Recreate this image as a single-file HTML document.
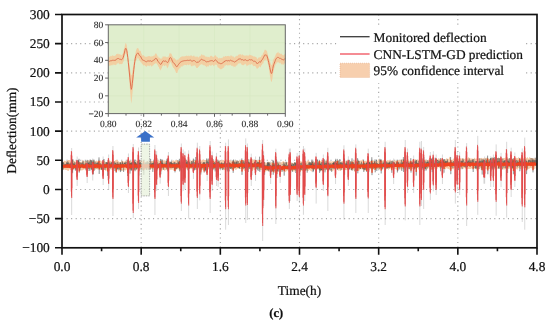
<!DOCTYPE html><html><head><meta charset="utf-8"><style>html,body{margin:0;padding:0;background:#fff;}svg{display:block}</style></head><body>
<svg width="550" height="322" viewBox="0 0 550 322" text-rendering="geometricPrecision">
<rect width="550" height="322" fill="#fff"/>
<path d="M62.0,43.66 H537.0 M62.0,72.83 H537.0 M62.0,101.99 H537.0 M62.0,131.15 H537.0 M62.0,160.31 H537.0 M62.0,189.47 H537.0 M62.0,218.64 H537.0 M141.17,14.5 V247.8 M220.33,14.5 V247.8 M299.50,14.5 V247.8 M378.67,14.5 V247.8 M457.83,14.5 V247.8" stroke="#a4a4a4" stroke-width="1.1" stroke-dasharray="1.1 3.45" fill="none"/>
<path d="M62.6,161.4 L63.6,161.8 L64.6,160.6 L65.6,161.1 L66.6,161.4 L67.6,160.0 L68.6,160.1 L69.6,159.9 L70.6,162.1 L71.6,160.8 L72.6,160.1 L73.6,160.4 L74.6,160.9 L75.6,161.7 L76.6,160.7 L77.6,160.7 L78.6,160.9 L79.6,162.3 L80.6,161.5 L81.6,162.5 L82.6,159.6 L83.6,161.7 L84.6,161.0 L85.6,161.0 L86.6,160.7 L87.6,160.5 L88.6,160.4 L89.6,160.6 L90.6,160.5 L91.6,160.7 L92.6,160.8 L93.6,159.8 L94.6,161.5 L95.6,161.6 L96.6,160.4 L97.6,160.9 L98.6,161.3 L99.6,160.8 L100.6,160.4 L101.6,161.4 L102.6,161.2 L103.6,161.5 L104.6,160.9 L105.6,161.9 L106.6,162.1 L107.6,161.3 L108.6,161.3 L109.6,160.4 L110.6,161.1 L111.6,161.5 L112.6,161.3 L113.6,161.1 L114.6,161.2 L115.6,159.9 L116.6,159.8 L117.6,160.3 L118.6,161.5 L119.6,162.0 L120.6,162.0 L121.6,160.8 L122.6,160.8 L123.6,161.8 L124.6,161.6 L125.6,161.1 L126.6,160.4 L127.6,161.6 L128.6,159.7 L129.6,160.8 L130.6,160.9 L131.6,161.2 L132.6,161.7 L133.6,160.7 L134.6,161.8 L135.6,161.8 L136.6,160.0 L137.6,161.1 L138.6,160.3 L139.6,161.8 L140.6,161.0 L141.6,160.2 L142.6,160.6 L143.6,159.8 L144.6,160.9 L145.6,161.9 L146.6,160.9 L147.6,161.1 L148.6,161.6 L149.6,161.6 L150.6,161.2 L151.6,161.0 L152.6,161.0 L153.6,161.0 L154.6,161.7 L155.6,162.1 L156.6,161.1 L157.6,159.9 L158.6,160.5 L159.6,160.9 L160.6,162.0 L161.6,160.7 L162.6,160.1 L163.6,160.8 L164.6,160.2 L165.6,160.7 L166.6,160.9 L167.6,159.8 L168.6,160.8 L169.6,161.1 L170.6,162.1 L171.6,161.8 L172.6,160.7 L173.6,160.2 L174.6,161.1 L175.6,160.2 L176.6,159.9 L177.6,160.3 L178.6,161.2 L179.6,160.4 L180.6,161.4 L181.6,161.2 L182.6,159.5 L183.6,160.6 L184.6,159.6 L185.6,161.1 L186.6,160.0 L187.6,160.7 L188.6,161.2 L189.6,160.0 L190.6,161.2 L191.6,160.6 L192.6,160.1 L193.6,160.4 L194.6,160.7 L195.6,160.2 L196.6,160.1 L197.6,161.6 L198.6,160.6 L199.6,159.6 L200.6,159.5 L201.6,160.7 L202.6,159.6 L203.6,159.8 L204.6,160.0 L205.6,160.0 L206.6,160.2 L207.6,159.7 L208.6,159.8 L209.6,160.6 L210.6,161.1 L211.6,161.1 L212.6,159.9 L213.6,160.6 L214.6,160.6 L215.6,161.6 L216.6,160.1 L217.6,160.7 L218.6,161.0 L219.6,160.2 L220.6,160.6 L221.6,160.8 L222.6,160.0 L223.6,159.9 L224.6,160.6 L225.6,160.7 L226.6,160.0 L227.6,160.0 L228.6,161.8 L229.6,159.8 L230.6,160.7 L231.6,161.2 L232.6,160.6 L233.6,160.8 L234.6,160.7 L235.6,160.3 L236.6,161.1 L237.6,160.7 L238.6,160.8 L239.6,160.5 L240.6,160.1 L241.6,160.4 L242.6,160.1 L243.6,160.0 L244.6,160.1 L245.6,160.2 L246.6,160.3 L247.6,159.0 L248.6,161.1 L249.6,159.3 L250.6,160.4 L251.6,160.5 L252.6,158.9 L253.6,160.4 L254.6,159.1 L255.6,160.1 L256.6,159.7 L257.6,160.5 L258.6,160.1 L259.6,160.2 L260.6,160.3 L261.6,158.8 L262.6,161.4 L263.6,162.7 L264.6,162.1 L265.6,162.5 L266.6,163.1 L267.6,162.8 L268.6,161.5 L269.6,161.9 L270.6,162.9 L271.6,162.3 L272.6,161.2 L273.6,163.2 L274.6,162.5 L275.6,162.0 L276.6,162.4 L277.6,162.4 L278.6,162.5 L279.6,161.5 L280.6,162.6 L281.6,162.2 L282.6,161.5 L283.6,161.1 L284.6,162.2 L285.6,162.6 L286.6,162.6 L287.6,161.9 L288.6,162.4 L289.6,162.0 L290.6,162.3 L291.6,162.5 L292.6,163.0 L293.6,163.1 L294.6,161.9 L295.6,162.8 L296.6,162.2 L297.6,162.0 L298.6,161.1 L299.6,162.4 L300.6,160.9 L301.6,161.5 L302.6,162.0 L303.6,162.3 L304.6,162.4 L305.6,161.0 L306.6,161.7 L307.6,160.7 L308.6,160.5 L309.6,161.5 L310.6,162.5 L311.6,161.0 L312.6,161.7 L313.6,161.1 L314.6,162.0 L315.6,161.0 L316.6,162.5 L317.6,161.0 L318.6,160.9 L319.6,161.6 L320.6,161.1 L321.6,160.6 L322.6,162.2 L323.6,162.7 L324.6,161.5 L325.6,160.2 L326.6,160.4 L327.6,161.4 L328.6,162.1 L329.6,161.3 L330.6,161.2 L331.6,161.5 L332.6,161.2 L333.6,161.3 L334.6,161.0 L335.6,161.4 L336.6,160.9 L337.6,160.7 L338.6,160.3 L339.6,161.8 L340.6,161.8 L341.6,161.2 L342.6,161.1 L343.6,160.9 L344.6,161.7 L345.6,161.2 L346.6,160.1 L347.6,161.8 L348.6,161.6 L349.6,160.4 L350.6,161.8 L351.6,160.6 L352.6,160.9 L353.6,160.5 L354.6,160.2 L355.6,162.0 L356.6,161.6 L357.6,159.5 L358.6,161.1 L359.6,160.7 L360.6,160.4 L361.6,160.6 L362.6,159.3 L363.6,161.9 L364.6,161.1 L365.6,160.7 L366.6,160.9 L367.6,160.4 L368.6,159.3 L369.6,160.8 L370.6,160.9 L371.6,160.9 L372.6,160.1 L373.6,160.5 L374.6,161.2 L375.6,161.1 L376.6,161.5 L377.6,160.8 L378.6,158.8 L379.6,160.7 L380.6,159.8 L381.6,161.4 L382.6,160.3 L383.6,159.9 L384.6,160.1 L385.6,161.0 L386.6,161.1 L387.6,160.1 L388.6,160.5 L389.6,159.9 L390.6,160.7 L391.6,160.5 L392.6,160.7 L393.6,160.8 L394.6,160.3 L395.6,161.0 L396.6,160.8 L397.6,159.9 L398.6,160.3 L399.6,160.3 L400.6,159.4 L401.6,160.1 L402.6,159.0 L403.6,160.6 L404.6,161.1 L405.6,159.9 L406.6,160.0 L407.6,160.1 L408.6,159.7 L409.6,160.9 L410.6,160.6 L411.6,161.0 L412.6,159.8 L413.6,160.8 L414.6,159.3 L415.6,159.1 L416.6,160.6 L417.6,159.8 L418.6,159.7 L419.6,159.7 L420.6,160.6 L421.6,159.2 L422.6,160.2 L423.6,160.5 L424.6,160.2 L425.6,159.2 L426.6,160.7 L427.6,160.0 L428.6,159.6 L429.6,159.9 L430.6,160.4 L431.6,159.7 L432.6,160.6 L433.6,158.9 L434.6,160.2 L435.6,159.4 L436.6,158.4 L437.6,159.7 L438.6,157.9 L439.6,159.3 L440.6,160.3 L441.6,158.5 L442.6,159.3 L443.6,159.4 L444.6,159.6 L445.6,159.9 L446.6,157.9 L447.6,158.8 L448.6,159.3 L449.6,156.4 L450.6,158.7 L451.6,160.1 L452.6,159.8 L453.6,158.5 L454.6,156.9 L455.6,158.9 L456.6,159.0 L457.6,158.9 L458.6,158.9 L459.6,160.2 L460.6,158.6 L461.6,158.4 L462.6,158.3 L463.6,158.5 L464.6,158.9 L465.6,158.3 L466.6,158.5 L467.6,158.4 L468.6,157.1 L469.6,158.2 L470.6,158.6 L471.6,158.6 L472.6,158.6 L473.6,159.2 L474.6,157.6 L475.6,158.9 L476.6,158.4 L477.6,158.6 L478.6,158.3 L479.6,159.2 L480.6,158.4 L481.6,157.8 L482.6,158.8 L483.6,158.1 L484.6,158.5 L485.6,158.1 L486.6,157.8 L487.6,157.6 L488.6,158.4 L489.6,159.0 L490.6,157.8 L491.6,158.8 L492.6,157.0 L493.6,158.3 L494.6,158.7 L495.6,159.3 L496.6,157.3 L497.6,158.2 L498.6,157.2 L499.6,158.5 L500.6,158.9 L501.6,157.6 L502.6,158.6 L503.6,157.9 L504.6,158.0 L505.6,157.5 L506.6,157.9 L507.6,156.8 L508.6,159.2 L509.6,158.5 L510.6,157.9 L511.6,158.9 L512.6,159.0 L513.6,158.1 L514.6,159.7 L515.6,157.3 L516.6,157.9 L517.6,158.2 L518.6,157.1 L519.6,159.0 L520.6,157.4 L521.6,158.1 L522.6,157.4 L523.6,158.5 L524.6,157.4 L525.6,157.1 L526.6,158.2 L527.6,157.1 L528.6,159.1 L529.6,156.7 L530.6,157.9 L531.6,158.1 L532.6,158.1 L533.6,158.4 L534.6,158.7 L535.6,157.7 L535.6,168.6 L534.6,168.8 L533.6,169.1 L532.6,168.5 L531.6,168.2 L530.6,168.0 L529.6,168.6 L528.6,169.2 L527.6,168.3 L526.6,168.0 L525.6,168.6 L524.6,168.2 L523.6,168.6 L522.6,168.3 L521.6,168.7 L520.6,169.3 L519.6,168.8 L518.6,167.4 L517.6,169.7 L516.6,169.2 L515.6,168.5 L514.6,169.3 L513.6,168.1 L512.6,168.9 L511.6,169.2 L510.6,167.7 L509.6,168.5 L508.6,169.1 L507.6,168.5 L506.6,169.5 L505.6,168.2 L504.6,169.4 L503.6,169.5 L502.6,168.9 L501.6,167.9 L500.6,168.8 L499.6,168.8 L498.6,168.5 L497.6,168.7 L496.6,170.0 L495.6,169.5 L494.6,169.7 L493.6,167.9 L492.6,168.2 L491.6,169.0 L490.6,169.2 L489.6,168.9 L488.6,169.1 L487.6,168.9 L486.6,169.6 L485.6,169.0 L484.6,169.1 L483.6,169.2 L482.6,168.8 L481.6,167.9 L480.6,168.1 L479.6,168.9 L478.6,168.8 L477.6,170.1 L476.6,170.8 L475.6,168.6 L474.6,168.6 L473.6,168.8 L472.6,169.7 L471.6,168.2 L470.6,169.1 L469.6,168.9 L468.6,168.9 L467.6,169.1 L466.6,169.5 L465.6,168.9 L464.6,168.1 L463.6,168.4 L462.6,169.2 L461.6,168.0 L460.6,168.4 L459.6,170.2 L458.6,168.3 L457.6,168.1 L456.6,168.7 L455.6,168.3 L454.6,167.8 L453.6,169.4 L452.6,168.9 L451.6,169.2 L450.6,168.7 L449.6,169.7 L448.6,169.0 L447.6,168.8 L446.6,167.9 L445.6,169.4 L444.6,168.7 L443.6,168.6 L442.6,168.0 L441.6,167.5 L440.6,169.4 L439.6,168.0 L438.6,167.1 L437.6,168.6 L436.6,169.7 L435.6,169.9 L434.6,169.1 L433.6,168.5 L432.6,169.6 L431.6,169.9 L430.6,168.9 L429.6,169.5 L428.6,168.0 L427.6,168.7 L426.6,170.1 L425.6,169.2 L424.6,168.4 L423.6,168.5 L422.6,168.2 L421.6,168.8 L420.6,168.5 L419.6,168.1 L418.6,170.1 L417.6,167.8 L416.6,168.9 L415.6,169.0 L414.6,167.5 L413.6,169.8 L412.6,169.0 L411.6,169.0 L410.6,168.6 L409.6,169.0 L408.6,169.1 L407.6,169.2 L406.6,168.0 L405.6,169.3 L404.6,169.0 L403.6,169.6 L402.6,168.5 L401.6,169.7 L400.6,169.6 L399.6,168.9 L398.6,168.1 L397.6,168.0 L396.6,169.6 L395.6,169.2 L394.6,168.8 L393.6,169.7 L392.6,168.7 L391.6,168.6 L390.6,168.7 L389.6,168.5 L388.6,170.3 L387.6,168.6 L386.6,169.0 L385.6,169.4 L384.6,170.2 L383.6,168.2 L382.6,168.2 L381.6,169.7 L380.6,168.9 L379.6,170.0 L378.6,169.1 L377.6,168.9 L376.6,169.3 L375.6,169.0 L374.6,170.3 L373.6,169.0 L372.6,169.8 L371.6,170.7 L370.6,168.8 L369.6,170.2 L368.6,170.7 L367.6,169.6 L366.6,169.8 L365.6,170.2 L364.6,170.5 L363.6,170.5 L362.6,169.5 L361.6,169.2 L360.6,169.0 L359.6,170.8 L358.6,168.9 L357.6,170.1 L356.6,170.9 L355.6,170.3 L354.6,172.3 L353.6,169.9 L352.6,169.5 L351.6,170.4 L350.6,169.8 L349.6,168.6 L348.6,169.8 L347.6,169.8 L346.6,170.2 L345.6,170.1 L344.6,170.3 L343.6,168.9 L342.6,169.7 L341.6,169.8 L340.6,171.2 L339.6,170.2 L338.6,171.1 L337.6,168.7 L336.6,168.8 L335.6,169.2 L334.6,169.2 L333.6,170.3 L332.6,171.6 L331.6,169.9 L330.6,171.3 L329.6,169.8 L328.6,170.2 L327.6,170.3 L326.6,169.3 L325.6,170.7 L324.6,169.7 L323.6,171.0 L322.6,170.2 L321.6,171.2 L320.6,170.6 L319.6,169.9 L318.6,169.0 L317.6,169.3 L316.6,171.0 L315.6,170.5 L314.6,169.9 L313.6,169.7 L312.6,169.6 L311.6,171.8 L310.6,170.7 L309.6,169.7 L308.6,170.8 L307.6,170.9 L306.6,171.0 L305.6,169.6 L304.6,170.8 L303.6,170.5 L302.6,171.2 L301.6,170.6 L300.6,171.1 L299.6,170.3 L298.6,170.6 L297.6,170.4 L296.6,170.6 L295.6,170.8 L294.6,171.4 L293.6,171.4 L292.6,170.9 L291.6,170.8 L290.6,171.1 L289.6,172.6 L288.6,171.9 L287.6,170.2 L286.6,171.1 L285.6,172.3 L284.6,170.5 L283.6,170.6 L282.6,169.8 L281.6,172.3 L280.6,170.8 L279.6,172.2 L278.6,170.3 L277.6,172.0 L276.6,170.3 L275.6,170.4 L274.6,172.9 L273.6,172.5 L272.6,171.9 L271.6,170.6 L270.6,171.7 L269.6,171.7 L268.6,171.0 L267.6,171.1 L266.6,171.2 L265.6,170.5 L264.6,170.9 L263.6,170.5 L262.6,169.9 L261.6,169.9 L260.6,169.9 L259.6,169.8 L258.6,168.5 L257.6,169.0 L256.6,168.5 L255.6,168.8 L254.6,170.3 L253.6,169.6 L252.6,169.2 L251.6,170.6 L250.6,168.8 L249.6,169.2 L248.6,169.6 L247.6,169.3 L246.6,170.3 L245.6,170.8 L244.6,171.0 L243.6,170.1 L242.6,168.1 L241.6,169.0 L240.6,168.9 L239.6,168.8 L238.6,168.8 L237.6,168.5 L236.6,169.6 L235.6,169.9 L234.6,168.9 L233.6,169.3 L232.6,169.0 L231.6,169.2 L230.6,169.0 L229.6,168.6 L228.6,170.1 L227.6,169.7 L226.6,169.4 L225.6,170.0 L224.6,170.1 L223.6,170.3 L222.6,169.2 L221.6,169.0 L220.6,169.2 L219.6,168.5 L218.6,169.4 L217.6,169.5 L216.6,169.0 L215.6,170.1 L214.6,169.4 L213.6,169.2 L212.6,169.6 L211.6,169.1 L210.6,169.5 L209.6,168.8 L208.6,169.2 L207.6,168.8 L206.6,169.2 L205.6,170.4 L204.6,168.9 L203.6,170.0 L202.6,169.9 L201.6,168.9 L200.6,169.5 L199.6,168.5 L198.6,168.9 L197.6,171.6 L196.6,169.1 L195.6,169.3 L194.6,169.4 L193.6,170.3 L192.6,168.1 L191.6,169.3 L190.6,169.1 L189.6,168.3 L188.6,170.3 L187.6,169.5 L186.6,169.2 L185.6,169.2 L184.6,168.7 L183.6,169.9 L182.6,167.6 L181.6,169.9 L180.6,169.4 L179.6,169.8 L178.6,169.5 L177.6,169.0 L176.6,170.1 L175.6,169.2 L174.6,169.1 L173.6,171.0 L172.6,169.6 L171.6,169.8 L170.6,170.0 L169.6,169.1 L168.6,171.2 L167.6,170.7 L166.6,169.4 L165.6,170.0 L164.6,171.1 L163.6,168.8 L162.6,170.3 L161.6,170.1 L160.6,169.8 L159.6,169.4 L158.6,169.2 L157.6,169.8 L156.6,169.8 L155.6,170.0 L154.6,170.1 L153.6,169.5 L152.6,169.3 L151.6,168.8 L150.6,169.6 L149.6,169.7 L148.6,169.5 L147.6,170.3 L146.6,170.0 L145.6,169.9 L144.6,169.8 L143.6,168.7 L142.6,170.4 L141.6,169.4 L140.6,169.3 L139.6,169.8 L138.6,170.3 L137.6,169.1 L136.6,170.3 L135.6,170.3 L134.6,170.6 L133.6,168.6 L132.6,170.0 L131.6,169.9 L130.6,168.7 L129.6,168.7 L128.6,170.4 L127.6,169.5 L126.6,169.4 L125.6,170.5 L124.6,170.2 L123.6,170.2 L122.6,170.9 L121.6,170.2 L120.6,170.0 L119.6,170.2 L118.6,171.5 L117.6,168.5 L116.6,170.4 L115.6,169.3 L114.6,169.3 L113.6,169.0 L112.6,169.6 L111.6,169.7 L110.6,168.9 L109.6,171.6 L108.6,169.3 L107.6,169.1 L106.6,170.5 L105.6,170.9 L104.6,169.7 L103.6,170.0 L102.6,170.5 L101.6,170.3 L100.6,169.8 L99.6,169.8 L98.6,169.6 L97.6,169.4 L96.6,169.1 L95.6,169.8 L94.6,169.4 L93.6,169.7 L92.6,169.1 L91.6,169.4 L90.6,168.9 L89.6,169.1 L88.6,169.3 L87.6,168.8 L86.6,170.9 L85.6,170.5 L84.6,169.0 L83.6,169.8 L82.6,170.3 L81.6,170.4 L80.6,170.0 L79.6,170.9 L78.6,169.1 L77.6,170.5 L76.6,169.4 L75.6,169.8 L74.6,169.2 L73.6,169.6 L72.6,168.7 L71.6,169.1 L70.6,170.3 L69.6,169.0 L68.6,170.9 L67.6,170.7 L66.6,169.9 L65.6,169.9 L64.6,169.5 L63.6,169.6 L62.6,169.7Z" fill="#f7c9a6"/>
<path d="M71.65,148.00 V215.00 M77.15,156.50 V186.00 M87.15,159.50 V183.00 M92.75,158.50 V180.50 M103.15,156.50 V185.00 M108.65,154.50 V190.00 M112.95,146.00 V216.00 M128.45,153.50 V193.00 M133.25,144.00 V218.00 M138.55,147.50 V209.00 M154.95,145.00 V215.00 M156.65,151.20 V191.00 M160.15,159.50 V183.70 M168.45,152.00 V196.00 M181.35,143.50 V211.00 M183.15,149.50 V191.00 M184.95,151.50 V189.00 M188.65,150.30 V218.50 M193.45,159.50 V179.00 M197.35,142.70 V209.00 M199.75,146.00 V200.30 M207.15,159.50 V181.00 M210.15,141.00 V213.00 M212.15,151.50 V191.00 M216.55,152.90 V186.00 M218.15,159.50 V187.00 M225.65,142.70 V229.70 M228.45,139.30 V225.00 M245.75,138.40 V223.00 M247.45,143.50 V220.00 M251.25,153.70 V186.00 M255.55,156.50 V181.00 M262.65,140.00 V241.00 M263.65,151.50 V206.00 M270.65,161.50 V184.00 M275.85,148.70 V224.00 M280.15,161.50 V183.00 M289.35,148.70 V209.00 M290.35,148.50 V201.00 M297.15,152.90 V201.00 M299.35,152.00 V203.00 M303.45,146.00 V214.80 M304.75,148.50 V201.00 M316.15,152.90 V203.60 M323.35,154.50 V191.00 M327.85,147.80 V211.00 M335.55,158.50 V184.00 M343.95,145.30 V219.50 M348.35,156.30 V186.00 M355.85,144.40 V213.00 M368.25,148.70 V213.00 M385.15,141.80 V225.00 M393.65,158.50 V184.00 M405.25,140.00 V220.40 M407.55,148.50 V193.00 M413.65,155.50 V193.00 M419.85,141.80 V225.00 M421.45,141.00 V206.00 M423.65,146.90 V209.00 M430.35,152.00 V200.00 M433.35,151.20 V191.40 M436.15,154.50 V195.00 M442.45,154.50 V184.00 M455.35,140.00 V203.60 M457.25,151.50 V191.00 M459.65,152.00 V195.00 M466.65,143.10 V226.00 M477.75,135.90 V214.80 M484.65,156.50 V183.70 M483.95,159.50 V183.70 M490.75,156.30 V187.00 M493.45,154.50 V187.00 M496.15,144.40 V215.70 M501.05,152.90 V187.00 M506.65,141.80 V217.60 M511.15,147.70 V197.00 M514.85,152.50 V187.00 M522.25,148.50 V222.00 M524.75,137.60 V229.70" stroke="#aaa" stroke-width="0.45" fill="none"/>
<path d="M62.60,164.41 L62.80,161.99 L63.00,169.81 L63.20,168.97 L63.40,167.55 L63.60,162.48 L63.80,166.05 L64.00,164.99 L64.20,165.81 L64.40,165.11 L64.60,166.95 L64.80,164.57 L65.00,167.82 L65.20,166.22 L65.40,164.83 L65.60,165.30 L65.80,164.45 L66.00,167.71 L66.20,164.88 L66.40,166.36 L66.60,164.57 L66.80,161.73 L67.00,167.94 L67.20,162.84 L67.40,167.35 L67.60,166.68 L67.80,161.28 L68.00,163.13 L68.20,164.25 L68.40,163.45 L68.60,162.51 L68.80,167.51 L69.00,164.96 L69.20,166.59 L69.40,164.46 L69.60,166.38 L69.80,163.63 L70.00,165.51 L70.20,167.09 L70.40,165.70 L70.60,164.39 L70.80,162.75 L71.00,166.02 L71.20,166.48 L71.40,164.91 L71.60,163.58 L71.80,166.99 L72.00,172.03 L72.20,164.79 L72.40,159.74 L72.60,173.20 L72.80,159.08 L73.00,165.90 L73.20,163.74 L73.40,169.17 L73.60,164.91 L73.80,163.55 L74.00,165.00 L74.20,166.01 L74.40,164.12 L74.60,165.43 L74.80,162.05 L75.00,164.98 L75.20,167.59 L75.40,170.69 L75.60,167.41 L75.80,166.28 L76.00,168.65 L76.20,168.22 L76.40,169.89 L76.60,168.38 L76.80,165.26 L77.00,166.24 L77.20,166.03 L77.40,166.35 L77.60,166.09 L77.80,163.53 L78.00,160.09 L78.20,163.82 L78.40,160.30 L78.60,165.74 L78.80,165.57 L79.00,158.85 L79.20,172.65 L79.40,167.81 L79.60,165.81 L79.80,169.90 L80.00,170.43 L80.20,162.42 L80.40,168.25 L80.60,166.70 L80.80,166.64 L81.00,167.99 L81.20,163.69 L81.40,164.02 L81.60,163.41 L81.80,163.59 L82.00,165.30 L82.20,161.78 L82.40,162.83 L82.60,167.05 L82.80,165.37 L83.00,166.55 L83.20,160.64 L83.40,163.51 L83.60,164.11 L83.80,165.64 L84.00,164.03 L84.20,167.98 L84.40,165.40 L84.60,165.59 L84.80,165.58 L85.00,167.39 L85.20,164.32 L85.40,168.47 L85.60,166.74 L85.80,165.95 L86.00,160.54 L86.20,170.20 L86.40,168.18 L86.60,168.00 L86.80,166.52 L87.00,167.82 L87.20,165.85 L87.40,168.80 L87.60,165.47 L87.80,160.15 L88.00,169.02 L88.20,165.82 L88.40,162.50 L88.60,165.02 L88.80,163.24 L89.00,171.00 L89.20,166.83 L89.40,161.46 L89.60,166.96 L89.80,164.50 L90.00,170.52 L90.20,162.80 L90.40,159.69 L90.60,165.71 L90.80,164.63 L91.00,164.45 L91.20,159.97 L91.40,166.64 L91.60,169.88 L91.80,160.57 L92.00,168.58 L92.20,164.05 L92.40,171.64 L92.60,166.66 L92.80,165.04 L93.00,168.40 L93.20,159.62 L93.40,174.22 L93.60,167.37 L93.80,164.20 L94.00,160.88 L94.20,170.81 L94.40,164.62 L94.60,163.94 L94.80,166.41 L95.00,161.47 L95.20,162.01 L95.40,164.23 L95.60,164.17 L95.80,165.71 L96.00,168.44 L96.20,164.29 L96.40,166.80 L96.60,167.09 L96.80,162.70 L97.00,166.11 L97.20,163.07 L97.40,168.29 L97.60,166.70 L97.80,165.56 L98.00,162.03 L98.20,165.82 L98.40,163.52 L98.60,167.35 L98.80,165.21 L99.00,157.42 L99.20,173.94 L99.40,167.39 L99.60,163.97 L99.80,168.54 L100.00,164.74 L100.20,164.71 L100.40,165.83 L100.60,163.56 L100.80,164.36 L101.00,165.09 L101.20,169.49 L101.40,169.41 L101.60,164.84 L101.80,169.70 L102.00,165.40 L102.20,166.50 L102.40,167.81 L102.60,166.27 L102.80,171.79 L103.00,166.14 L103.20,162.39 L103.40,168.90 L103.60,164.43 L103.80,164.71 L104.00,159.00 L104.20,168.11 L104.40,167.63 L104.60,167.58 L104.80,168.05 L105.00,169.90 L105.20,165.38 L105.40,167.94 L105.60,163.57 L105.80,164.58 L106.00,168.25 L106.20,166.52 L106.40,162.03 L106.60,166.44 L106.80,165.02 L107.00,163.37 L107.20,166.63 L107.40,162.42 L107.60,175.85 L107.80,162.61 L108.00,170.10 L108.20,161.56 L108.40,166.07 L108.60,167.08 L108.80,167.16 L109.00,162.31 L109.20,164.66 L109.40,165.86 L109.60,167.57 L109.80,163.81 L110.00,162.47 L110.20,168.10 L110.40,168.36 L110.60,166.45 L110.80,163.91 L111.00,166.55 L111.20,165.77 L111.40,167.67 L111.60,162.24 L111.80,165.79 L112.00,165.07 L112.20,162.60 L112.40,166.05 L112.60,165.58 L112.80,164.42 L113.00,166.51 L113.20,161.79 L113.40,165.34 L113.60,166.60 L113.80,166.22 L114.00,168.28 L114.20,162.36 L114.40,161.56 L114.60,166.10 L114.80,166.66 L115.00,170.99 L115.20,167.08 L115.40,163.21 L115.60,167.57 L115.80,163.28 L116.00,162.61 L116.20,172.86 L116.40,166.32 L116.60,167.33 L116.80,166.94 L117.00,170.19 L117.20,166.21 L117.40,168.64 L117.60,162.80 L117.80,161.85 L118.00,169.18 L118.20,169.31 L118.40,166.80 L118.60,166.06 L118.80,165.90 L119.00,163.68 L119.20,169.47 L119.40,167.18 L119.60,166.78 L119.80,166.45 L120.00,168.19 L120.20,162.43 L120.40,172.08 L120.60,162.43 L120.80,166.79 L121.00,171.15 L121.20,164.12 L121.40,165.13 L121.60,167.78 L121.80,167.95 L122.00,167.09 L122.20,161.26 L122.40,166.77 L122.60,162.38 L122.80,163.32 L123.00,166.89 L123.20,164.69 L123.40,167.57 L123.60,171.96 L123.80,167.48 L124.00,167.34 L124.20,163.13 L124.40,163.79 L124.60,162.69 L124.80,164.07 L125.00,162.62 L125.20,163.74 L125.40,164.91 L125.60,162.85 L125.80,161.77 L126.00,161.91 L126.20,166.63 L126.40,165.61 L126.60,168.12 L126.80,168.17 L127.00,164.57 L127.20,167.19 L127.40,160.10 L127.60,176.02 L127.80,168.56 L128.00,164.89 L128.20,162.43 L128.40,166.44 L128.60,160.59 L128.80,163.42 L129.00,167.39 L129.20,165.64 L129.40,164.17 L129.60,167.92 L129.80,161.31 L130.00,173.59 L130.20,164.15 L130.40,163.24 L130.60,166.65 L130.80,162.86 L131.00,170.39 L131.20,163.92 L131.40,170.62 L131.60,162.60 L131.80,167.02 L132.00,162.32 L132.20,161.95 L132.40,165.86 L132.60,167.20 L132.80,162.13 L133.00,168.52 L133.20,163.36 L133.40,165.78 L133.60,166.42 L133.80,166.98 L134.00,160.76 L134.20,169.64 L134.40,166.90 L134.60,164.33 L134.80,159.53 L135.00,171.22 L135.20,161.89 L135.40,166.85 L135.60,164.55 L135.80,162.49 L136.00,164.06 L136.20,169.50 L136.40,164.57 L136.60,163.91 L136.80,168.94 L137.00,166.63 L137.20,165.54 L137.40,163.85 L137.60,161.39 L137.80,162.38 L138.00,164.18 L138.20,164.86 L138.40,166.35 L138.60,160.52 L138.80,175.67 L139.00,166.00 L139.20,162.80 L139.40,159.82 L139.60,164.07 L139.80,162.94 L140.00,163.73 L140.20,164.71 L140.40,162.19 L140.60,162.53 L140.80,165.16 L141.00,165.72 L141.20,163.71 L141.40,166.72 L141.60,164.85 L141.80,162.77 L142.00,165.52 L142.20,170.31 L142.40,163.66 L142.60,168.45 L142.80,169.00 L143.00,169.31 L143.20,163.28 L143.40,170.65 L143.60,159.75 L143.80,174.93 L144.00,164.81 L144.20,166.98 L144.40,165.55 L144.60,164.95 L144.80,168.75 L145.00,163.53 L145.20,162.70 L145.40,167.47 L145.60,167.24 L145.80,168.25 L146.00,162.62 L146.20,168.22 L146.40,166.66 L146.60,169.99 L146.80,162.16 L147.00,165.97 L147.20,164.68 L147.40,161.27 L147.60,163.55 L147.80,168.34 L148.00,164.19 L148.20,162.34 L148.40,169.94 L148.60,167.97 L148.80,167.97 L149.00,163.35 L149.20,165.25 L149.40,168.08 L149.60,163.70 L149.80,163.45 L150.00,167.55 L150.20,169.46 L150.40,162.40 L150.60,158.90 L150.80,161.62 L151.00,162.76 L151.20,165.03 L151.40,166.99 L151.60,165.01 L151.80,163.57 L152.00,165.79 L152.20,162.88 L152.40,165.26 L152.60,163.71 L152.80,171.88 L153.00,167.50 L153.20,163.21 L153.40,162.79 L153.60,164.24 L153.80,161.10 L154.00,163.47 L154.20,163.45 L154.40,167.67 L154.60,164.26 L154.80,163.31 L155.00,161.88 L155.20,162.31 L155.40,165.19 L155.60,164.80 L155.80,168.31 L156.00,163.72 L156.20,168.11 L156.40,166.03 L156.60,159.17 L156.80,170.88 L157.00,162.00 L157.20,167.28 L157.40,168.98 L157.60,165.89 L157.80,167.33 L158.00,164.29 L158.20,164.38 L158.40,163.62 L158.60,167.88 L158.80,166.23 L159.00,164.73 L159.20,164.48 L159.40,166.78 L159.60,166.18 L159.80,163.17 L160.00,169.79 L160.20,166.00 L160.40,165.36 L160.60,158.92 L160.80,174.35 L161.00,165.10 L161.20,166.72 L161.40,162.54 L161.60,163.66 L161.80,159.44 L162.00,168.49 L162.20,160.38 L162.40,167.09 L162.60,163.16 L162.80,162.77 L163.00,164.81 L163.20,166.00 L163.40,166.90 L163.60,169.92 L163.80,166.24 L164.00,167.60 L164.20,163.75 L164.40,167.16 L164.60,165.70 L164.80,164.10 L165.00,165.05 L165.20,165.14 L165.40,165.79 L165.60,166.34 L165.80,163.97 L166.00,163.37 L166.20,167.24 L166.40,160.88 L166.60,163.68 L166.80,169.32 L167.00,158.79 L167.20,163.48 L167.40,167.07 L167.60,159.83 L167.80,171.40 L168.00,158.78 L168.20,169.01 L168.40,169.33 L168.60,167.66 L168.80,164.70 L169.00,166.20 L169.20,162.94 L169.40,167.37 L169.60,162.36 L169.80,164.56 L170.00,167.86 L170.20,162.37 L170.40,164.32 L170.60,165.69 L170.80,161.77 L171.00,168.29 L171.20,166.14 L171.40,161.32 L171.60,165.13 L171.80,163.24 L172.00,163.54 L172.20,165.45 L172.40,163.41 L172.60,167.76 L172.80,163.42 L173.00,167.80 L173.20,165.13 L173.40,167.47 L173.60,163.84 L173.80,163.93 L174.00,162.24 L174.20,166.74 L174.40,167.68 L174.60,170.75 L174.80,161.99 L175.00,172.33 L175.20,164.68 L175.40,166.24 L175.60,165.16 L175.80,169.03 L176.00,167.68 L176.20,163.05 L176.40,163.44 L176.60,168.78 L176.80,166.02 L177.00,164.62 L177.20,168.30 L177.40,164.21 L177.60,164.49 L177.80,164.02 L178.00,160.11 L178.20,167.46 L178.40,162.07 L178.60,163.73 L178.80,163.27 L179.00,167.10 L179.20,165.03 L179.40,158.85 L179.60,171.35 L179.80,164.97 L180.00,161.36 L180.20,166.00 L180.40,166.15 L180.60,165.15 L180.80,170.51 L181.00,166.57 L181.20,166.74 L181.40,165.56 L181.60,164.69 L181.80,167.70 L182.00,168.05 L182.20,161.80 L182.40,167.93 L182.60,166.52 L182.80,167.68 L183.00,166.39 L183.20,161.94 L183.40,162.13 L183.60,169.92 L183.80,165.83 L184.00,161.49 L184.20,160.11 L184.40,176.59 L184.60,160.38 L184.80,159.21 L185.00,161.00 L185.20,165.87 L185.40,165.04 L185.60,164.51 L185.80,165.90 L186.00,166.72 L186.20,159.69 L186.40,164.37 L186.60,163.00 L186.80,161.95 L187.00,163.73 L187.20,164.83 L187.40,164.46 L187.60,161.37 L187.80,163.89 L188.00,170.39 L188.20,162.40 L188.40,160.76 L188.60,165.86 L188.80,166.69 L189.00,161.33 L189.20,169.03 L189.40,167.73 L189.60,163.09 L189.80,162.18 L190.00,163.55 L190.20,164.85 L190.40,166.99 L190.60,166.75 L190.80,165.07 L191.00,167.55 L191.20,165.34 L191.40,167.45 L191.60,161.47 L191.80,161.03 L192.00,167.14 L192.20,161.50 L192.40,164.33 L192.60,164.86 L192.80,163.85 L193.00,163.93 L193.20,168.73 L193.40,158.61 L193.60,167.41 L193.80,171.08 L194.00,165.17 L194.20,165.06 L194.40,166.99 L194.60,169.86 L194.80,162.01 L195.00,165.33 L195.20,164.61 L195.40,166.55 L195.60,165.51 L195.80,156.98 L196.00,169.92 L196.20,165.22 L196.40,163.35 L196.60,163.36 L196.80,164.72 L197.00,164.72 L197.20,162.04 L197.40,169.17 L197.60,164.73 L197.80,161.48 L198.00,167.94 L198.20,163.13 L198.40,166.40 L198.60,165.03 L198.80,165.73 L199.00,165.52 L199.20,163.58 L199.40,165.18 L199.60,170.36 L199.80,159.25 L200.00,165.24 L200.20,166.20 L200.40,162.33 L200.60,162.21 L200.80,174.57 L201.00,164.09 L201.20,170.46 L201.40,166.45 L201.60,165.25 L201.80,166.29 L202.00,166.70 L202.20,168.12 L202.40,166.18 L202.60,165.43 L202.80,165.51 L203.00,168.56 L203.20,167.17 L203.40,162.44 L203.60,163.39 L203.80,165.90 L204.00,162.10 L204.20,172.54 L204.40,162.55 L204.60,164.36 L204.80,166.14 L205.00,167.62 L205.20,165.06 L205.40,170.43 L205.60,164.83 L205.80,171.53 L206.00,167.63 L206.20,166.32 L206.40,163.73 L206.60,158.52 L206.80,164.62 L207.00,165.48 L207.20,170.02 L207.40,161.43 L207.60,169.97 L207.80,164.36 L208.00,166.90 L208.20,158.51 L208.40,165.37 L208.60,164.12 L208.80,166.78 L209.00,165.24 L209.20,162.04 L209.40,167.47 L209.60,166.81 L209.80,166.55 L210.00,167.62 L210.20,167.86 L210.40,164.94 L210.60,161.47 L210.80,161.39 L211.00,168.50 L211.20,166.84 L211.40,165.26 L211.60,163.86 L211.80,165.07 L212.00,165.05 L212.20,164.11 L212.40,163.17 L212.60,170.61 L212.80,165.58 L213.00,158.99 L213.20,169.39 L213.40,163.09 L213.60,166.85 L213.80,166.95 L214.00,164.41 L214.20,165.11 L214.40,164.18 L214.60,162.09 L214.80,168.35 L215.00,165.94 L215.20,171.40 L215.40,163.00 L215.60,164.61 L215.80,167.26 L216.00,164.32 L216.20,161.35 L216.40,162.49 L216.60,165.22 L216.80,165.85 L217.00,164.71 L217.20,167.56 L217.40,167.53 L217.60,165.79 L217.80,165.02 L218.00,160.33 L218.20,175.69 L218.40,167.34 L218.60,165.10 L218.80,166.11 L219.00,164.10 L219.20,161.27 L219.40,162.33 L219.60,166.93 L219.80,166.10 L220.00,169.07 L220.20,165.08 L220.40,167.18 L220.60,168.37 L220.80,167.51 L221.00,163.34 L221.20,164.45 L221.40,165.26 L221.60,162.36 L221.80,166.15 L222.00,167.58 L222.20,163.67 L222.40,170.05 L222.60,164.16 L222.80,164.39 L223.00,164.29 L223.20,163.07 L223.40,166.00 L223.60,164.96 L223.80,169.23 L224.00,166.49 L224.20,166.30 L224.40,164.33 L224.60,161.23 L224.80,164.67 L225.00,162.69 L225.20,167.37 L225.40,162.28 L225.60,170.57 L225.80,166.81 L226.00,167.07 L226.20,165.49 L226.40,165.43 L226.60,166.59 L226.80,167.29 L227.00,163.04 L227.20,166.17 L227.40,171.38 L227.60,164.65 L227.80,164.22 L228.00,163.08 L228.20,161.11 L228.40,167.97 L228.60,165.03 L228.80,165.65 L229.00,169.67 L229.20,171.37 L229.40,162.56 L229.60,167.61 L229.80,166.49 L230.00,165.91 L230.20,166.11 L230.40,164.81 L230.60,169.00 L230.80,166.46 L231.00,165.76 L231.20,168.11 L231.40,167.19 L231.60,166.06 L231.80,165.71 L232.00,169.43 L232.20,166.18 L232.40,164.62 L232.60,162.63 L232.80,163.96 L233.00,160.24 L233.20,172.80 L233.40,165.52 L233.60,159.52 L233.80,164.90 L234.00,166.53 L234.20,165.28 L234.40,162.36 L234.60,168.14 L234.80,163.03 L235.00,161.65 L235.20,162.03 L235.40,164.80 L235.60,167.39 L235.80,167.86 L236.00,165.38 L236.20,161.73 L236.40,163.12 L236.60,162.49 L236.80,164.36 L237.00,160.21 L237.20,165.11 L237.40,166.50 L237.60,164.43 L237.80,166.01 L238.00,162.38 L238.20,161.03 L238.40,163.16 L238.60,167.82 L238.80,167.49 L239.00,163.62 L239.20,167.94 L239.40,163.96 L239.60,168.74 L239.80,166.06 L240.00,163.63 L240.20,166.87 L240.40,162.78 L240.60,162.36 L240.80,161.02 L241.00,165.46 L241.20,164.65 L241.40,164.59 L241.60,163.72 L241.80,158.47 L242.00,174.87 L242.20,162.90 L242.40,168.02 L242.60,168.47 L242.80,165.65 L243.00,160.25 L243.20,163.21 L243.40,166.36 L243.60,164.81 L243.80,168.80 L244.00,161.21 L244.20,166.52 L244.40,163.13 L244.60,168.20 L244.80,164.56 L245.00,167.43 L245.20,163.07 L245.40,161.08 L245.60,161.86 L245.80,163.17 L246.00,162.08 L246.20,167.86 L246.40,168.22 L246.60,165.45 L246.80,162.05 L247.00,164.43 L247.20,162.95 L247.40,168.51 L247.60,165.55 L247.80,166.00 L248.00,158.95 L248.20,172.02 L248.40,162.72 L248.60,161.81 L248.80,165.68 L249.00,164.97 L249.20,162.63 L249.40,163.70 L249.60,168.78 L249.80,162.21 L250.00,162.32 L250.20,164.11 L250.40,162.88 L250.60,163.58 L250.80,166.08 L251.00,169.20 L251.20,160.07 L251.40,164.64 L251.60,158.82 L251.80,175.18 L252.00,164.20 L252.20,163.80 L252.40,167.29 L252.60,163.47 L252.80,164.35 L253.00,164.68 L253.20,164.95 L253.40,164.23 L253.60,167.27 L253.80,164.65 L254.00,165.12 L254.20,164.53 L254.40,162.05 L254.60,162.50 L254.80,161.93 L255.00,165.16 L255.20,162.80 L255.40,161.89 L255.60,165.27 L255.80,166.01 L256.00,160.07 L256.20,169.04 L256.40,164.73 L256.60,164.37 L256.80,167.41 L257.00,164.82 L257.20,163.07 L257.40,170.34 L257.60,161.84 L257.80,164.38 L258.00,166.83 L258.20,161.85 L258.40,164.36 L258.60,165.63 L258.80,170.87 L259.00,162.30 L259.20,164.49 L259.40,166.33 L259.60,156.69 L259.80,171.84 L260.00,165.67 L260.20,164.89 L260.40,165.76 L260.60,167.55 L260.80,167.24 L261.00,165.66 L261.20,165.58 L261.40,162.09 L261.60,164.77 L261.80,165.87 L262.00,164.42 L262.20,165.89 L262.40,163.67 L262.60,169.98 L262.80,171.76 L263.00,165.32 L263.20,167.55 L263.40,166.07 L263.60,170.14 L263.80,168.16 L264.00,167.40 L264.20,166.62 L264.40,162.10 L264.60,174.80 L264.80,168.95 L265.00,165.34 L265.20,168.58 L265.40,167.53 L265.60,170.03 L265.80,167.14 L266.00,169.84 L266.20,164.78 L266.40,168.77 L266.60,166.60 L266.80,167.68 L267.00,167.36 L267.20,169.61 L267.40,161.92 L267.60,168.01 L267.80,163.29 L268.00,170.31 L268.20,162.04 L268.40,164.56 L268.60,162.81 L268.80,171.43 L269.00,163.81 L269.20,167.46 L269.40,165.77 L269.60,162.48 L269.80,166.28 L270.00,168.88 L270.20,166.67 L270.40,169.60 L270.60,166.21 L270.80,167.17 L271.00,166.15 L271.20,168.04 L271.40,172.08 L271.60,168.08 L271.80,167.65 L272.00,165.53 L272.20,165.17 L272.40,170.94 L272.60,164.24 L272.80,164.76 L273.00,159.96 L273.20,174.72 L273.40,172.21 L273.60,160.97 L273.80,168.06 L274.00,168.98 L274.20,164.21 L274.40,165.44 L274.60,168.24 L274.80,171.35 L275.00,164.72 L275.20,163.01 L275.40,169.64 L275.60,171.07 L275.80,166.24 L276.00,161.35 L276.20,170.88 L276.40,166.59 L276.60,159.62 L276.80,178.09 L277.00,166.12 L277.20,165.92 L277.40,170.93 L277.60,170.82 L277.80,161.54 L278.00,164.66 L278.20,171.71 L278.40,166.13 L278.60,163.55 L278.80,167.10 L279.00,166.80 L279.20,166.83 L279.40,165.83 L279.60,166.27 L279.80,165.89 L280.00,167.95 L280.20,164.96 L280.40,166.32 L280.60,166.70 L280.80,170.47 L281.00,168.04 L281.20,166.78 L281.40,168.46 L281.60,168.12 L281.80,169.89 L282.00,168.38 L282.20,171.72 L282.40,170.55 L282.60,166.95 L282.80,165.98 L283.00,169.35 L283.20,168.40 L283.40,166.80 L283.60,163.21 L283.80,162.28 L284.00,163.78 L284.20,175.63 L284.40,169.13 L284.60,163.69 L284.80,169.74 L285.00,165.65 L285.20,168.05 L285.40,168.12 L285.60,164.95 L285.80,165.49 L286.00,161.64 L286.20,164.65 L286.40,162.34 L286.60,168.16 L286.80,167.18 L287.00,169.40 L287.20,167.95 L287.40,165.37 L287.60,167.92 L287.80,166.00 L288.00,168.60 L288.20,167.83 L288.40,164.44 L288.60,167.02 L288.80,167.15 L289.00,166.21 L289.20,169.33 L289.40,171.46 L289.60,166.05 L289.80,166.09 L290.00,161.16 L290.20,166.65 L290.40,161.29 L290.60,173.12 L290.80,167.69 L291.00,168.47 L291.20,165.01 L291.40,165.93 L291.60,164.38 L291.80,168.86 L292.00,162.91 L292.20,166.03 L292.40,171.90 L292.60,166.95 L292.80,168.02 L293.00,166.41 L293.20,163.72 L293.40,166.68 L293.60,167.80 L293.80,164.08 L294.00,167.61 L294.20,169.94 L294.40,169.47 L294.60,162.56 L294.80,164.13 L295.00,162.45 L295.20,169.42 L295.40,168.21 L295.60,162.69 L295.80,173.02 L296.00,163.55 L296.20,166.77 L296.40,166.81 L296.60,164.32 L296.80,166.89 L297.00,168.19 L297.20,167.09 L297.40,163.78 L297.60,160.98 L297.80,165.78 L298.00,166.87 L298.20,165.75 L298.40,165.30 L298.60,164.60 L298.80,168.24 L299.00,166.23 L299.20,166.68 L299.40,163.82 L299.60,161.02 L299.80,175.83 L300.00,163.69 L300.20,163.02 L300.40,165.44 L300.60,169.41 L300.80,166.78 L301.00,170.08 L301.20,165.94 L301.40,165.47 L301.60,162.65 L301.80,164.77 L302.00,170.00 L302.20,167.11 L302.40,168.16 L302.60,168.09 L302.80,166.23 L303.00,165.72 L303.20,166.56 L303.40,167.99 L303.60,167.43 L303.80,167.51 L304.00,166.63 L304.20,164.23 L304.40,165.54 L304.60,163.77 L304.80,168.83 L305.00,160.75 L305.20,161.64 L305.40,170.93 L305.60,165.32 L305.80,163.25 L306.00,166.15 L306.20,169.55 L306.40,165.77 L306.60,167.78 L306.80,166.44 L307.00,165.21 L307.20,172.68 L307.40,166.36 L307.60,164.77 L307.80,164.89 L308.00,167.15 L308.20,167.22 L308.40,168.16 L308.60,166.52 L308.80,162.43 L309.00,167.53 L309.20,165.34 L309.40,165.39 L309.60,162.28 L309.80,164.64 L310.00,164.24 L310.20,166.03 L310.40,162.34 L310.60,166.25 L310.80,166.44 L311.00,163.20 L311.20,164.48 L311.40,163.87 L311.60,168.46 L311.80,159.60 L312.00,165.20 L312.20,161.77 L312.40,164.97 L312.60,168.29 L312.80,161.23 L313.00,172.13 L313.20,163.88 L313.40,171.11 L313.60,168.44 L313.80,168.99 L314.00,162.61 L314.20,163.19 L314.40,168.86 L314.60,165.54 L314.80,165.38 L315.00,166.91 L315.20,162.78 L315.40,168.05 L315.60,166.08 L315.80,167.28 L316.00,164.28 L316.20,167.36 L316.40,164.19 L316.60,168.50 L316.80,168.95 L317.00,168.38 L317.20,167.35 L317.40,167.65 L317.60,159.50 L317.80,168.17 L318.00,165.28 L318.20,166.23 L318.40,165.25 L318.60,162.36 L318.80,164.58 L319.00,167.69 L319.20,169.66 L319.40,159.85 L319.60,172.86 L319.80,169.74 L320.00,163.66 L320.20,171.35 L320.40,166.08 L320.60,163.65 L320.80,168.50 L321.00,170.34 L321.20,162.21 L321.40,169.99 L321.60,165.20 L321.80,169.79 L322.00,164.93 L322.20,161.82 L322.40,167.22 L322.60,168.32 L322.80,171.36 L323.00,170.39 L323.20,167.71 L323.40,165.28 L323.60,164.54 L323.80,165.13 L324.00,163.73 L324.20,165.17 L324.40,159.38 L324.60,166.34 L324.80,165.80 L325.00,172.37 L325.20,167.84 L325.40,164.62 L325.60,167.33 L325.80,162.67 L326.00,164.29 L326.20,161.00 L326.40,169.58 L326.60,167.39 L326.80,162.78 L327.00,165.68 L327.20,168.30 L327.40,167.12 L327.60,166.82 L327.80,163.59 L328.00,164.16 L328.20,163.39 L328.40,171.57 L328.60,163.65 L328.80,162.89 L329.00,168.78 L329.20,163.38 L329.40,168.60 L329.60,166.42 L329.80,168.08 L330.00,170.32 L330.20,167.57 L330.40,167.80 L330.60,163.39 L330.80,163.96 L331.00,167.44 L331.20,169.75 L331.40,169.38 L331.60,171.78 L331.80,166.56 L332.00,166.28 L332.20,168.36 L332.40,165.79 L332.60,165.58 L332.80,163.01 L333.00,168.31 L333.20,162.94 L333.40,167.06 L333.60,162.03 L333.80,168.57 L334.00,163.04 L334.20,167.91 L334.40,161.58 L334.60,164.56 L334.80,168.77 L335.00,163.61 L335.20,165.87 L335.40,164.45 L335.60,159.69 L335.80,166.49 L336.00,166.81 L336.20,162.81 L336.40,167.18 L336.60,163.61 L336.80,163.07 L337.00,165.69 L337.20,158.90 L337.40,170.05 L337.60,161.63 L337.80,167.59 L338.00,168.24 L338.20,160.52 L338.40,161.16 L338.60,167.12 L338.80,164.40 L339.00,166.65 L339.20,168.61 L339.40,164.68 L339.60,162.88 L339.80,159.15 L340.00,166.17 L340.20,163.23 L340.40,166.45 L340.60,166.24 L340.80,162.03 L341.00,170.11 L341.20,168.45 L341.40,167.83 L341.60,162.54 L341.80,164.56 L342.00,164.20 L342.20,164.54 L342.40,162.69 L342.60,166.74 L342.80,166.21 L343.00,166.56 L343.20,164.29 L343.40,168.96 L343.60,166.09 L343.80,159.10 L344.00,163.93 L344.20,165.45 L344.40,158.47 L344.60,174.75 L344.80,164.94 L345.00,163.86 L345.20,167.31 L345.40,164.42 L345.60,164.01 L345.80,163.65 L346.00,167.02 L346.20,164.19 L346.40,161.21 L346.60,167.19 L346.80,163.74 L347.00,166.49 L347.20,166.53 L347.40,168.69 L347.60,168.27 L347.80,164.06 L348.00,165.12 L348.20,162.19 L348.40,169.91 L348.60,166.69 L348.80,169.17 L349.00,164.71 L349.20,160.21 L349.40,169.52 L349.60,165.78 L349.80,165.88 L350.00,165.67 L350.20,167.20 L350.40,166.91 L350.60,161.39 L350.80,168.35 L351.00,164.14 L351.20,164.30 L351.40,170.00 L351.60,167.90 L351.80,164.63 L352.00,158.35 L352.20,170.64 L352.40,166.90 L352.60,165.29 L352.80,162.26 L353.00,163.44 L353.20,162.23 L353.40,166.05 L353.60,167.62 L353.80,168.15 L354.00,163.58 L354.20,166.09 L354.40,166.92 L354.60,164.15 L354.80,165.09 L355.00,170.99 L355.20,166.00 L355.40,167.76 L355.60,164.33 L355.80,165.57 L356.00,161.00 L356.20,165.39 L356.40,168.56 L356.60,170.91 L356.80,168.56 L357.00,167.23 L357.20,165.58 L357.40,163.88 L357.60,158.20 L357.80,173.31 L358.00,163.40 L358.20,167.86 L358.40,162.87 L358.60,160.80 L358.80,162.80 L359.00,161.10 L359.20,161.86 L359.40,168.36 L359.60,164.90 L359.80,165.98 L360.00,168.43 L360.20,168.69 L360.40,164.10 L360.60,168.86 L360.80,166.41 L361.00,165.41 L361.20,166.55 L361.40,161.69 L361.60,163.35 L361.80,165.11 L362.00,166.98 L362.20,164.42 L362.40,165.06 L362.60,167.91 L362.80,169.05 L363.00,167.37 L363.20,168.68 L363.40,164.32 L363.60,159.66 L363.80,171.97 L364.00,164.59 L364.20,164.05 L364.40,169.66 L364.60,164.84 L364.80,162.85 L365.00,166.62 L365.20,170.13 L365.40,165.56 L365.60,168.55 L365.80,164.21 L366.00,164.07 L366.20,163.55 L366.40,163.05 L366.60,171.88 L366.80,162.33 L367.00,169.59 L367.20,162.71 L367.40,164.72 L367.60,167.50 L367.80,166.96 L368.00,166.06 L368.20,161.03 L368.40,166.26 L368.60,162.66 L368.80,171.81 L369.00,164.76 L369.20,165.80 L369.40,162.33 L369.60,164.06 L369.80,161.95 L370.00,167.85 L370.20,164.62 L370.40,166.76 L370.60,163.51 L370.80,163.99 L371.00,168.64 L371.20,162.76 L371.40,160.60 L371.60,166.33 L371.80,157.24 L372.00,175.13 L372.20,167.64 L372.40,163.14 L372.60,167.55 L372.80,163.49 L373.00,169.13 L373.20,168.70 L373.40,164.03 L373.60,164.70 L373.80,163.08 L374.00,165.76 L374.20,168.23 L374.40,161.48 L374.60,167.62 L374.80,161.79 L375.00,159.43 L375.20,172.34 L375.40,170.70 L375.60,165.37 L375.80,165.86 L376.00,163.46 L376.20,167.99 L376.40,159.74 L376.60,165.28 L376.80,170.94 L377.00,164.21 L377.20,165.24 L377.40,166.94 L377.60,163.08 L377.80,165.25 L378.00,167.69 L378.20,165.69 L378.40,166.15 L378.60,164.27 L378.80,166.00 L379.00,165.32 L379.20,168.95 L379.40,167.05 L379.60,164.53 L379.80,158.80 L380.00,167.02 L380.20,167.12 L380.40,162.77 L380.60,159.96 L380.80,162.18 L381.00,159.33 L381.20,173.44 L381.40,163.95 L381.60,165.71 L381.80,168.32 L382.00,165.08 L382.20,164.87 L382.40,163.70 L382.60,169.36 L382.80,167.89 L383.00,164.87 L383.20,161.48 L383.40,163.06 L383.60,166.62 L383.80,163.23 L384.00,167.42 L384.20,166.04 L384.40,165.86 L384.60,166.79 L384.80,166.39 L385.00,162.87 L385.20,164.24 L385.40,160.02 L385.60,170.32 L385.80,163.84 L386.00,167.85 L386.20,164.66 L386.40,162.96 L386.60,161.63 L386.80,166.46 L387.00,167.71 L387.20,168.70 L387.40,165.20 L387.60,167.77 L387.80,162.37 L388.00,165.48 L388.20,163.28 L388.40,165.49 L388.60,166.99 L388.80,167.82 L389.00,162.46 L389.20,168.33 L389.40,163.79 L389.60,162.36 L389.80,164.58 L390.00,161.22 L390.20,165.03 L390.40,165.77 L390.60,164.49 L390.80,166.40 L391.00,164.19 L391.20,165.01 L391.40,161.25 L391.60,162.65 L391.80,172.80 L392.00,163.82 L392.20,164.75 L392.40,165.48 L392.60,160.70 L392.80,160.92 L393.00,164.19 L393.20,166.21 L393.40,165.91 L393.60,167.29 L393.80,168.35 L394.00,166.25 L394.20,164.91 L394.40,162.28 L394.60,162.50 L394.80,163.74 L395.00,165.65 L395.20,165.52 L395.40,164.96 L395.60,164.54 L395.80,166.58 L396.00,165.48 L396.20,165.71 L396.40,165.73 L396.60,163.51 L396.80,162.24 L397.00,166.20 L397.20,159.66 L397.40,172.48 L397.60,163.83 L397.80,170.83 L398.00,162.93 L398.20,164.34 L398.40,165.59 L398.60,161.90 L398.80,165.20 L399.00,169.57 L399.20,167.32 L399.40,166.53 L399.60,166.43 L399.80,165.17 L400.00,167.37 L400.20,164.47 L400.40,163.78 L400.60,165.14 L400.80,167.22 L401.00,165.73 L401.20,166.62 L401.40,159.60 L401.60,167.96 L401.80,170.94 L402.00,168.32 L402.20,164.02 L402.40,162.64 L402.60,165.57 L402.80,162.27 L403.00,166.72 L403.20,163.47 L403.40,157.10 L403.60,171.98 L403.80,159.54 L404.00,165.59 L404.20,163.01 L404.40,161.15 L404.60,163.21 L404.80,164.24 L405.00,167.50 L405.20,160.85 L405.40,167.54 L405.60,170.05 L405.80,166.35 L406.00,166.22 L406.20,164.76 L406.40,161.74 L406.60,166.18 L406.80,165.78 L407.00,166.68 L407.20,171.28 L407.40,166.67 L407.60,165.88 L407.80,168.83 L408.00,161.27 L408.20,161.79 L408.40,163.79 L408.60,163.06 L408.80,166.56 L409.00,163.93 L409.20,169.28 L409.40,168.70 L409.60,166.75 L409.80,163.74 L410.00,166.34 L410.20,166.85 L410.40,161.96 L410.60,165.64 L410.80,158.22 L411.00,172.59 L411.20,168.81 L411.40,167.88 L411.60,162.57 L411.80,165.04 L412.00,162.54 L412.20,166.22 L412.40,162.45 L412.60,167.10 L412.80,165.71 L413.00,167.22 L413.20,164.32 L413.40,160.91 L413.60,169.28 L413.80,164.24 L414.00,168.26 L414.20,165.80 L414.40,166.43 L414.60,169.43 L414.80,165.56 L415.00,168.31 L415.20,160.81 L415.40,166.93 L415.60,164.03 L415.80,164.31 L416.00,160.17 L416.20,175.62 L416.40,168.96 L416.60,159.83 L416.80,164.76 L417.00,162.78 L417.20,167.67 L417.40,163.54 L417.60,165.82 L417.80,163.60 L418.00,166.36 L418.20,167.26 L418.40,163.59 L418.60,164.75 L418.80,160.92 L419.00,165.41 L419.20,166.84 L419.40,163.16 L419.60,167.52 L419.80,159.21 L420.00,159.79 L420.20,160.99 L420.40,163.33 L420.60,164.63 L420.80,164.37 L421.00,164.40 L421.20,166.45 L421.40,163.34 L421.60,161.27 L421.80,161.32 L422.00,170.04 L422.20,158.43 L422.40,164.08 L422.60,168.32 L422.80,165.78 L423.00,162.36 L423.20,164.52 L423.40,166.76 L423.60,167.65 L423.80,157.11 L424.00,171.09 L424.20,165.14 L424.40,167.35 L424.60,168.09 L424.80,163.58 L425.00,160.70 L425.20,165.49 L425.40,169.08 L425.60,166.23 L425.80,165.04 L426.00,170.68 L426.20,161.73 L426.40,166.78 L426.60,162.94 L426.80,164.55 L427.00,164.65 L427.20,168.35 L427.40,161.97 L427.60,163.01 L427.80,160.25 L428.00,165.65 L428.20,163.19 L428.40,165.47 L428.60,161.58 L428.80,163.43 L429.00,167.06 L429.20,163.90 L429.40,165.98 L429.60,165.72 L429.80,163.42 L430.00,160.28 L430.20,166.89 L430.40,164.77 L430.60,166.87 L430.80,159.08 L431.00,160.00 L431.20,158.73 L431.40,162.02 L431.60,167.00 L431.80,165.76 L432.00,158.27 L432.20,172.08 L432.40,166.25 L432.60,163.48 L432.80,165.29 L433.00,164.62 L433.20,158.56 L433.40,163.24 L433.60,167.77 L433.80,163.20 L434.00,163.85 L434.20,162.64 L434.40,162.96 L434.60,167.13 L434.80,163.51 L435.00,161.54 L435.20,157.69 L435.40,162.70 L435.60,159.07 L435.80,159.44 L436.00,166.24 L436.20,166.01 L436.40,159.18 L436.60,166.37 L436.80,165.35 L437.00,162.11 L437.20,166.05 L437.40,159.91 L437.60,161.00 L437.80,160.38 L438.00,161.23 L438.20,166.40 L438.40,160.64 L438.60,161.11 L438.80,161.62 L439.00,164.60 L439.20,163.20 L439.40,166.32 L439.60,162.23 L439.80,160.72 L440.00,162.76 L440.20,164.15 L440.40,158.07 L440.60,171.26 L440.80,168.75 L441.00,162.51 L441.20,164.13 L441.40,167.52 L441.60,162.31 L441.80,161.79 L442.00,161.14 L442.20,165.01 L442.40,165.30 L442.60,163.57 L442.80,164.06 L443.00,167.26 L443.20,166.19 L443.40,160.28 L443.60,163.89 L443.80,159.04 L444.00,172.71 L444.20,163.31 L444.40,162.21 L444.60,162.69 L444.80,159.25 L445.00,163.80 L445.20,162.31 L445.40,165.06 L445.60,161.17 L445.80,162.70 L446.00,161.28 L446.20,161.05 L446.40,165.63 L446.60,162.60 L446.80,164.95 L447.00,160.88 L447.20,164.03 L447.40,159.38 L447.60,162.52 L447.80,162.45 L448.00,165.27 L448.20,164.21 L448.40,163.28 L448.60,165.91 L448.80,164.22 L449.00,165.12 L449.20,165.70 L449.40,163.53 L449.60,162.94 L449.80,164.54 L450.00,162.60 L450.20,164.69 L450.40,166.56 L450.60,156.95 L450.80,174.20 L451.00,160.34 L451.20,163.53 L451.40,163.35 L451.60,166.55 L451.80,162.68 L452.00,163.13 L452.20,165.58 L452.40,162.43 L452.60,163.25 L452.80,168.11 L453.00,167.53 L453.20,165.30 L453.40,164.36 L453.60,161.15 L453.80,165.11 L454.00,163.81 L454.20,164.23 L454.40,162.31 L454.60,163.62 L454.80,163.18 L455.00,164.47 L455.20,167.36 L455.40,164.59 L455.60,159.35 L455.80,161.13 L456.00,159.54 L456.20,161.59 L456.40,165.10 L456.60,164.69 L456.80,162.09 L457.00,164.34 L457.20,161.68 L457.40,159.96 L457.60,159.99 L457.80,161.41 L458.00,167.32 L458.20,160.97 L458.40,170.01 L458.60,167.08 L458.80,163.16 L459.00,163.50 L459.20,162.04 L459.40,163.56 L459.60,165.33 L459.80,163.65 L460.00,166.21 L460.20,166.70 L460.40,164.51 L460.60,164.47 L460.80,163.46 L461.00,164.52 L461.20,160.72 L461.40,164.67 L461.60,164.15 L461.80,161.37 L462.00,169.19 L462.20,161.09 L462.40,161.35 L462.60,164.33 L462.80,158.58 L463.00,161.55 L463.20,159.65 L463.40,161.09 L463.60,163.26 L463.80,164.43 L464.00,166.46 L464.20,165.69 L464.40,166.67 L464.60,165.12 L464.80,162.38 L465.00,166.49 L465.20,162.32 L465.40,162.00 L465.60,167.56 L465.80,165.63 L466.00,164.15 L466.20,165.54 L466.40,156.04 L466.60,167.10 L466.80,163.34 L467.00,160.52 L467.20,163.90 L467.40,161.83 L467.60,167.10 L467.80,164.92 L468.00,161.47 L468.20,163.52 L468.40,160.43 L468.60,163.68 L468.80,164.99 L469.00,164.25 L469.20,158.55 L469.40,162.69 L469.60,164.89 L469.80,164.36 L470.00,166.57 L470.20,160.22 L470.40,164.92 L470.60,161.87 L470.80,164.06 L471.00,164.61 L471.20,165.34 L471.40,162.05 L471.60,164.03 L471.80,160.52 L472.00,159.88 L472.20,164.99 L472.40,163.41 L472.60,159.34 L472.80,161.34 L473.00,160.62 L473.20,172.03 L473.40,166.26 L473.60,165.62 L473.80,158.90 L474.00,163.29 L474.20,164.78 L474.40,164.56 L474.60,164.62 L474.80,162.93 L475.00,168.10 L475.20,167.37 L475.40,163.29 L475.60,160.98 L475.80,168.87 L476.00,162.09 L476.20,166.64 L476.40,168.49 L476.60,161.07 L476.80,164.28 L477.00,162.62 L477.20,164.86 L477.40,164.35 L477.60,168.58 L477.80,165.05 L478.00,163.50 L478.20,166.44 L478.40,162.81 L478.60,162.57 L478.80,169.33 L479.00,161.38 L479.20,162.24 L479.40,163.63 L479.60,160.76 L479.80,158.03 L480.00,166.25 L480.20,161.47 L480.40,162.10 L480.60,162.54 L480.80,160.95 L481.00,160.71 L481.20,163.92 L481.40,169.74 L481.60,165.42 L481.80,165.44 L482.00,158.89 L482.20,174.56 L482.40,160.42 L482.60,165.50 L482.80,162.90 L483.00,163.59 L483.20,163.26 L483.40,161.98 L483.60,159.54 L483.80,165.00 L484.00,159.89 L484.20,160.42 L484.40,162.71 L484.60,161.65 L484.80,164.17 L485.00,166.11 L485.20,164.13 L485.40,164.00 L485.60,163.54 L485.80,165.71 L486.00,158.68 L486.20,164.43 L486.40,161.05 L486.60,160.27 L486.80,163.49 L487.00,162.47 L487.20,164.99 L487.40,166.34 L487.60,155.62 L487.80,174.26 L488.00,168.56 L488.20,165.73 L488.40,167.23 L488.60,163.73 L488.80,159.74 L489.00,160.54 L489.20,165.32 L489.40,165.96 L489.60,161.56 L489.80,162.77 L490.00,164.14 L490.20,158.91 L490.40,162.55 L490.60,158.02 L490.80,171.69 L491.00,163.18 L491.20,168.22 L491.40,162.09 L491.60,161.35 L491.80,157.64 L492.00,165.94 L492.20,162.48 L492.40,169.54 L492.60,164.31 L492.80,163.94 L493.00,158.75 L493.20,167.35 L493.40,162.51 L493.60,163.03 L493.80,157.71 L494.00,165.86 L494.20,166.02 L494.40,161.87 L494.60,163.69 L494.80,156.97 L495.00,168.38 L495.20,163.72 L495.40,167.92 L495.60,162.81 L495.80,161.87 L496.00,162.23 L496.20,157.09 L496.40,161.34 L496.60,166.06 L496.80,164.13 L497.00,161.31 L497.20,164.35 L497.40,158.19 L497.60,162.70 L497.80,164.80 L498.00,165.25 L498.20,161.42 L498.40,165.81 L498.60,168.30 L498.80,157.95 L499.00,168.81 L499.20,159.38 L499.40,158.33 L499.60,165.02 L499.80,163.54 L500.00,163.95 L500.20,161.91 L500.40,162.67 L500.60,165.54 L500.80,167.90 L501.00,162.87 L501.20,159.14 L501.40,166.74 L501.60,164.99 L501.80,165.20 L502.00,163.90 L502.20,169.47 L502.40,163.62 L502.60,164.76 L502.80,158.60 L503.00,161.92 L503.20,161.64 L503.40,163.34 L503.60,164.33 L503.80,161.47 L504.00,167.92 L504.20,160.65 L504.40,162.24 L504.60,164.04 L504.80,160.16 L505.00,164.90 L505.20,165.06 L505.40,162.65 L505.60,168.38 L505.80,163.62 L506.00,164.14 L506.20,160.91 L506.40,159.05 L506.60,161.76 L506.80,162.57 L507.00,162.22 L507.20,165.40 L507.40,160.62 L507.60,172.97 L507.80,158.65 L508.00,166.89 L508.20,161.93 L508.40,162.06 L508.60,160.53 L508.80,165.74 L509.00,162.32 L509.20,163.97 L509.40,158.10 L509.60,166.44 L509.80,164.42 L510.00,164.83 L510.20,166.61 L510.40,162.89 L510.60,162.96 L510.80,165.26 L511.00,164.50 L511.20,162.75 L511.40,163.50 L511.60,162.08 L511.80,165.25 L512.00,165.82 L512.20,163.40 L512.40,168.28 L512.60,159.38 L512.80,162.78 L513.00,167.84 L513.20,158.34 L513.40,174.27 L513.60,167.02 L513.80,164.80 L514.00,160.27 L514.20,165.40 L514.40,160.71 L514.60,159.89 L514.80,162.98 L515.00,162.12 L515.20,160.52 L515.40,162.42 L515.60,160.76 L515.80,163.53 L516.00,163.31 L516.20,165.31 L516.40,162.19 L516.60,159.90 L516.80,159.93 L517.00,162.73 L517.20,167.37 L517.40,165.58 L517.60,161.69 L517.80,165.82 L518.00,160.34 L518.20,166.00 L518.40,162.36 L518.60,165.37 L518.80,164.98 L519.00,162.64 L519.20,164.21 L519.40,160.58 L519.60,157.95 L519.80,171.23 L520.00,169.98 L520.20,165.19 L520.40,163.58 L520.60,160.71 L520.80,166.11 L521.00,159.03 L521.20,161.26 L521.40,164.28 L521.60,160.21 L521.80,167.37 L522.00,166.20 L522.20,161.87 L522.40,161.90 L522.60,159.91 L522.80,159.69 L523.00,164.50 L523.20,164.97 L523.40,164.26 L523.60,164.03 L523.80,161.88 L524.00,164.28 L524.20,159.50 L524.40,163.36 L524.60,167.18 L524.80,166.79 L525.00,162.13 L525.20,162.46 L525.40,166.93 L525.60,168.00 L525.80,159.43 L526.00,162.22 L526.20,163.94 L526.40,160.81 L526.60,174.09 L526.80,165.00 L527.00,162.54 L527.20,169.53 L527.40,164.45 L527.60,162.97 L527.80,162.45 L528.00,166.08 L528.20,165.10 L528.40,160.50 L528.60,163.89 L528.80,159.83 L529.00,161.35 L529.20,159.94 L529.40,159.86 L529.60,161.52 L529.80,160.76 L530.00,164.69 L530.20,165.39 L530.40,162.69 L530.60,160.39 L530.80,165.41 L531.00,158.03 L531.20,158.27 L531.40,165.21 L531.60,165.02 L531.80,165.85 L532.00,162.74 L532.20,160.01 L532.40,161.97 L532.60,164.78 L532.80,158.44 L533.00,172.38 L533.20,159.66 L533.40,160.26 L533.60,165.50 L533.80,164.48 L534.00,160.26 L534.20,160.48 L534.40,161.83 L534.60,164.73 L534.80,160.24 L535.00,162.85 L535.20,157.69 L535.40,160.01 L535.60,164.39 L535.80,165.63 L536.00,160.27 L536.20,161.27 L536.40,165.37" stroke="#3c3c3c" stroke-width="0.4" fill="none" opacity="0.8"/>
<path d="M62.60,166.50 L63.40,166.28 L64.20,166.28 L65.00,166.03 L65.80,166.18 L66.60,166.13 L67.40,166.43 L68.20,166.11 L69.00,166.53 L69.80,165.58 L70.60,166.58 L71.40,166.11 L72.20,166.56 L73.00,166.19 L73.80,166.46 L74.60,166.68 L75.40,165.97 L76.20,166.18 L77.00,166.10 L77.80,166.23 L78.60,165.59 L79.40,166.09 L80.20,166.06 L81.00,165.87 L81.80,166.08 L82.60,165.61 L83.40,166.62 L84.20,166.29 L85.00,166.79 L85.80,165.83 L86.60,165.73 L87.40,166.23 L88.20,165.55 L89.00,166.21 L89.80,165.88 L90.60,166.01 L91.40,166.21 L92.20,166.14 L93.00,166.76 L93.80,166.33 L94.60,165.67 L95.40,166.45 L96.20,165.65 L97.00,166.14 L97.80,165.68 L98.60,165.82 L99.40,166.56 L100.20,165.91 L101.00,165.88 L101.80,165.90 L102.60,165.99 L103.40,166.59 L104.20,165.68 L105.00,165.66 L105.80,166.29 L106.60,165.53 L107.40,165.96 L108.20,166.47 L109.00,166.08 L109.80,165.91 L110.60,165.83 L111.40,165.76 L112.20,165.87 L113.00,166.12 L113.80,166.50 L114.60,166.40 L115.40,165.87 L116.20,165.81 L117.00,166.30 L117.80,165.43 L118.60,165.90 L119.40,165.94 L120.20,165.67 L121.00,165.71 L121.80,166.17 L122.60,165.47 L123.40,165.73 L124.20,165.82 L125.00,166.07 L125.80,165.56 L126.60,166.41 L127.40,165.93 L128.20,165.94 L129.00,165.90 L129.80,165.79 L130.60,165.69 L131.40,166.42 L132.20,166.09 L133.00,165.98 L133.80,166.36 L134.60,165.77 L135.40,166.23 L136.20,166.02 L137.00,165.70 L137.80,166.27 L138.60,165.49 L139.40,166.23 L140.20,165.69 L141.00,166.14 L141.80,166.47 L142.60,166.19 L143.40,165.78 L144.20,165.98 L145.00,165.86 L145.80,165.58 L146.60,165.60 L147.40,166.00 L148.20,166.16 L149.00,165.37 L149.80,165.95 L150.60,166.14 L151.40,166.00 L152.20,165.61 L153.00,166.31 L153.80,165.53 L154.60,166.16 L155.40,166.49 L156.20,165.23 L157.00,166.01 L157.80,166.03 L158.60,165.99 L159.40,165.64 L160.20,165.79 L161.00,165.42 L161.80,165.94 L162.60,166.07 L163.40,165.65 L164.20,165.56 L165.00,165.71 L165.80,165.86 L166.60,165.88 L167.40,165.82 L168.20,165.87 L169.00,165.39 L169.80,164.90 L170.60,166.04 L171.40,166.31 L172.20,165.33 L173.00,165.59 L173.80,165.91 L174.60,166.13 L175.40,166.02 L176.20,166.23 L177.00,165.77 L177.80,165.92 L178.60,165.92 L179.40,165.62 L180.20,166.18 L181.00,165.97 L181.80,166.09 L182.60,165.61 L183.40,166.10 L184.20,165.38 L185.00,165.87 L185.80,164.83 L186.60,165.38 L187.40,165.97 L188.20,165.56 L189.00,165.77 L189.80,165.14 L190.60,166.23 L191.40,165.89 L192.20,165.68 L193.00,165.82 L193.80,165.79 L194.60,166.15 L195.40,165.74 L196.20,165.15 L197.00,165.56 L197.80,166.09 L198.60,165.84 L199.40,165.49 L200.20,165.84 L201.00,165.67 L201.80,165.83 L202.60,165.07 L203.40,165.30 L204.20,165.83 L205.00,165.52 L205.80,165.71 L206.60,166.26 L207.40,165.48 L208.20,165.66 L209.00,165.38 L209.80,165.35 L210.60,165.54 L211.40,165.06 L212.20,164.83 L213.00,166.01 L213.80,165.50 L214.60,165.92 L215.40,165.57 L216.20,165.57 L217.00,165.75 L217.80,165.76 L218.60,165.10 L219.40,165.92 L220.20,165.17 L221.00,165.56 L221.80,166.36 L222.60,165.51 L223.40,166.05 L224.20,165.35 L225.00,165.68 L225.80,165.48 L226.60,165.60 L227.40,165.16 L228.20,165.13 L229.00,165.55 L229.80,164.90 L230.60,165.14 L231.40,165.64 L232.20,165.21 L233.00,165.11 L233.80,165.03 L234.60,165.45 L235.40,165.27 L236.20,165.44 L237.00,165.32 L237.80,166.01 L238.60,165.23 L239.40,164.70 L240.20,165.40 L241.00,165.36 L241.80,165.40 L242.60,164.79 L243.40,165.72 L244.20,165.31 L245.00,165.30 L245.80,164.77 L246.60,165.46 L247.40,165.27 L248.20,165.75 L249.00,165.14 L249.80,164.85 L250.60,165.31 L251.40,164.95 L252.20,165.39 L253.00,164.87 L253.80,165.19 L254.60,165.15 L255.40,165.21 L256.20,165.04 L257.00,164.93 L257.80,165.18 L258.60,164.99 L259.40,165.23 L260.20,165.08 L261.00,164.40 L261.80,165.84 L262.60,167.02 L263.40,167.35 L264.20,167.97 L265.00,167.91 L265.80,167.59 L266.60,167.29 L267.40,168.01 L268.20,168.09 L269.00,167.92 L269.80,167.87 L270.60,167.85 L271.40,167.70 L272.20,167.80 L273.00,167.70 L273.80,167.80 L274.60,167.36 L275.40,167.46 L276.20,167.86 L277.00,167.55 L277.80,166.84 L278.60,167.70 L279.40,166.87 L280.20,168.29 L281.00,167.88 L281.80,167.86 L282.60,167.40 L283.40,167.24 L284.20,167.54 L285.00,167.61 L285.80,167.34 L286.60,167.65 L287.40,167.82 L288.20,167.78 L289.00,167.22 L289.80,166.84 L290.60,167.53 L291.40,167.25 L292.20,167.56 L293.00,167.91 L293.80,167.85 L294.60,167.34 L295.40,167.56 L296.20,167.69 L297.00,167.09 L297.80,167.11 L298.60,167.25 L299.40,166.90 L300.20,166.70 L301.00,166.60 L301.80,166.84 L302.60,166.62 L303.40,167.08 L304.20,166.69 L305.00,167.28 L305.80,167.18 L306.60,166.34 L307.40,167.11 L308.20,166.60 L309.00,167.18 L309.80,166.88 L310.60,166.67 L311.40,166.90 L312.20,166.48 L313.00,166.76 L313.80,166.76 L314.60,166.57 L315.40,166.74 L316.20,166.26 L317.00,166.77 L317.80,166.16 L318.60,166.76 L319.40,166.70 L320.20,166.76 L321.00,166.33 L321.80,167.51 L322.60,166.41 L323.40,166.53 L324.20,166.21 L325.00,166.92 L325.80,166.28 L326.60,166.75 L327.40,166.09 L328.20,166.50 L329.00,166.26 L329.80,166.68 L330.60,166.26 L331.40,166.05 L332.20,166.48 L333.00,165.92 L333.80,165.98 L334.60,166.54 L335.40,165.65 L336.20,166.52 L337.00,166.13 L337.80,165.95 L338.60,166.32 L339.40,166.44 L340.20,166.03 L341.00,166.16 L341.80,166.47 L342.60,166.45 L343.40,166.17 L344.20,165.92 L345.00,165.86 L345.80,165.96 L346.60,166.38 L347.40,166.33 L348.20,166.23 L349.00,166.59 L349.80,166.02 L350.60,165.98 L351.40,165.97 L352.20,166.72 L353.00,165.40 L353.80,166.17 L354.60,166.21 L355.40,166.08 L356.20,166.82 L357.00,166.42 L357.80,166.28 L358.60,165.72 L359.40,166.17 L360.20,165.88 L361.00,166.01 L361.80,166.05 L362.60,165.82 L363.40,166.17 L364.20,166.50 L365.00,166.29 L365.80,166.01 L366.60,165.29 L367.40,166.28 L368.20,166.27 L369.00,165.84 L369.80,165.74 L370.60,166.10 L371.40,165.61 L372.20,166.13 L373.00,165.50 L373.80,165.54 L374.60,165.84 L375.40,165.34 L376.20,165.81 L377.00,165.97 L377.80,165.35 L378.60,166.08 L379.40,165.58 L380.20,165.93 L381.00,165.81 L381.80,165.58 L382.60,165.55 L383.40,165.15 L384.20,165.47 L385.00,165.43 L385.80,166.22 L386.60,166.00 L387.40,165.20 L388.20,165.91 L389.00,165.70 L389.80,165.50 L390.60,165.76 L391.40,165.86 L392.20,165.40 L393.00,165.49 L393.80,165.62 L394.60,165.23 L395.40,165.60 L396.20,165.50 L397.00,165.30 L397.80,165.23 L398.60,165.60 L399.40,165.77 L400.20,165.58 L401.00,165.18 L401.80,165.70 L402.60,165.50 L403.40,165.63 L404.20,165.80 L405.00,165.11 L405.80,165.35 L406.60,165.19 L407.40,165.09 L408.20,166.02 L409.00,165.66 L409.80,164.76 L410.60,165.47 L411.40,165.14 L412.20,165.68 L413.00,165.32 L413.80,165.23 L414.60,165.32 L415.40,165.39 L416.20,165.26 L417.00,165.17 L417.80,165.19 L418.60,165.39 L419.40,164.84 L420.20,165.19 L421.00,165.13 L421.80,164.99 L422.60,165.37 L423.40,164.69 L424.20,164.97 L425.00,164.79 L425.80,165.22 L426.60,164.87 L427.40,165.02 L428.20,165.11 L429.00,164.44 L429.80,165.09 L430.60,164.67 L431.40,164.81 L432.20,164.84 L433.00,165.12 L433.80,165.07 L434.60,165.39 L435.40,164.85 L436.20,164.61 L437.00,164.58 L437.80,164.94 L438.60,165.23 L439.40,164.79 L440.20,164.47 L441.00,164.73 L441.80,164.70 L442.60,164.61 L443.40,164.33 L444.20,163.72 L445.00,164.36 L445.80,164.86 L446.60,164.56 L447.40,163.75 L448.20,164.45 L449.00,163.82 L449.80,165.06 L450.60,164.46 L451.40,164.00 L452.20,164.65 L453.00,164.13 L453.80,164.57 L454.60,164.39 L455.40,163.99 L456.20,164.59 L457.00,163.93 L457.80,164.80 L458.60,164.38 L459.40,164.02 L460.20,163.76 L461.00,164.88 L461.80,164.82 L462.60,163.93 L463.40,164.88 L464.20,164.39 L465.00,164.26 L465.80,164.30 L466.60,164.24 L467.40,164.79 L468.20,164.37 L469.00,163.71 L469.80,164.99 L470.60,164.59 L471.40,163.95 L472.20,164.18 L473.00,164.00 L473.80,164.31 L474.60,164.42 L475.40,164.36 L476.20,164.08 L477.00,164.01 L477.80,164.55 L478.60,164.24 L479.40,165.00 L480.20,164.00 L481.00,164.52 L481.80,164.27 L482.60,164.00 L483.40,164.69 L484.20,164.28 L485.00,163.95 L485.80,164.13 L486.60,164.56 L487.40,163.83 L488.20,164.68 L489.00,164.44 L489.80,164.13 L490.60,164.66 L491.40,164.78 L492.20,164.40 L493.00,164.26 L493.80,164.80 L494.60,164.68 L495.40,163.89 L496.20,164.12 L497.00,164.11 L497.80,164.05 L498.60,163.69 L499.40,164.47 L500.20,164.20 L501.00,164.20 L501.80,164.62 L502.60,163.97 L503.40,164.14 L504.20,164.24 L505.00,164.01 L505.80,164.11 L506.60,164.39 L507.40,164.13 L508.20,164.57 L509.00,163.88 L509.80,164.19 L510.60,163.65 L511.40,164.08 L512.20,163.88 L513.00,164.56 L513.80,164.35 L514.60,164.27 L515.40,164.71 L516.20,164.57 L517.00,164.33 L517.80,163.86 L518.60,163.61 L519.40,164.07 L520.20,163.96 L521.00,163.86 L521.80,163.97 L522.60,163.52 L523.40,164.55 L524.20,163.68 L525.00,163.83 L525.80,164.24 L526.60,163.51 L527.40,164.35 L528.20,164.35 L529.00,163.93 L529.80,163.68 L530.60,163.87 L531.40,163.41 L532.20,164.48 L533.00,164.04 L533.80,163.77 L534.60,163.71 L535.40,164.20 L536.20,164.50" stroke="#f2491f" stroke-width="3.0" fill="none" stroke-linejoin="round"/>
<path d="M62.60,166.20 L62.80,166.47 L63.00,165.95 L63.20,165.40 L63.40,165.79 L63.60,165.30 L63.80,166.25 L64.00,167.40 L64.20,165.75 L64.40,165.64 L64.60,166.63 L64.80,166.51 L65.00,166.29 L65.20,165.36 L65.40,166.17 L65.60,166.82 L65.80,164.98 L66.00,165.78 L66.20,164.48 L66.40,165.03 L66.60,164.53 L66.80,165.98 L67.00,165.05 L67.20,166.43 L67.40,166.33 L67.60,166.02 L67.80,163.99 L68.00,165.70 L68.20,166.14 L68.40,166.29 L68.60,164.81 L68.80,165.75 L69.00,165.30 L69.20,165.46 L69.40,167.14 L69.60,165.46 L69.80,166.15 L70.00,166.98 L70.20,165.66 L70.40,166.08 L70.60,166.28 L70.80,166.24 L71.00,165.08 L71.20,166.25 L71.40,167.40 L71.60,164.79 L71.80,166.95 L72.00,166.28 L72.20,165.60 L72.40,163.47 L72.60,170.14 L72.80,165.10 L73.00,166.24 L73.20,166.69 L73.40,166.00 L73.60,166.79 L73.80,166.11 L74.00,166.77 L74.20,167.47 L74.40,165.56 L74.60,166.35 L74.80,165.75 L75.00,166.28 L75.20,165.10 L75.40,165.65 L75.60,165.99 L75.80,166.98 L76.00,167.20 L76.20,164.98 L76.40,165.45 L76.60,166.75 L76.80,164.37 L77.00,165.75 L77.20,166.08 L77.40,167.30 L77.60,166.79 L77.80,165.87 L78.00,165.83 L78.20,165.94 L78.40,167.53 L78.60,165.78 L78.80,165.89 L79.00,162.44 L79.20,171.35 L79.40,165.98 L79.60,165.16 L79.80,166.15 L80.00,165.76 L80.20,167.21 L80.40,166.75 L80.60,166.14 L80.80,166.76 L81.00,165.85 L81.20,167.10 L81.40,166.15 L81.60,166.68 L81.80,164.99 L82.00,166.47 L82.20,164.63 L82.40,164.32 L82.60,165.88 L82.80,165.34 L83.00,166.30 L83.20,168.17 L83.40,165.40 L83.60,165.59 L83.80,166.34 L84.00,166.59 L84.20,165.99 L84.40,165.96 L84.60,166.78 L84.80,166.62 L85.00,165.22 L85.20,166.08 L85.40,166.18 L85.60,165.20 L85.80,166.38 L86.00,163.57 L86.20,167.69 L86.40,166.32 L86.60,166.22 L86.80,165.61 L87.00,166.04 L87.20,164.34 L87.40,165.12 L87.60,166.47 L87.80,164.23 L88.00,166.90 L88.20,164.57 L88.40,166.82 L88.60,165.38 L88.80,166.84 L89.00,166.26 L89.20,164.76 L89.40,167.26 L89.60,167.43 L89.80,166.08 L90.00,165.89 L90.20,165.99 L90.40,165.26 L90.60,167.12 L90.80,165.65 L91.00,166.09 L91.20,165.42 L91.40,165.57 L91.60,164.98 L91.80,167.26 L92.00,165.99 L92.20,167.00 L92.40,166.14 L92.60,165.51 L92.80,165.84 L93.00,165.63 L93.20,162.23 L93.40,170.73 L93.60,165.86 L93.80,164.89 L94.00,165.40 L94.20,167.62 L94.40,165.52 L94.60,165.18 L94.80,166.43 L95.00,167.39 L95.20,164.82 L95.40,165.94 L95.60,165.55 L95.80,164.54 L96.00,166.78 L96.20,166.10 L96.40,166.19 L96.60,165.44 L96.80,166.53 L97.00,165.64 L97.20,165.99 L97.40,165.12 L97.60,165.02 L97.80,167.32 L98.00,165.66 L98.20,166.38 L98.40,166.09 L98.60,165.72 L98.80,165.66 L99.00,160.90 L99.20,169.25 L99.40,165.98 L99.60,166.13 L99.80,167.17 L100.00,166.73 L100.20,166.46 L100.40,165.61 L100.60,164.87 L100.80,166.97 L101.00,166.98 L101.20,165.98 L101.40,166.60 L101.60,166.81 L101.80,166.86 L102.00,166.94 L102.20,165.70 L102.40,167.47 L102.60,164.99 L102.80,166.88 L103.00,166.55 L103.20,166.89 L103.40,167.80 L103.60,167.44 L103.80,165.07 L104.00,164.58 L104.20,166.84 L104.40,165.19 L104.60,166.09 L104.80,166.86 L105.00,164.62 L105.20,164.20 L105.40,166.33 L105.60,166.14 L105.80,165.88 L106.00,166.13 L106.20,165.33 L106.40,164.74 L106.60,165.95 L106.80,165.22 L107.00,164.62 L107.20,166.55 L107.40,163.93 L107.60,171.42 L107.80,165.21 L108.00,165.50 L108.20,165.20 L108.40,165.30 L108.60,166.27 L108.80,165.39 L109.00,166.41 L109.20,166.40 L109.40,167.91 L109.60,164.84 L109.80,166.89 L110.00,166.01 L110.20,166.08 L110.40,164.79 L110.60,165.68 L110.80,166.76 L111.00,166.01 L111.20,166.16 L111.40,165.83 L111.60,167.13 L111.80,166.07 L112.00,164.11 L112.20,165.46 L112.40,164.31 L112.60,163.88 L112.80,165.61 L113.00,167.28 L113.20,166.13 L113.40,165.03 L113.60,165.24 L113.80,167.10 L114.00,166.22 L114.20,166.12 L114.40,166.03 L114.60,166.12 L114.80,166.80 L115.00,166.58 L115.20,166.27 L115.40,165.14 L115.60,166.54 L115.80,165.46 L116.00,163.96 L116.20,171.81 L116.40,165.95 L116.60,166.07 L116.80,164.88 L117.00,167.62 L117.20,167.39 L117.40,165.66 L117.60,166.77 L117.80,166.41 L118.00,163.87 L118.20,166.30 L118.40,166.02 L118.60,166.15 L118.80,165.10 L119.00,165.83 L119.20,165.91 L119.40,167.14 L119.60,166.37 L119.80,166.06 L120.00,167.44 L120.20,164.33 L120.40,169.94 L120.60,164.43 L120.80,167.48 L121.00,166.93 L121.20,166.89 L121.40,166.67 L121.60,166.16 L121.80,166.26 L122.00,165.84 L122.20,165.88 L122.40,166.11 L122.60,167.42 L122.80,166.56 L123.00,166.01 L123.20,165.54 L123.40,165.49 L123.60,167.50 L123.80,166.52 L124.00,166.12 L124.20,165.75 L124.40,165.06 L124.60,166.00 L124.80,166.84 L125.00,165.70 L125.20,165.85 L125.40,165.86 L125.60,166.15 L125.80,164.62 L126.00,165.84 L126.20,165.29 L126.40,166.85 L126.60,165.36 L126.80,166.57 L127.00,167.42 L127.20,165.77 L127.40,163.42 L127.60,172.78 L127.80,166.05 L128.00,165.16 L128.20,166.46 L128.40,167.86 L128.60,165.82 L128.80,165.87 L129.00,165.11 L129.20,166.33 L129.40,164.92 L129.60,165.05 L129.80,163.47 L130.00,169.42 L130.20,167.02 L130.40,167.42 L130.60,166.28 L130.80,166.54 L131.00,167.80 L131.20,165.87 L131.40,165.51 L131.60,164.82 L131.80,166.08 L132.00,167.37 L132.20,166.90 L132.40,165.19 L132.60,165.27 L132.80,165.59 L133.00,166.30 L133.20,165.85 L133.40,166.23 L133.60,166.30 L133.80,165.77 L134.00,166.00 L134.20,166.22 L134.40,165.96 L134.60,166.49 L134.80,163.34 L135.00,167.65 L135.20,166.08 L135.40,164.52 L135.60,166.38 L135.80,164.28 L136.00,164.76 L136.20,166.80 L136.40,166.67 L136.60,165.90 L136.80,164.49 L137.00,165.70 L137.20,165.42 L137.40,166.60 L137.60,168.06 L137.80,166.22 L138.00,165.33 L138.20,164.97 L138.40,165.98 L138.60,163.48 L138.80,171.22 L139.00,166.13 L139.20,164.99 L139.40,167.02 L139.60,166.98 L139.80,167.00 L140.00,165.60 L140.20,166.49 L140.40,165.90 L140.60,165.67 L140.80,165.72 L141.00,164.85 L141.20,164.72 L141.40,166.73 L141.60,165.85 L141.80,166.21 L142.00,166.92 L142.20,164.46 L142.40,165.31 L142.60,166.17 L142.80,166.37 L143.00,165.68 L143.20,166.94 L143.40,166.20 L143.60,161.63 L143.80,169.95 L144.00,166.74 L144.20,166.43 L144.40,164.30 L144.60,167.23 L144.80,166.55 L145.00,167.22 L145.20,165.67 L145.40,165.74 L145.60,165.00 L145.80,168.21 L146.00,165.85 L146.20,167.44 L146.40,165.43 L146.60,166.16 L146.80,164.50 L147.00,165.66 L147.20,166.89 L147.40,164.88 L147.60,166.97 L147.80,166.31 L148.00,165.06 L148.20,163.87 L148.40,168.76 L148.60,165.96 L148.80,165.52 L149.00,165.26 L149.20,165.73 L149.40,165.08 L149.60,164.84 L149.80,165.96 L150.00,166.79 L150.20,164.62 L150.40,166.00 L150.60,165.41 L150.80,165.12 L151.00,166.76 L151.20,165.53 L151.40,167.34 L151.60,165.29 L151.80,166.34 L152.00,165.78 L152.20,165.31 L152.40,166.51 L152.60,165.84 L152.80,166.52 L153.00,165.94 L153.20,165.00 L153.40,165.89 L153.60,166.02 L153.80,166.84 L154.00,165.16 L154.20,165.94 L154.40,164.42 L154.60,166.56 L154.80,164.99 L155.00,164.34 L155.20,165.91 L155.40,166.96 L155.60,164.59 L155.80,164.98 L156.00,165.29 L156.20,164.94 L156.40,166.30 L156.60,162.64 L156.80,169.18 L157.00,166.48 L157.20,165.27 L157.40,166.34 L157.60,165.08 L157.80,164.86 L158.00,164.29 L158.20,167.62 L158.40,165.66 L158.60,166.16 L158.80,165.91 L159.00,166.08 L159.20,165.98 L159.40,167.65 L159.60,165.00 L159.80,164.53 L160.00,165.02 L160.20,164.73 L160.40,166.60 L160.60,160.92 L160.80,171.30 L161.00,164.68 L161.20,165.61 L161.40,167.18 L161.60,163.72 L161.80,166.40 L162.00,164.95 L162.20,166.85 L162.40,164.95 L162.60,165.66 L162.80,164.56 L163.00,165.03 L163.20,167.16 L163.40,166.65 L163.60,165.55 L163.80,165.12 L164.00,164.20 L164.20,165.55 L164.40,165.88 L164.60,165.83 L164.80,165.82 L165.00,164.89 L165.20,165.84 L165.40,165.86 L165.60,167.06 L165.80,167.57 L166.00,165.77 L166.20,165.20 L166.40,165.83 L166.60,165.34 L166.80,165.22 L167.00,165.83 L167.20,164.95 L167.40,166.43 L167.60,161.16 L167.80,168.71 L168.00,165.72 L168.20,165.22 L168.40,165.02 L168.60,165.66 L168.80,165.38 L169.00,166.08 L169.20,165.87 L169.40,164.64 L169.60,165.93 L169.80,164.66 L170.00,165.31 L170.20,165.60 L170.40,164.00 L170.60,165.95 L170.80,166.00 L171.00,165.72 L171.20,165.48 L171.40,165.52 L171.60,164.98 L171.80,165.61 L172.00,165.36 L172.20,165.93 L172.40,164.77 L172.60,166.06 L172.80,165.98 L173.00,165.72 L173.20,165.45 L173.40,166.34 L173.60,164.34 L173.80,166.26 L174.00,166.06 L174.20,166.09 L174.40,166.18 L174.60,165.25 L174.80,164.05 L175.00,170.99 L175.20,166.22 L175.40,166.02 L175.60,164.47 L175.80,166.31 L176.00,166.88 L176.20,166.73 L176.40,166.03 L176.60,164.42 L176.80,166.67 L177.00,165.69 L177.20,163.62 L177.40,166.16 L177.60,164.47 L177.80,164.65 L178.00,165.24 L178.20,166.96 L178.40,165.48 L178.60,166.05 L178.80,167.38 L179.00,167.24 L179.20,165.71 L179.40,161.66 L179.60,168.55 L179.80,165.18 L180.00,166.18 L180.20,166.15 L180.40,165.90 L180.60,166.69 L180.80,165.10 L181.00,165.74 L181.20,166.45 L181.40,166.32 L181.60,166.75 L181.80,166.15 L182.00,165.51 L182.20,166.11 L182.40,164.88 L182.60,164.31 L182.80,166.30 L183.00,165.73 L183.20,166.06 L183.40,164.25 L183.60,165.45 L183.80,165.23 L184.00,165.00 L184.20,161.59 L184.40,172.44 L184.60,166.58 L184.80,166.11 L185.00,165.23 L185.20,165.75 L185.40,166.45 L185.60,163.56 L185.80,165.65 L186.00,166.25 L186.20,166.37 L186.40,167.29 L186.60,166.78 L186.80,166.04 L187.00,166.03 L187.20,166.46 L187.40,165.27 L187.60,165.71 L187.80,166.56 L188.00,167.51 L188.20,165.60 L188.40,165.70 L188.60,165.92 L188.80,166.95 L189.00,163.56 L189.20,167.93 L189.40,164.87 L189.60,165.57 L189.80,165.56 L190.00,166.44 L190.20,166.67 L190.40,164.37 L190.60,164.91 L190.80,166.03 L191.00,165.13 L191.20,164.36 L191.40,166.66 L191.60,166.17 L191.80,166.17 L192.00,165.29 L192.20,166.64 L192.40,165.50 L192.60,166.70 L192.80,164.89 L193.00,164.94 L193.20,165.90 L193.40,165.08 L193.60,166.32 L193.80,165.94 L194.00,164.88 L194.20,165.77 L194.40,165.39 L194.60,166.53 L194.80,165.13 L195.00,165.30 L195.20,166.79 L195.40,167.71 L195.60,167.50 L195.80,160.62 L196.00,167.29 L196.20,167.07 L196.40,165.58 L196.60,164.81 L196.80,165.79 L197.00,166.09 L197.20,164.94 L197.40,164.20 L197.60,164.39 L197.80,166.28 L198.00,165.00 L198.20,165.55 L198.40,165.87 L198.60,166.23 L198.80,165.37 L199.00,166.12 L199.20,164.87 L199.40,165.35 L199.60,164.75 L199.80,166.69 L200.00,165.64 L200.20,165.00 L200.40,165.35 L200.60,163.49 L200.80,172.41 L201.00,164.22 L201.20,164.73 L201.40,165.32 L201.60,167.86 L201.80,166.51 L202.00,165.55 L202.20,166.29 L202.40,167.50 L202.60,165.44 L202.80,165.32 L203.00,166.74 L203.20,166.09 L203.40,166.25 L203.60,165.19 L203.80,167.37 L204.00,163.87 L204.20,171.36 L204.40,166.25 L204.60,163.81 L204.80,166.21 L205.00,165.46 L205.20,166.02 L205.40,166.24 L205.60,165.32 L205.80,164.11 L206.00,165.96 L206.20,164.96 L206.40,165.33 L206.60,165.08 L206.80,165.31 L207.00,163.54 L207.20,166.71 L207.40,165.85 L207.60,166.62 L207.80,167.40 L208.00,165.63 L208.20,163.99 L208.40,164.81 L208.60,164.52 L208.80,165.16 L209.00,165.68 L209.20,163.80 L209.40,165.91 L209.60,164.24 L209.80,165.87 L210.00,165.50 L210.20,165.32 L210.40,165.53 L210.60,165.11 L210.80,165.04 L211.00,164.08 L211.20,165.57 L211.40,167.25 L211.60,167.37 L211.80,166.78 L212.00,166.22 L212.20,164.98 L212.40,166.88 L212.60,165.53 L212.80,165.52 L213.00,160.98 L213.20,167.71 L213.40,165.19 L213.60,165.50 L213.80,164.60 L214.00,165.24 L214.20,167.62 L214.40,165.51 L214.60,165.35 L214.80,166.05 L215.00,166.20 L215.20,164.56 L215.40,165.38 L215.60,166.39 L215.80,165.80 L216.00,165.67 L216.20,166.96 L216.40,164.95 L216.60,165.63 L216.80,165.09 L217.00,166.89 L217.20,163.80 L217.40,164.95 L217.60,165.07 L217.80,166.15 L218.00,161.97 L218.20,171.99 L218.40,164.13 L218.60,166.22 L218.80,165.28 L219.00,164.94 L219.20,166.02 L219.40,164.71 L219.60,163.67 L219.80,165.20 L220.00,164.19 L220.20,164.95 L220.40,165.87 L220.60,165.81 L220.80,166.96 L221.00,165.35 L221.20,164.15 L221.40,164.84 L221.60,164.70 L221.80,164.43 L222.00,165.91 L222.20,164.94 L222.40,163.74 L222.60,166.14 L222.80,165.41 L223.00,165.83 L223.20,165.61 L223.40,166.08 L223.60,165.54 L223.80,166.62 L224.00,165.89 L224.20,165.86 L224.40,165.87 L224.60,164.19 L224.80,165.35 L225.00,165.27 L225.20,165.69 L225.40,163.76 L225.60,169.49 L225.80,165.59 L226.00,164.40 L226.20,163.95 L226.40,165.24 L226.60,165.41 L226.80,164.84 L227.00,165.57 L227.20,164.91 L227.40,165.98 L227.60,164.83 L227.80,165.45 L228.00,166.36 L228.20,167.68 L228.40,164.57 L228.60,165.06 L228.80,164.72 L229.00,166.18 L229.20,164.44 L229.40,165.03 L229.60,165.44 L229.80,164.59 L230.00,164.61 L230.20,165.04 L230.40,163.57 L230.60,164.16 L230.80,165.09 L231.00,165.59 L231.20,165.29 L231.40,163.86 L231.60,165.04 L231.80,166.17 L232.00,165.95 L232.20,165.38 L232.40,164.65 L232.60,166.02 L232.80,164.93 L233.00,161.77 L233.20,170.61 L233.40,166.75 L233.60,165.64 L233.80,166.48 L234.00,165.01 L234.20,166.28 L234.40,164.90 L234.60,165.29 L234.80,167.63 L235.00,166.12 L235.20,164.98 L235.40,165.35 L235.60,165.72 L235.80,166.52 L236.00,164.99 L236.20,163.86 L236.40,165.17 L236.60,165.44 L236.80,165.52 L237.00,166.61 L237.20,165.70 L237.40,166.15 L237.60,164.42 L237.80,166.20 L238.00,167.30 L238.20,166.11 L238.40,165.64 L238.60,165.55 L238.80,167.02 L239.00,164.57 L239.20,165.31 L239.40,165.82 L239.60,166.07 L239.80,165.01 L240.00,165.68 L240.20,165.15 L240.40,165.50 L240.60,165.28 L240.80,164.36 L241.00,165.37 L241.20,166.18 L241.40,164.52 L241.60,165.17 L241.80,159.97 L242.00,171.49 L242.20,165.54 L242.40,164.42 L242.60,166.40 L242.80,167.45 L243.00,167.19 L243.20,165.17 L243.40,166.03 L243.60,165.47 L243.80,165.46 L244.00,166.75 L244.20,164.17 L244.40,166.31 L244.60,165.31 L244.80,166.62 L245.00,165.52 L245.20,164.75 L245.40,165.60 L245.60,166.01 L245.80,165.38 L246.00,165.78 L246.20,164.87 L246.40,163.42 L246.60,166.15 L246.80,165.96 L247.00,165.47 L247.20,165.39 L247.40,166.26 L247.60,164.92 L247.80,164.69 L248.00,162.59 L248.20,167.70 L248.40,164.07 L248.60,166.39 L248.80,164.74 L249.00,164.32 L249.20,166.45 L249.40,165.22 L249.60,164.14 L249.80,164.98 L250.00,166.14 L250.20,166.38 L250.40,164.92 L250.60,165.66 L250.80,165.94 L251.00,164.72 L251.20,165.61 L251.40,165.26 L251.60,161.23 L251.80,171.04 L252.00,165.35 L252.20,165.31 L252.40,164.77 L252.60,164.90 L252.80,166.28 L253.00,165.47 L253.20,166.07 L253.40,166.35 L253.60,165.80 L253.80,167.31 L254.00,164.52 L254.20,165.99 L254.40,164.98 L254.60,166.93 L254.80,166.79 L255.00,163.50 L255.20,164.38 L255.40,165.85 L255.60,165.96 L255.80,165.91 L256.00,165.18 L256.20,165.66 L256.40,165.83 L256.60,165.17 L256.80,166.16 L257.00,163.20 L257.20,165.81 L257.40,164.30 L257.60,166.10 L257.80,165.02 L258.00,164.43 L258.20,165.56 L258.40,164.40 L258.60,164.40 L258.80,163.81 L259.00,165.20 L259.20,165.66 L259.40,166.14 L259.60,160.06 L259.80,168.30 L260.00,165.23 L260.20,165.12 L260.40,165.72 L260.60,166.16 L260.80,164.89 L261.00,164.98 L261.20,165.23 L261.40,165.62 L261.60,164.91 L261.80,166.82 L262.00,165.71 L262.20,166.66 L262.40,165.67 L262.60,166.91 L262.80,167.11 L263.00,166.55 L263.20,168.93 L263.40,167.61 L263.60,169.05 L263.80,168.49 L264.00,167.20 L264.20,167.45 L264.40,165.51 L264.60,172.29 L264.80,167.84 L265.00,167.53 L265.20,166.16 L265.40,167.59 L265.60,165.79 L265.80,168.12 L266.00,167.13 L266.20,167.14 L266.40,167.58 L266.60,168.03 L266.80,166.49 L267.00,166.20 L267.20,166.82 L267.40,165.94 L267.60,166.90 L267.80,169.20 L268.00,166.82 L268.20,168.35 L268.40,166.53 L268.60,168.03 L268.80,167.48 L269.00,167.71 L269.20,168.27 L269.40,169.34 L269.60,167.93 L269.80,167.87 L270.00,166.88 L270.20,168.28 L270.40,167.53 L270.60,168.50 L270.80,167.71 L271.00,169.31 L271.20,165.96 L271.40,167.48 L271.60,168.53 L271.80,167.42 L272.00,167.03 L272.20,167.50 L272.40,166.49 L272.60,167.84 L272.80,169.93 L273.00,163.20 L273.20,171.63 L273.40,166.94 L273.60,167.36 L273.80,168.63 L274.00,166.98 L274.20,167.10 L274.40,168.52 L274.60,168.50 L274.80,167.38 L275.00,166.71 L275.20,166.32 L275.40,167.08 L275.60,165.70 L275.80,168.38 L276.00,167.14 L276.20,168.14 L276.40,169.39 L276.60,162.83 L276.80,174.13 L277.00,168.48 L277.20,168.74 L277.40,167.03 L277.60,166.84 L277.80,167.60 L278.00,166.25 L278.20,169.01 L278.40,165.52 L278.60,166.69 L278.80,167.44 L279.00,167.48 L279.20,167.83 L279.40,167.93 L279.60,167.49 L279.80,168.70 L280.00,165.75 L280.20,167.68 L280.40,167.03 L280.60,167.79 L280.80,167.87 L281.00,166.85 L281.20,167.09 L281.40,168.38 L281.60,167.98 L281.80,167.05 L282.00,169.50 L282.20,169.74 L282.40,166.34 L282.60,167.93 L282.80,169.86 L283.00,168.36 L283.20,167.85 L283.40,167.46 L283.60,167.16 L283.80,167.46 L284.00,164.98 L284.20,171.29 L284.40,167.28 L284.60,167.24 L284.80,166.56 L285.00,167.59 L285.20,166.83 L285.40,167.47 L285.60,168.57 L285.80,167.96 L286.00,168.09 L286.20,167.95 L286.40,167.68 L286.60,167.51 L286.80,167.35 L287.00,168.31 L287.20,166.65 L287.40,168.83 L287.60,167.65 L287.80,166.94 L288.00,167.18 L288.20,167.00 L288.40,167.76 L288.60,166.96 L288.80,168.64 L289.00,166.90 L289.20,165.56 L289.40,166.95 L289.60,165.80 L289.80,167.57 L290.00,168.55 L290.20,168.17 L290.40,162.40 L290.60,170.41 L290.80,169.14 L291.00,167.82 L291.20,167.52 L291.40,168.45 L291.60,169.69 L291.80,168.64 L292.00,167.59 L292.20,167.77 L292.40,167.99 L292.60,166.87 L292.80,166.45 L293.00,167.44 L293.20,166.52 L293.40,167.31 L293.60,167.43 L293.80,169.44 L294.00,166.55 L294.20,167.20 L294.40,167.14 L294.60,167.67 L294.80,168.21 L295.00,166.81 L295.20,166.50 L295.40,165.75 L295.60,165.47 L295.80,168.73 L296.00,167.22 L296.20,166.25 L296.40,166.82 L296.60,167.17 L296.80,167.58 L297.00,166.58 L297.20,166.87 L297.40,165.45 L297.60,166.03 L297.80,168.51 L298.00,165.07 L298.20,166.72 L298.40,167.21 L298.60,166.66 L298.80,166.26 L299.00,166.92 L299.20,166.95 L299.40,166.87 L299.60,162.19 L299.80,172.14 L300.00,166.13 L300.20,166.40 L300.40,167.10 L300.60,167.47 L300.80,167.69 L301.00,166.44 L301.20,167.71 L301.40,167.93 L301.60,167.90 L301.80,168.12 L302.00,166.73 L302.20,166.71 L302.40,167.60 L302.60,165.63 L302.80,167.04 L303.00,166.37 L303.20,166.51 L303.40,165.27 L303.60,166.04 L303.80,166.82 L304.00,167.63 L304.20,167.72 L304.40,166.75 L304.60,166.65 L304.80,166.07 L305.00,167.18 L305.20,163.67 L305.40,169.77 L305.60,168.38 L305.80,166.77 L306.00,165.45 L306.20,166.02 L306.40,165.48 L306.60,165.71 L306.80,167.96 L307.00,166.98 L307.20,165.41 L307.40,167.36 L307.60,167.90 L307.80,166.44 L308.00,166.15 L308.20,166.46 L308.40,167.01 L308.60,167.33 L308.80,167.81 L309.00,167.84 L309.20,167.81 L309.40,167.96 L309.60,167.33 L309.80,165.35 L310.00,166.61 L310.20,167.01 L310.40,166.38 L310.60,167.54 L310.80,166.39 L311.00,165.88 L311.20,168.01 L311.40,167.30 L311.60,166.90 L311.80,167.53 L312.00,167.65 L312.20,167.00 L312.40,164.49 L312.60,166.08 L312.80,163.23 L313.00,168.57 L313.20,166.85 L313.40,167.74 L313.60,166.23 L313.80,165.64 L314.00,168.49 L314.20,166.25 L314.40,165.54 L314.60,166.86 L314.80,167.03 L315.00,166.01 L315.20,167.35 L315.40,166.20 L315.60,165.80 L315.80,166.79 L316.00,167.32 L316.20,166.05 L316.40,166.92 L316.60,166.53 L316.80,168.81 L317.00,165.97 L317.20,167.85 L317.40,166.55 L317.60,166.48 L317.80,167.24 L318.00,167.40 L318.20,167.73 L318.40,166.88 L318.60,166.04 L318.80,166.09 L319.00,167.03 L319.20,167.09 L319.40,161.09 L319.60,168.47 L319.80,167.51 L320.00,167.92 L320.20,166.70 L320.40,165.21 L320.60,165.49 L320.80,165.25 L321.00,167.97 L321.20,165.77 L321.40,167.64 L321.60,167.06 L321.80,168.07 L322.00,167.43 L322.20,166.43 L322.40,166.34 L322.60,166.59 L322.80,166.67 L323.00,166.03 L323.20,166.47 L323.40,167.95 L323.60,164.96 L323.80,166.72 L324.00,165.67 L324.20,166.65 L324.40,167.24 L324.60,166.43 L324.80,167.17 L325.00,165.04 L325.20,167.46 L325.40,165.92 L325.60,167.02 L325.80,166.62 L326.00,164.25 L326.20,165.77 L326.40,166.65 L326.60,167.84 L326.80,166.70 L327.00,166.67 L327.20,165.16 L327.40,167.72 L327.60,168.05 L327.80,166.45 L328.00,166.22 L328.20,164.52 L328.40,169.61 L328.60,168.61 L328.80,167.05 L329.00,167.54 L329.20,166.89 L329.40,165.51 L329.60,167.60 L329.80,165.28 L330.00,166.20 L330.20,166.63 L330.40,167.17 L330.60,166.75 L330.80,166.72 L331.00,165.68 L331.20,165.20 L331.40,166.42 L331.60,165.72 L331.80,165.18 L332.00,165.21 L332.20,165.91 L332.40,164.68 L332.60,165.13 L332.80,164.87 L333.00,166.50 L333.20,166.70 L333.40,168.13 L333.60,164.98 L333.80,165.71 L334.00,167.14 L334.20,166.12 L334.40,166.02 L334.60,167.85 L334.80,166.00 L335.00,165.26 L335.20,165.11 L335.40,166.60 L335.60,166.57 L335.80,165.06 L336.00,165.40 L336.20,166.77 L336.40,166.80 L336.60,165.70 L336.80,166.84 L337.00,166.79 L337.20,160.89 L337.40,168.79 L337.60,166.64 L337.80,165.75 L338.00,164.34 L338.20,166.01 L338.40,166.94 L338.60,167.68 L338.80,164.28 L339.00,168.45 L339.20,165.24 L339.40,167.11 L339.60,167.36 L339.80,167.13 L340.00,166.38 L340.20,165.20 L340.40,166.80 L340.60,165.59 L340.80,164.03 L341.00,168.43 L341.20,166.87 L341.40,167.86 L341.60,165.40 L341.80,167.54 L342.00,167.65 L342.20,167.62 L342.40,166.20 L342.60,165.13 L342.80,166.05 L343.00,164.23 L343.20,164.67 L343.40,166.29 L343.60,165.31 L343.80,166.05 L344.00,166.10 L344.20,167.93 L344.40,162.24 L344.60,169.88 L344.80,167.28 L345.00,165.48 L345.20,165.88 L345.40,167.00 L345.60,165.06 L345.80,165.93 L346.00,164.99 L346.20,166.28 L346.40,167.64 L346.60,165.49 L346.80,166.37 L347.00,165.36 L347.20,165.13 L347.40,165.05 L347.60,167.47 L347.80,168.28 L348.00,166.59 L348.20,165.50 L348.40,166.78 L348.60,165.84 L348.80,166.86 L349.00,166.40 L349.20,166.39 L349.40,166.68 L349.60,165.61 L349.80,165.77 L350.00,164.58 L350.20,165.73 L350.40,164.84 L350.60,165.99 L350.80,165.26 L351.00,166.21 L351.20,166.52 L351.40,164.83 L351.60,165.38 L351.80,165.26 L352.00,162.07 L352.20,168.84 L352.40,166.87 L352.60,165.78 L352.80,167.42 L353.00,164.73 L353.20,167.44 L353.40,165.50 L353.60,163.89 L353.80,168.29 L354.00,167.50 L354.20,165.15 L354.40,166.23 L354.60,165.88 L354.80,166.17 L355.00,164.74 L355.20,165.46 L355.40,166.49 L355.60,166.26 L355.80,167.14 L356.00,166.13 L356.20,168.17 L356.40,165.41 L356.60,166.29 L356.80,164.33 L357.00,164.92 L357.20,167.24 L357.40,165.20 L357.60,161.70 L357.80,170.96 L358.00,165.10 L358.20,165.72 L358.40,165.57 L358.60,165.59 L358.80,166.71 L359.00,166.61 L359.20,165.50 L359.40,165.20 L359.60,166.27 L359.80,165.93 L360.00,166.94 L360.20,168.21 L360.40,166.77 L360.60,165.98 L360.80,165.85 L361.00,165.23 L361.20,165.18 L361.40,165.10 L361.60,165.64 L361.80,165.61 L362.00,166.66 L362.20,165.63 L362.40,165.81 L362.60,164.89 L362.80,167.46 L363.00,166.44 L363.20,167.59 L363.40,166.69 L363.60,161.52 L363.80,168.21 L364.00,166.61 L364.20,168.17 L364.40,164.86 L364.60,167.02 L364.80,167.49 L365.00,166.34 L365.20,166.64 L365.40,167.10 L365.60,165.35 L365.80,166.32 L366.00,165.15 L366.20,165.32 L366.40,164.31 L366.60,170.85 L366.80,166.07 L367.00,166.35 L367.20,164.63 L367.40,167.75 L367.60,166.99 L367.80,166.59 L368.00,165.59 L368.20,165.84 L368.40,166.42 L368.60,166.30 L368.80,164.36 L369.00,166.59 L369.20,168.11 L369.40,164.20 L369.60,166.82 L369.80,166.24 L370.00,165.80 L370.20,167.16 L370.40,164.80 L370.60,166.04 L370.80,167.24 L371.00,165.70 L371.20,165.50 L371.40,165.99 L371.60,165.47 L371.80,161.03 L372.00,172.72 L372.20,166.68 L372.40,164.71 L372.60,166.48 L372.80,165.76 L373.00,163.66 L373.20,165.85 L373.40,164.87 L373.60,165.44 L373.80,167.27 L374.00,164.81 L374.20,164.86 L374.40,167.17 L374.60,165.94 L374.80,167.26 L375.00,162.81 L375.20,169.64 L375.40,165.76 L375.60,166.96 L375.80,166.69 L376.00,165.82 L376.20,165.86 L376.40,165.71 L376.60,165.27 L376.80,167.59 L377.00,165.81 L377.20,164.75 L377.40,165.36 L377.60,166.47 L377.80,166.38 L378.00,165.66 L378.20,165.17 L378.40,165.80 L378.60,164.23 L378.80,164.57 L379.00,166.51 L379.20,165.33 L379.40,166.12 L379.60,166.89 L379.80,166.36 L380.00,165.78 L380.20,167.73 L380.40,166.37 L380.60,165.42 L380.80,166.43 L381.00,160.61 L381.20,170.55 L381.40,165.81 L381.60,165.58 L381.80,163.92 L382.00,165.57 L382.20,165.47 L382.40,165.32 L382.60,164.20 L382.80,165.39 L383.00,165.68 L383.20,165.81 L383.40,164.66 L383.60,166.29 L383.80,164.58 L384.00,165.50 L384.20,166.91 L384.40,165.06 L384.60,165.22 L384.80,166.69 L385.00,165.33 L385.20,165.41 L385.40,161.53 L385.60,168.99 L385.80,163.64 L386.00,164.91 L386.20,164.74 L386.40,164.67 L386.60,164.88 L386.80,164.89 L387.00,165.94 L387.20,164.84 L387.40,165.77 L387.60,166.02 L387.80,164.98 L388.00,165.77 L388.20,167.15 L388.40,165.94 L388.60,165.05 L388.80,165.58 L389.00,164.79 L389.20,165.88 L389.40,166.42 L389.60,164.87 L389.80,165.43 L390.00,166.64 L390.20,165.16 L390.40,165.79 L390.60,164.67 L390.80,164.86 L391.00,165.13 L391.20,167.56 L391.40,165.23 L391.60,163.70 L391.80,170.20 L392.00,165.44 L392.20,166.18 L392.40,165.76 L392.60,167.44 L392.80,165.77 L393.00,166.88 L393.20,165.82 L393.40,166.12 L393.60,164.27 L393.80,165.45 L394.00,165.50 L394.20,165.34 L394.40,163.62 L394.60,166.35 L394.80,165.20 L395.00,165.16 L395.20,165.32 L395.40,165.34 L395.60,165.91 L395.80,164.39 L396.00,164.70 L396.20,165.79 L396.40,165.66 L396.60,165.19 L396.80,165.01 L397.00,164.77 L397.20,161.44 L397.40,170.14 L397.60,164.56 L397.80,166.88 L398.00,166.27 L398.20,165.10 L398.40,166.21 L398.60,164.18 L398.80,163.94 L399.00,164.33 L399.20,165.12 L399.40,165.20 L399.60,165.02 L399.80,165.57 L400.00,163.56 L400.20,165.92 L400.40,164.20 L400.60,164.88 L400.80,165.10 L401.00,164.43 L401.20,164.23 L401.40,164.55 L401.60,165.45 L401.80,165.99 L402.00,165.96 L402.20,164.55 L402.40,164.73 L402.60,164.62 L402.80,165.85 L403.00,163.60 L403.20,166.55 L403.40,160.98 L403.60,167.67 L403.80,165.73 L404.00,166.35 L404.20,165.73 L404.40,166.37 L404.60,165.54 L404.80,166.52 L405.00,166.53 L405.20,165.32 L405.40,166.70 L405.60,165.55 L405.80,165.48 L406.00,164.57 L406.20,165.13 L406.40,166.09 L406.60,164.21 L406.80,165.97 L407.00,165.70 L407.20,165.63 L407.40,163.39 L407.60,165.28 L407.80,165.95 L408.00,164.68 L408.20,165.45 L408.40,163.22 L408.60,165.96 L408.80,164.76 L409.00,166.14 L409.20,163.69 L409.40,165.97 L409.60,165.13 L409.80,166.07 L410.00,164.51 L410.20,164.78 L410.40,167.35 L410.60,164.58 L410.80,161.33 L411.00,170.62 L411.20,164.40 L411.40,166.39 L411.60,166.87 L411.80,164.68 L412.00,163.76 L412.20,166.36 L412.40,166.30 L412.60,166.04 L412.80,166.34 L413.00,164.52 L413.20,165.14 L413.40,164.05 L413.60,164.01 L413.80,166.17 L414.00,164.68 L414.20,167.33 L414.40,165.35 L414.60,164.70 L414.80,165.99 L415.00,166.89 L415.20,165.70 L415.40,164.17 L415.60,165.60 L415.80,166.50 L416.00,163.42 L416.20,171.83 L416.40,166.17 L416.60,165.37 L416.80,164.25 L417.00,164.90 L417.20,164.56 L417.40,165.50 L417.60,165.33 L417.80,166.27 L418.00,165.87 L418.20,163.82 L418.40,165.59 L418.60,166.03 L418.80,165.63 L419.00,166.14 L419.20,164.72 L419.40,164.35 L419.60,166.04 L419.80,164.24 L420.00,163.26 L420.20,166.12 L420.40,164.54 L420.60,164.91 L420.80,163.92 L421.00,163.98 L421.20,164.13 L421.40,164.84 L421.60,165.49 L421.80,163.08 L422.00,165.82 L422.20,164.08 L422.40,164.18 L422.60,165.74 L422.80,165.06 L423.00,163.74 L423.20,166.77 L423.40,164.33 L423.60,165.33 L423.80,159.69 L424.00,169.13 L424.20,164.68 L424.40,165.99 L424.60,164.41 L424.80,166.08 L425.00,164.38 L425.20,164.74 L425.40,166.76 L425.60,165.34 L425.80,165.14 L426.00,167.06 L426.20,165.36 L426.40,164.29 L426.60,165.69 L426.80,163.96 L427.00,166.03 L427.20,166.09 L427.40,164.49 L427.60,164.43 L427.80,165.15 L428.00,165.00 L428.20,164.10 L428.40,165.49 L428.60,163.13 L428.80,164.58 L429.00,164.60 L429.20,164.71 L429.40,165.23 L429.60,163.84 L429.80,165.47 L430.00,164.77 L430.20,164.34 L430.40,163.69 L430.60,163.85 L430.80,165.24 L431.00,164.04 L431.20,164.96 L431.40,165.85 L431.60,165.82 L431.80,166.29 L432.00,159.89 L432.20,169.40 L432.40,165.79 L432.60,165.14 L432.80,165.87 L433.00,164.86 L433.20,165.92 L433.40,165.60 L433.60,165.48 L433.80,165.29 L434.00,165.18 L434.20,165.03 L434.40,165.02 L434.60,165.70 L434.80,164.34 L435.00,166.36 L435.20,164.70 L435.40,165.68 L435.60,164.70 L435.80,164.56 L436.00,166.60 L436.20,164.49 L436.40,163.61 L436.60,164.11 L436.80,164.47 L437.00,166.69 L437.20,164.93 L437.40,165.58 L437.60,163.83 L437.80,165.04 L438.00,165.32 L438.20,166.34 L438.40,164.08 L438.60,165.25 L438.80,164.97 L439.00,163.77 L439.20,164.67 L439.40,164.45 L439.60,162.58 L439.80,165.21 L440.00,165.15 L440.20,164.27 L440.40,159.90 L440.60,166.72 L440.80,164.88 L441.00,165.56 L441.20,165.90 L441.40,164.16 L441.60,165.35 L441.80,164.40 L442.00,164.56 L442.20,164.53 L442.40,164.60 L442.60,165.60 L442.80,164.70 L443.00,164.45 L443.20,164.33 L443.40,164.88 L443.60,163.77 L443.80,161.44 L444.00,169.00 L444.20,164.05 L444.40,164.44 L444.60,163.99 L444.80,166.34 L445.00,165.73 L445.20,164.93 L445.40,164.47 L445.60,166.49 L445.80,164.80 L446.00,164.43 L446.20,164.77 L446.40,164.77 L446.60,165.76 L446.80,164.47 L447.00,166.37 L447.20,163.68 L447.40,165.09 L447.60,163.56 L447.80,166.09 L448.00,164.16 L448.20,164.40 L448.40,165.27 L448.60,165.57 L448.80,163.43 L449.00,164.12 L449.20,163.17 L449.40,164.54 L449.60,164.32 L449.80,164.09 L450.00,163.78 L450.20,164.05 L450.40,163.73 L450.60,160.64 L450.80,170.72 L451.00,162.66 L451.20,164.29 L451.40,164.02 L451.60,164.84 L451.80,163.54 L452.00,164.26 L452.20,163.45 L452.40,165.02 L452.60,164.48 L452.80,164.24 L453.00,164.72 L453.20,164.16 L453.40,162.99 L453.60,164.92 L453.80,164.64 L454.00,164.24 L454.20,165.27 L454.40,165.48 L454.60,163.40 L454.80,163.67 L455.00,165.77 L455.20,165.65 L455.40,163.71 L455.60,163.31 L455.80,163.80 L456.00,163.92 L456.20,162.95 L456.40,164.40 L456.60,163.22 L456.80,163.28 L457.00,165.19 L457.20,163.75 L457.40,164.30 L457.60,164.93 L457.80,165.10 L458.00,164.06 L458.20,162.45 L458.40,167.73 L458.60,165.93 L458.80,164.94 L459.00,163.37 L459.20,164.36 L459.40,165.00 L459.60,164.79 L459.80,166.00 L460.00,165.59 L460.20,163.87 L460.40,164.27 L460.60,163.20 L460.80,164.57 L461.00,164.49 L461.20,166.55 L461.40,164.44 L461.60,162.46 L461.80,163.74 L462.00,164.45 L462.20,163.21 L462.40,163.56 L462.60,164.01 L462.80,164.65 L463.00,164.19 L463.20,163.54 L463.40,165.05 L463.60,163.85 L463.80,163.89 L464.00,163.09 L464.20,163.63 L464.40,164.92 L464.60,162.88 L464.80,164.27 L465.00,164.98 L465.20,163.99 L465.40,164.55 L465.60,163.32 L465.80,165.51 L466.00,165.32 L466.20,164.54 L466.40,159.80 L466.60,165.91 L466.80,165.20 L467.00,165.86 L467.20,164.59 L467.40,165.44 L467.60,163.77 L467.80,164.15 L468.00,164.32 L468.20,164.70 L468.40,162.94 L468.60,165.16 L468.80,165.50 L469.00,163.28 L469.20,163.09 L469.40,164.63 L469.60,163.72 L469.80,162.18 L470.00,165.04 L470.20,164.45 L470.40,163.88 L470.60,166.21 L470.80,164.43 L471.00,163.63 L471.20,164.39 L471.40,163.37 L471.60,163.62 L471.80,164.65 L472.00,163.80 L472.20,163.89 L472.40,165.80 L472.60,165.07 L472.80,165.02 L473.00,162.29 L473.20,168.56 L473.40,165.60 L473.60,164.27 L473.80,165.96 L474.00,163.43 L474.20,164.06 L474.40,163.05 L474.60,163.98 L474.80,164.75 L475.00,165.59 L475.20,163.69 L475.40,164.29 L475.60,163.96 L475.80,163.62 L476.00,163.21 L476.20,164.33 L476.40,162.72 L476.60,164.38 L476.80,164.30 L477.00,163.68 L477.20,163.37 L477.40,163.03 L477.60,165.96 L477.80,163.06 L478.00,165.67 L478.20,164.81 L478.40,163.94 L478.60,163.23 L478.80,165.21 L479.00,165.82 L479.20,163.43 L479.40,164.00 L479.60,165.21 L479.80,164.57 L480.00,166.06 L480.20,163.75 L480.40,164.75 L480.60,163.13 L480.80,166.14 L481.00,163.60 L481.20,162.27 L481.40,164.14 L481.60,164.13 L481.80,165.98 L482.00,162.45 L482.20,170.28 L482.40,164.79 L482.60,165.68 L482.80,164.19 L483.00,165.18 L483.20,164.71 L483.40,163.98 L483.60,164.32 L483.80,164.27 L484.00,163.42 L484.20,165.34 L484.40,162.99 L484.60,165.29 L484.80,165.10 L485.00,164.16 L485.20,163.55 L485.40,164.03 L485.60,164.66 L485.80,164.90 L486.00,164.49 L486.20,165.13 L486.40,163.73 L486.60,164.44 L486.80,162.82 L487.00,164.92 L487.20,164.37 L487.40,163.85 L487.60,158.81 L487.80,170.45 L488.00,162.03 L488.20,164.26 L488.40,162.91 L488.60,165.18 L488.80,166.42 L489.00,163.75 L489.20,164.29 L489.40,163.99 L489.60,164.53 L489.80,164.80 L490.00,165.37 L490.20,163.33 L490.40,165.63 L490.60,160.14 L490.80,170.44 L491.00,165.25 L491.20,164.85 L491.40,163.36 L491.60,163.58 L491.80,163.79 L492.00,164.16 L492.20,165.24 L492.40,163.04 L492.60,164.62 L492.80,164.75 L493.00,164.70 L493.20,164.62 L493.40,165.57 L493.60,164.64 L493.80,164.97 L494.00,164.70 L494.20,165.81 L494.40,162.49 L494.60,165.35 L494.80,159.87 L495.00,167.09 L495.20,163.32 L495.40,162.51 L495.60,163.85 L495.80,163.57 L496.00,164.63 L496.20,162.86 L496.40,165.48 L496.60,164.43 L496.80,163.96 L497.00,163.55 L497.20,163.47 L497.40,163.16 L497.60,163.69 L497.80,164.19 L498.00,164.02 L498.20,162.91 L498.40,163.94 L498.60,163.37 L498.80,161.35 L499.00,167.29 L499.20,164.74 L499.40,163.89 L499.60,162.71 L499.80,162.90 L500.00,162.65 L500.20,164.82 L500.40,163.48 L500.60,164.22 L500.80,163.61 L501.00,164.25 L501.20,165.43 L501.40,163.55 L501.60,163.86 L501.80,163.44 L502.00,164.95 L502.20,163.24 L502.40,163.14 L502.60,162.91 L502.80,162.89 L503.00,164.58 L503.20,166.36 L503.40,163.26 L503.60,165.01 L503.80,164.38 L504.00,163.16 L504.20,163.90 L504.40,163.94 L504.60,163.53 L504.80,165.89 L505.00,162.43 L505.20,164.49 L505.40,164.44 L505.60,163.62 L505.80,164.28 L506.00,164.93 L506.20,164.28 L506.40,164.52 L506.60,164.76 L506.80,162.31 L507.00,165.47 L507.20,166.19 L507.40,161.70 L507.60,167.97 L507.80,162.87 L508.00,164.03 L508.20,163.40 L508.40,163.60 L508.60,165.00 L508.80,163.41 L509.00,164.01 L509.20,162.41 L509.40,163.98 L509.60,164.21 L509.80,163.49 L510.00,163.48 L510.20,165.82 L510.40,163.03 L510.60,163.18 L510.80,163.39 L511.00,165.20 L511.20,166.01 L511.40,164.42 L511.60,163.47 L511.80,163.73 L512.00,165.07 L512.20,163.29 L512.40,165.42 L512.60,165.39 L512.80,164.17 L513.00,164.69 L513.20,159.84 L513.40,170.94 L513.60,163.16 L513.80,165.17 L514.00,163.77 L514.20,163.41 L514.40,164.20 L514.60,163.91 L514.80,163.21 L515.00,162.66 L515.20,163.25 L515.40,165.41 L515.60,165.86 L515.80,164.68 L516.00,165.16 L516.20,163.63 L516.40,164.03 L516.60,164.35 L516.80,163.12 L517.00,163.20 L517.20,164.18 L517.40,163.80 L517.60,163.13 L517.80,164.44 L518.00,163.85 L518.20,165.01 L518.40,164.08 L518.60,163.81 L518.80,164.20 L519.00,163.93 L519.20,163.48 L519.40,163.72 L519.60,159.14 L519.80,166.30 L520.00,165.24 L520.20,162.55 L520.40,163.72 L520.60,163.70 L520.80,164.23 L521.00,163.67 L521.20,163.61 L521.40,164.78 L521.60,164.23 L521.80,163.02 L522.00,165.27 L522.20,164.97 L522.40,163.55 L522.60,164.81 L522.80,163.40 L523.00,165.08 L523.20,163.87 L523.40,163.34 L523.60,163.73 L523.80,163.37 L524.00,164.23 L524.20,164.22 L524.40,164.09 L524.60,163.56 L524.80,161.86 L525.00,164.14 L525.20,162.35 L525.40,164.27 L525.60,165.07 L525.80,164.30 L526.00,163.70 L526.20,163.89 L526.40,161.86 L526.60,170.34 L526.80,163.52 L527.00,163.21 L527.20,165.11 L527.40,164.03 L527.60,164.90 L527.80,163.82 L528.00,164.11 L528.20,163.89 L528.40,164.46 L528.60,164.78 L528.80,164.25 L529.00,163.43 L529.20,163.33 L529.40,165.53 L529.60,163.78 L529.80,163.77 L530.00,165.35 L530.20,165.01 L530.40,164.51 L530.60,163.67 L530.80,166.15 L531.00,164.38 L531.20,164.52 L531.40,163.87 L531.60,162.75 L531.80,162.82 L532.00,164.39 L532.20,164.37 L532.40,163.81 L532.60,162.97 L532.80,161.97 L533.00,170.19 L533.20,162.71 L533.40,164.83 L533.60,165.05 L533.80,166.21 L534.00,164.80 L534.20,163.48 L534.40,163.23 L534.60,161.81 L534.80,163.47 L535.00,163.85 L535.20,164.88 L535.40,164.56 L535.60,164.54 L535.80,164.20 L536.00,164.60 L536.20,165.31 L536.40,163.04" stroke="#f0421f" stroke-width="0.8" fill="none"/>
<path d="M62.60,163.18 L63.10,163.57 L63.60,162.90 L64.10,164.28 L64.60,163.98 L65.10,165.17 L65.60,163.82 L66.10,163.64 L66.60,163.49 L67.10,164.37 L67.60,162.96 L68.10,164.31 L68.60,164.03 L69.10,163.60 L69.60,163.37 L70.10,164.48 L70.60,164.94 L71.10,163.63 L71.60,164.18 L72.10,164.87 L72.60,163.52 L73.10,163.73 L73.60,163.18 L74.10,163.79 L74.60,163.82 L75.10,163.63 L75.60,163.45 L76.10,162.97 L76.60,163.10 L77.10,163.31 L77.60,164.23 L78.10,163.57 L78.60,163.38 L79.10,164.24 L79.60,164.18 L80.10,163.43 L80.60,163.50 L81.10,164.23 L81.60,164.06 L82.10,163.38 L82.60,163.99 L83.10,163.84 L83.60,164.49 L84.10,163.35 L84.60,164.35 L85.10,164.09 L85.60,163.27 L86.10,164.45 L86.60,164.36 L87.10,163.09 L87.60,164.98 L88.10,163.19 L88.60,163.31 L89.10,163.65 L89.60,164.28 L90.10,164.17 L90.60,163.78 L91.10,164.62 L91.60,164.06 L92.10,164.63 L92.60,165.45 L93.10,163.94 L93.60,162.35 L94.10,163.57 L94.60,163.21 L95.10,163.88 L95.60,163.88 L96.10,163.12 L96.60,163.16 L97.10,163.67 L97.60,163.71 L98.10,162.32 L98.60,164.38 L99.10,163.83 L99.60,163.81 L100.10,163.98 L100.60,163.22 L101.10,163.78 L101.60,164.41 L102.10,164.43 L102.60,164.08 L103.10,163.64 L103.60,163.33 L104.10,164.57 L104.60,164.11 L105.10,163.56 L105.60,162.54 L106.10,163.29 L106.60,162.68 L107.10,164.52 L107.60,163.91 L108.10,163.36 L108.60,163.63 L109.10,165.31 L109.60,164.50 L110.10,163.01 L110.60,163.71 L111.10,163.07 L111.60,162.78 L112.10,163.89 L112.60,165.20 L113.10,164.70 L113.60,163.81 L114.10,163.56 L114.60,163.90 L115.10,164.39 L115.60,162.92 L116.10,162.68 L116.60,164.88 L117.10,163.94 L117.60,164.72 L118.10,163.91 L118.60,164.64 L119.10,163.41 L119.60,164.06 L120.10,164.68 L120.60,164.37 L121.10,163.49 L121.60,164.29 L122.10,163.37 L122.60,162.92 L123.10,164.07 L123.60,164.59 L124.10,164.26 L124.60,163.01 L125.10,164.27 L125.60,164.16 L126.10,163.48 L126.60,162.28 L127.10,164.35 L127.60,164.28 L128.10,164.05 L128.60,162.72 L129.10,162.86 L129.60,164.35 L130.10,164.22 L130.60,164.04 L131.10,163.60 L131.60,163.98 L132.10,163.42 L132.60,163.55 L133.10,163.22 L133.60,163.89 L134.10,163.49 L134.60,164.30 L135.10,164.16 L135.60,163.25 L136.10,164.83 L136.60,163.06 L137.10,164.00 L137.60,164.37 L138.10,164.49 L138.60,162.41 L139.10,164.32 L139.60,164.45 L140.10,164.58 L140.60,162.39 L141.10,163.32 L141.60,163.66 L142.10,163.45 L142.60,164.52 L143.10,163.31 L143.60,164.45 L144.10,164.05 L144.60,162.84 L145.10,163.12 L145.60,163.43 L146.10,163.77 L146.60,164.30 L147.10,163.60 L147.60,164.25 L148.10,162.76 L148.60,161.87 L149.10,163.50 L149.60,163.98 L150.10,163.48 L150.60,163.09 L151.10,163.95 L151.60,164.85 L152.10,163.62 L152.60,163.25 L153.10,163.17 L153.60,164.86 L154.10,163.65 L154.60,164.04 L155.10,164.40 L155.60,164.31 L156.10,163.11 L156.60,164.23 L157.10,164.16 L157.60,163.94 L158.10,164.25 L158.60,163.31 L159.10,163.59 L159.60,163.32 L160.10,164.09 L160.60,163.24 L161.10,163.86 L161.60,162.97 L162.10,163.55 L162.60,163.40 L163.10,163.54 L163.60,163.69 L164.10,163.50 L164.60,163.47 L165.10,162.36 L165.60,164.26 L166.10,163.22 L166.60,163.44 L167.10,163.09 L167.60,164.18 L168.10,163.04 L168.60,163.88 L169.10,164.28 L169.60,164.56 L170.10,164.28 L170.60,163.93 L171.10,162.84 L171.60,164.33 L172.10,164.27 L172.60,164.05 L173.10,164.03 L173.60,163.59 L174.10,163.23 L174.60,164.19 L175.10,164.30 L175.60,162.91 L176.10,164.08 L176.60,163.67 L177.10,164.05 L177.60,163.68 L178.10,164.18 L178.60,164.13 L179.10,164.04 L179.60,162.68 L180.10,164.00 L180.60,163.53 L181.10,162.83 L181.60,163.92 L182.10,162.68 L182.60,164.03 L183.10,164.50 L183.60,163.19 L184.10,164.03 L184.60,163.75 L185.10,163.86 L185.60,162.67 L186.10,163.83 L186.60,163.55 L187.10,163.91 L187.60,163.47 L188.10,164.11 L188.60,163.62 L189.10,163.86 L189.60,164.26 L190.10,163.56 L190.60,164.04 L191.10,163.58 L191.60,163.75 L192.10,163.12 L192.60,163.89 L193.10,164.16 L193.60,163.38 L194.10,163.89 L194.60,163.67 L195.10,162.76 L195.60,163.62 L196.10,164.19 L196.60,163.12 L197.10,162.35 L197.60,163.52 L198.10,163.02 L198.60,164.52 L199.10,163.37 L199.60,163.39 L200.10,163.01 L200.60,163.53 L201.10,163.05 L201.60,162.84 L202.10,163.34 L202.60,162.89 L203.10,164.14 L203.60,162.67 L204.10,163.32 L204.60,162.95 L205.10,162.54 L205.60,164.33 L206.10,162.11 L206.60,164.20 L207.10,162.51 L207.60,163.39 L208.10,164.67 L208.60,162.08 L209.10,162.52 L209.60,164.10 L210.10,163.42 L210.60,163.00 L211.10,163.29 L211.60,162.74 L212.10,163.38 L212.60,164.18 L213.10,163.08 L213.60,163.38 L214.10,164.00 L214.60,164.46 L215.10,162.94 L215.60,163.46 L216.10,162.95 L216.60,162.90 L217.10,163.04 L217.60,162.90 L218.10,162.25 L218.60,162.09 L219.10,162.83 L219.60,163.33 L220.10,163.97 L220.60,162.94 L221.10,163.15 L221.60,163.63 L222.10,163.68 L222.60,163.17 L223.10,163.20 L223.60,164.33 L224.10,163.03 L224.60,162.94 L225.10,162.26 L225.60,163.47 L226.10,163.06 L226.60,164.33 L227.10,163.01 L227.60,163.68 L228.10,163.75 L228.60,164.17 L229.10,162.42 L229.60,164.11 L230.10,163.20 L230.60,163.12 L231.10,163.00 L231.60,162.95 L232.10,162.97 L232.60,161.80 L233.10,163.47 L233.60,163.20 L234.10,162.60 L234.60,163.12 L235.10,164.50 L235.60,163.37 L236.10,162.92 L236.60,164.15 L237.10,162.67 L237.60,163.05 L238.10,162.81 L238.60,162.99 L239.10,163.56 L239.60,163.46 L240.10,162.69 L240.60,163.04 L241.10,163.16 L241.60,162.87 L242.10,163.08 L242.60,162.67 L243.10,162.66 L243.60,163.11 L244.10,162.48 L244.60,163.32 L245.10,162.96 L245.60,162.53 L246.10,162.70 L246.60,162.78 L247.10,162.96 L247.60,163.11 L248.10,162.92 L248.60,162.53 L249.10,163.87 L249.60,163.56 L250.10,163.09 L250.60,163.57 L251.10,163.20 L251.60,162.86 L252.10,163.05 L252.60,164.55 L253.10,163.57 L253.60,163.60 L254.10,162.75 L254.60,163.33 L255.10,164.29 L255.60,163.22 L256.10,163.59 L256.60,163.69 L257.10,163.33 L257.60,163.87 L258.10,163.08 L258.60,163.23 L259.10,162.57 L259.60,164.47 L260.10,163.10 L260.60,162.99 L261.10,163.81 L261.60,163.15 L262.10,163.87 L262.60,163.85 L263.10,164.75 L263.60,164.94 L264.10,165.83 L264.60,165.44 L265.10,165.16 L265.60,165.33 L266.10,165.43 L266.60,165.20 L267.10,166.04 L267.60,165.88 L268.10,165.57 L268.60,164.79 L269.10,165.78 L269.60,164.73 L270.10,165.58 L270.60,165.49 L271.10,165.12 L271.60,164.98 L272.10,165.05 L272.60,166.64 L273.10,165.29 L273.60,165.32 L274.10,165.99 L274.60,165.68 L275.10,166.04 L275.60,164.72 L276.10,164.79 L276.60,167.35 L277.10,165.39 L277.60,165.24 L278.10,165.50 L278.60,165.98 L279.10,164.71 L279.60,165.56 L280.10,165.38 L280.60,165.78 L281.10,165.48 L281.60,165.07 L282.10,164.88 L282.60,163.96 L283.10,165.94 L283.60,164.52 L284.10,165.13 L284.60,166.32 L285.10,165.11 L285.60,165.70 L286.10,165.22 L286.60,165.75 L287.10,165.36 L287.60,165.04 L288.10,166.11 L288.60,165.17 L289.10,164.55 L289.60,165.13 L290.10,165.62 L290.60,164.63 L291.10,165.69 L291.60,165.65 L292.10,166.39 L292.60,164.76 L293.10,165.48 L293.60,164.10 L294.10,164.79 L294.60,165.05 L295.10,165.19 L295.60,164.89 L296.10,164.84 L296.60,164.50 L297.10,164.56 L297.60,164.96 L298.10,165.07 L298.60,165.08 L299.10,165.25 L299.60,165.33 L300.10,163.58 L300.60,164.30 L301.10,164.50 L301.60,164.22 L302.10,165.18 L302.60,165.00 L303.10,164.50 L303.60,164.62 L304.10,165.27 L304.60,164.34 L305.10,164.35 L305.60,165.04 L306.10,164.78 L306.60,165.32 L307.10,164.71 L307.60,164.92 L308.10,164.16 L308.60,163.93 L309.10,164.45 L309.60,162.92 L310.10,164.68 L310.60,164.99 L311.10,164.47 L311.60,164.29 L312.10,165.03 L312.60,164.38 L313.10,164.95 L313.60,165.64 L314.10,164.79 L314.60,164.90 L315.10,164.64 L315.60,164.49 L316.10,164.50 L316.60,164.37 L317.10,164.95 L317.60,163.39 L318.10,164.15 L318.60,164.67 L319.10,163.80 L319.60,164.22 L320.10,163.87 L320.60,164.52 L321.10,164.75 L321.60,165.08 L322.10,164.53 L322.60,163.82 L323.10,164.36 L323.60,164.54 L324.10,165.01 L324.60,162.96 L325.10,164.40 L325.60,163.13 L326.10,164.58 L326.60,164.42 L327.10,164.44 L327.60,164.65 L328.10,164.36 L328.60,163.75 L329.10,164.32 L329.60,164.80 L330.10,164.03 L330.60,164.11 L331.10,163.39 L331.60,164.74 L332.10,163.78 L332.60,163.63 L333.10,163.79 L333.60,163.55 L334.10,163.89 L334.60,164.75 L335.10,164.47 L335.60,164.83 L336.10,164.86 L336.60,163.48 L337.10,164.27 L337.60,164.85 L338.10,165.30 L338.60,163.16 L339.10,163.15 L339.60,164.23 L340.10,163.77 L340.60,163.38 L341.10,164.16 L341.60,163.49 L342.10,162.63 L342.60,163.91 L343.10,163.99 L343.60,164.28 L344.10,164.45 L344.60,164.01 L345.10,163.76 L345.60,163.51 L346.10,162.94 L346.60,163.63 L347.10,164.45 L347.60,164.24 L348.10,165.04 L348.60,163.77 L349.10,162.83 L349.60,164.32 L350.10,164.43 L350.60,163.17 L351.10,162.90 L351.60,163.91 L352.10,164.23 L352.60,163.17 L353.10,163.61 L353.60,163.36 L354.10,163.12 L354.60,163.03 L355.10,163.86 L355.60,163.56 L356.10,163.39 L356.60,162.27 L357.10,164.76 L357.60,163.21 L358.10,163.67 L358.60,163.09 L359.10,163.95 L359.60,162.86 L360.10,163.78 L360.60,163.61 L361.10,164.24 L361.60,163.08 L362.10,163.33 L362.60,163.56 L363.10,164.89 L363.60,162.84 L364.10,163.84 L364.60,163.29 L365.10,163.84 L365.60,164.03 L366.10,163.73 L366.60,163.80 L367.10,163.80 L367.60,163.30 L368.10,163.51 L368.60,162.67 L369.10,163.41 L369.60,163.17 L370.10,163.46 L370.60,164.02 L371.10,163.81 L371.60,163.85 L372.10,164.21 L372.60,162.20 L373.10,163.81 L373.60,163.54 L374.10,163.49 L374.60,162.79 L375.10,163.85 L375.60,164.18 L376.10,164.11 L376.60,163.46 L377.10,163.87 L377.60,164.03 L378.10,164.53 L378.60,164.19 L379.10,163.56 L379.60,163.52 L380.10,163.56 L380.60,163.59 L381.10,163.16 L381.60,163.88 L382.10,163.04 L382.60,162.97 L383.10,163.62 L383.60,163.08 L384.10,163.27 L384.60,162.21 L385.10,163.85 L385.60,163.38 L386.10,163.30 L386.60,163.63 L387.10,163.48 L387.60,162.96 L388.10,164.50 L388.60,163.08 L389.10,163.89 L389.60,164.38 L390.10,162.97 L390.60,163.37 L391.10,162.84 L391.60,163.90 L392.10,163.10 L392.60,162.66 L393.10,164.03 L393.60,163.80 L394.10,162.76 L394.60,163.93 L395.10,163.36 L395.60,164.80 L396.10,164.22 L396.60,162.91 L397.10,163.07 L397.60,162.71 L398.10,163.28 L398.60,163.23 L399.10,163.62 L399.60,163.24 L400.10,162.34 L400.60,162.71 L401.10,163.98 L401.60,163.82 L402.10,163.06 L402.60,163.07 L403.10,163.04 L403.60,163.14 L404.10,162.16 L404.60,163.63 L405.10,162.73 L405.60,163.19 L406.10,161.65 L406.60,163.22 L407.10,163.85 L407.60,161.79 L408.10,163.94 L408.60,163.33 L409.10,162.63 L409.60,162.14 L410.10,163.70 L410.60,163.18 L411.10,163.36 L411.60,162.86 L412.10,162.55 L412.60,163.50 L413.10,162.45 L413.60,163.51 L414.10,162.03 L414.60,162.45 L415.10,162.14 L415.60,163.71 L416.10,161.95 L416.60,162.29 L417.10,163.32 L417.60,163.06 L418.10,164.18 L418.60,163.98 L419.10,163.27 L419.60,163.30 L420.10,161.85 L420.60,162.38 L421.10,162.68 L421.60,162.76 L422.10,162.05 L422.60,162.30 L423.10,162.33 L423.60,163.41 L424.10,163.03 L424.60,162.59 L425.10,162.61 L425.60,162.92 L426.10,162.34 L426.60,162.57 L427.10,161.72 L427.60,163.08 L428.10,163.24 L428.60,162.88 L429.10,162.93 L429.60,162.85 L430.10,163.80 L430.60,162.73 L431.10,161.84 L431.60,161.99 L432.10,162.99 L432.60,163.18 L433.10,162.99 L433.60,163.02 L434.10,162.63 L434.60,161.66 L435.10,162.09 L435.60,161.44 L436.10,162.25 L436.60,161.67 L437.10,162.50 L437.60,162.33 L438.10,161.30 L438.60,162.82 L439.10,162.83 L439.60,161.58 L440.10,162.44 L440.60,162.76 L441.10,162.17 L441.60,162.81 L442.10,162.42 L442.60,162.91 L443.10,162.39 L443.60,162.17 L444.10,162.55 L444.60,162.69 L445.10,162.37 L445.60,161.95 L446.10,161.74 L446.60,161.97 L447.10,161.84 L447.60,162.28 L448.10,162.24 L448.60,162.08 L449.10,162.12 L449.60,162.20 L450.10,163.00 L450.60,162.78 L451.10,161.75 L451.60,162.33 L452.10,161.89 L452.60,162.02 L453.10,161.94 L453.60,161.71 L454.10,161.29 L454.60,160.65 L455.10,162.18 L455.60,162.75 L456.10,161.54 L456.60,162.35 L457.10,161.83 L457.60,162.22 L458.10,161.59 L458.60,161.92 L459.10,161.98 L459.60,160.67 L460.10,162.17 L460.60,161.96 L461.10,160.60 L461.60,162.41 L462.10,162.01 L462.60,162.15 L463.10,162.24 L463.60,161.78 L464.10,161.40 L464.60,161.76 L465.10,161.77 L465.60,163.30 L466.10,163.08 L466.60,161.73 L467.10,161.77 L467.60,162.19 L468.10,162.33 L468.60,161.60 L469.10,161.42 L469.60,163.12 L470.10,162.61 L470.60,161.09 L471.10,160.96 L471.60,161.51 L472.10,162.11 L472.60,162.30 L473.10,161.78 L473.60,161.04 L474.10,162.10 L474.60,162.32 L475.10,161.97 L475.60,161.68 L476.10,162.30 L476.60,161.93 L477.10,161.31 L477.60,162.01 L478.10,161.20 L478.60,162.51 L479.10,162.22 L479.60,161.37 L480.10,162.07 L480.60,162.67 L481.10,160.69 L481.60,161.86 L482.10,162.90 L482.60,161.03 L483.10,161.83 L483.60,161.10 L484.10,161.89 L484.60,160.52 L485.10,160.97 L485.60,161.60 L486.10,162.00 L486.60,162.13 L487.10,162.16 L487.60,162.58 L488.10,162.32 L488.60,162.34 L489.10,161.33 L489.60,161.81 L490.10,163.76 L490.60,163.22 L491.10,162.38 L491.60,162.32 L492.10,162.47 L492.60,161.65 L493.10,163.03 L493.60,161.66 L494.10,161.83 L494.60,163.16 L495.10,160.65 L495.60,162.09 L496.10,160.86 L496.60,161.48 L497.10,161.81 L497.60,161.66 L498.10,161.96 L498.60,161.41 L499.10,161.80 L499.60,161.15 L500.10,161.62 L500.60,161.03 L501.10,162.23 L501.60,161.08 L502.10,162.25 L502.60,161.60 L503.10,161.66 L503.60,162.53 L504.10,161.90 L504.60,160.71 L505.10,162.12 L505.60,160.11 L506.10,161.98 L506.60,161.58 L507.10,160.99 L507.60,161.86 L508.10,161.63 L508.60,163.00 L509.10,161.55 L509.60,162.96 L510.10,162.63 L510.60,161.44 L511.10,161.32 L511.60,162.58 L512.10,161.72 L512.60,161.89 L513.10,161.64 L513.60,161.07 L514.10,161.57 L514.60,161.21 L515.10,160.87 L515.60,161.61 L516.10,162.84 L516.60,162.74 L517.10,161.74 L517.60,161.85 L518.10,162.07 L518.60,162.58 L519.10,161.95 L519.60,161.48 L520.10,161.53 L520.60,162.43 L521.10,163.31 L521.60,161.38 L522.10,160.53 L522.60,162.23 L523.10,161.70 L523.60,161.83 L524.10,162.48 L524.60,161.78 L525.10,160.95 L525.60,160.56 L526.10,161.70 L526.60,161.04 L527.10,161.90 L527.60,160.96 L528.10,161.51 L528.60,160.84 L529.10,161.50 L529.60,161.45 L530.10,162.07 L530.60,162.51 L531.10,161.60 L531.60,161.19 L532.10,162.87 L532.60,161.92 L533.10,162.07 L533.60,162.06 L534.10,162.57 L534.60,162.30 L535.10,162.10 L535.60,162.15 L536.10,161.17" stroke="#555" stroke-width="0.45" fill="none" opacity="0.55"/>
<path d="M71.00,166.18 L71.23,154.79 L71.32,191.64 L71.41,151.00 L71.50,196.41 L71.59,152.21 L71.68,198.00 L71.77,155.55 L71.86,188.45 L72.05,166.18 M76.50,166.17 L76.73,161.54 L76.82,177.23 L76.91,160.00 L77.00,179.31 L77.09,160.49 L77.18,180.00 L77.27,161.85 L77.36,175.85 L77.55,166.17 M86.50,166.14 L86.73,163.79 L86.82,174.83 L86.91,163.00 L87.00,176.46 L87.09,163.25 L87.18,177.00 L87.27,163.94 L87.36,173.74 L87.55,166.14 M92.10,166.13 L92.33,163.03 L92.42,172.83 L92.51,162.00 L92.60,174.08 L92.69,162.33 L92.78,174.50 L92.87,163.24 L92.96,171.99 L93.15,166.13 M102.50,166.11 L102.73,161.53 L102.82,176.42 L102.91,160.00 L103.00,178.36 L103.09,160.49 L103.18,179.00 L103.27,161.83 L103.36,175.13 L103.55,166.11 M108.00,166.09 L108.23,160.02 L108.32,180.42 L108.41,158.00 L108.50,183.10 L108.59,158.65 L108.68,184.00 L108.77,160.43 L108.86,178.63 L109.05,166.09 M112.30,166.08 L112.53,154.02 L112.62,192.42 L112.71,150.00 L112.80,197.35 L112.89,151.29 L112.98,199.00 L113.07,154.83 L113.16,189.13 L113.35,166.08 M127.80,166.05 L128.03,159.26 L128.12,182.81 L128.21,157.00 L128.30,185.95 L128.39,157.72 L128.48,187.00 L128.57,159.71 L128.66,180.71 L128.85,166.05 M132.60,166.04 L132.83,151.76 L132.92,203.61 L133.01,147.00 L133.10,210.65 L133.19,148.52 L133.28,213.00 L133.37,152.71 L133.46,198.91 L133.65,166.04 M137.90,166.03 L138.13,154.76 L138.22,195.61 L138.31,151.00 L138.40,201.15 L138.49,152.20 L138.58,203.00 L138.67,155.51 L138.76,191.91 L138.95,166.03 M154.30,165.97 L154.53,153.62 L154.62,192.39 L154.71,149.50 L154.80,197.35 L154.89,150.82 L154.98,199.00 L155.07,154.44 L155.16,189.09 L155.35,165.97 M156.00,165.96 L156.23,157.51 L156.32,181.19 L156.41,154.70 L156.50,184.05 L156.59,155.60 L156.68,185.00 L156.77,158.08 L156.86,179.29 L157.05,165.96 M159.50,165.93 L159.73,163.73 L159.82,175.35 L159.91,163.00 L160.00,177.11 L160.09,163.23 L160.18,177.70 L160.27,163.88 L160.36,174.17 L160.55,165.93 M167.80,165.88 L168.03,158.09 L168.12,182.78 L168.21,155.50 L168.30,185.94 L168.39,156.33 L168.48,187.00 L168.57,158.61 L168.66,180.66 L168.85,165.88 M180.70,165.79 L180.93,151.70 L181.02,196.04 L181.11,147.00 L181.20,201.71 L181.29,148.50 L181.38,203.60 L181.47,152.64 L181.56,192.26 L181.75,165.79 M182.50,165.78 L182.73,156.19 L182.82,181.16 L182.91,153.00 L183.00,184.04 L183.09,154.02 L183.18,185.00 L183.27,156.83 L183.36,179.23 L183.55,165.78 M184.30,165.77 L184.53,157.69 L184.62,179.55 L184.71,155.00 L184.80,182.14 L184.89,155.86 L184.98,183.00 L185.07,158.23 L185.16,177.83 L185.35,165.77 M188.00,165.74 L188.23,156.79 L188.32,197.55 L188.41,153.80 L188.50,203.51 L188.59,154.76 L188.68,205.50 L188.77,157.38 L188.86,193.57 L189.05,165.74 M192.80,165.71 L193.03,163.68 L193.12,171.54 L193.21,163.00 L193.30,172.64 L193.39,163.22 L193.48,173.00 L193.57,163.81 L193.66,170.81 L193.85,165.71 M196.70,165.69 L196.93,152.27 L197.02,191.54 L197.11,147.80 L197.20,196.38 L197.29,149.23 L197.38,198.00 L197.47,153.17 L197.56,188.31 L197.75,165.69 M199.10,165.67 L199.33,153.54 L199.42,188.57 L199.51,149.50 L199.60,192.87 L199.69,150.79 L199.78,194.30 L199.87,154.35 L199.96,185.71 L200.15,165.67 M206.50,165.62 L206.73,163.66 L206.82,173.12 L206.91,163.00 L207.00,174.53 L207.09,163.21 L207.18,175.00 L207.27,163.79 L207.36,172.19 L207.55,165.62 M209.50,165.60 L209.73,150.38 L209.82,192.32 L209.91,145.30 L210.00,197.33 L210.09,146.92 L210.18,199.00 L210.27,151.39 L210.36,188.98 L210.55,165.60 M211.50,165.59 L211.73,157.65 L211.82,181.12 L211.91,155.00 L212.00,184.03 L212.09,155.85 L212.18,185.00 L212.27,158.18 L212.36,179.18 L212.55,165.59 M215.90,165.56 L216.13,158.69 L216.22,177.11 L216.31,156.40 L216.40,179.28 L216.49,157.13 L216.58,180.00 L216.67,159.15 L216.76,175.67 L216.95,165.56 M217.50,165.55 L217.73,163.64 L217.82,177.91 L217.91,163.00 L218.00,180.23 L218.09,163.20 L218.18,181.00 L218.27,163.76 L218.36,176.36 L218.55,165.55 M225.00,165.50 L225.23,150.87 L225.32,200.46 L225.41,146.00 L225.50,207.01 L225.59,147.56 L225.68,209.20 L225.77,151.85 L225.86,196.09 L226.05,165.50 M227.80,165.48 L228.03,150.87 L228.12,200.46 L228.21,146.00 L228.30,207.01 L228.39,147.56 L228.48,209.20 L228.57,151.84 L228.66,196.08 L228.85,165.48 M245.10,165.35 L245.33,150.31 L245.42,197.47 L245.51,145.30 L245.60,203.49 L245.69,146.90 L245.78,205.50 L245.87,151.31 L245.96,193.45 L246.15,165.35 M246.80,165.33 L247.03,151.58 L247.12,197.07 L247.21,147.00 L247.30,203.02 L247.39,148.47 L247.48,205.00 L247.57,152.50 L247.66,193.10 L247.85,165.33 M250.60,165.29 L250.83,159.22 L250.92,177.06 L251.01,157.20 L251.10,179.26 L251.19,157.85 L251.28,180.00 L251.37,159.63 L251.46,175.59 L251.65,165.29 M254.90,165.25 L255.13,161.31 L255.22,173.05 L255.31,160.00 L255.40,174.51 L255.49,160.42 L255.58,175.00 L255.67,161.58 L255.76,172.08 L255.95,165.25 M262.00,166.50 L262.23,149.55 L262.32,214.10 L262.41,143.90 L262.50,223.03 L262.59,145.71 L262.68,226.00 L262.77,150.68 L262.86,208.15 L263.05,166.50 M263.00,167.37 L263.23,158.09 L263.32,193.47 L263.41,155.00 L263.50,198.37 L263.59,155.99 L263.68,200.00 L263.77,158.71 L263.86,190.21 L264.05,167.37 M270.00,167.75 L270.23,165.69 L270.32,175.95 L270.41,165.00 L270.50,177.49 L270.59,165.22 L270.68,178.00 L270.77,165.82 L270.86,174.93 L271.05,167.75 M275.20,167.71 L275.43,155.93 L275.52,200.18 L275.61,152.00 L275.70,206.27 L275.79,153.26 L275.88,208.30 L275.97,156.71 L276.06,196.12 L276.25,167.71 M279.50,167.68 L279.73,165.67 L279.82,175.14 L279.91,165.00 L280.00,176.53 L280.09,165.21 L280.18,177.00 L280.27,165.80 L280.36,174.20 L280.55,167.68 M288.70,167.61 L288.93,157.25 L289.02,195.68 L289.11,153.80 L289.20,200.95 L289.29,154.90 L289.38,202.70 L289.47,157.94 L289.56,192.17 L289.75,167.61 M289.70,167.59 L289.93,155.90 L290.02,189.52 L290.11,152.00 L290.20,193.63 L290.29,153.25 L290.38,195.00 L290.47,156.68 L290.56,186.78 L290.75,167.59 M296.50,167.11 L296.73,159.08 L296.82,189.42 L296.91,156.40 L297.00,193.61 L297.09,157.26 L297.18,195.00 L297.27,159.61 L297.36,186.63 L297.55,167.11 M298.70,166.96 L298.93,158.36 L299.02,190.99 L299.11,155.50 L299.20,195.50 L299.29,156.42 L299.38,197.00 L299.47,158.94 L299.56,187.99 L299.75,166.96 M302.80,166.84 L303.03,153.84 L303.12,197.77 L303.21,149.50 L303.30,203.57 L303.39,150.89 L303.48,205.50 L303.57,154.70 L303.66,193.90 L303.85,166.84 M304.10,166.82 L304.33,155.71 L304.42,189.36 L304.51,152.00 L304.60,193.59 L304.69,153.19 L304.78,195.00 L304.87,156.45 L304.96,186.55 L305.15,166.82 M315.50,166.63 L315.73,158.96 L315.82,183.57 L315.91,156.40 L316.00,186.74 L316.09,157.22 L316.18,187.80 L316.27,159.47 L316.36,181.45 L316.55,166.63 M322.70,166.50 L322.93,160.13 L323.02,181.30 L323.11,158.00 L323.20,184.08 L323.29,158.68 L323.38,185.00 L323.47,160.55 L323.56,179.45 L323.75,166.50 M327.20,166.43 L327.43,155.61 L327.52,190.25 L327.61,152.00 L327.70,194.71 L327.79,153.15 L327.88,196.20 L327.97,156.33 L328.06,187.27 L328.25,166.43 M334.90,166.30 L335.13,163.07 L335.22,175.66 L335.31,162.00 L335.40,177.41 L335.49,162.34 L335.58,178.00 L335.67,163.29 L335.76,174.49 L335.95,166.30 M343.30,166.20 L343.53,153.67 L343.62,196.12 L343.71,149.50 L343.80,201.73 L343.89,150.84 L343.98,203.60 L344.07,154.51 L344.16,192.38 L344.35,166.20 M347.70,166.15 L347.93,161.39 L348.02,177.23 L348.11,159.80 L348.20,179.31 L348.29,160.31 L348.38,180.00 L348.47,161.70 L348.56,175.84 L348.75,166.15 M355.20,166.06 L355.43,152.37 L355.52,192.41 L355.61,147.80 L355.70,197.35 L355.79,149.26 L355.88,199.00 L355.97,153.28 L356.06,189.12 L356.25,166.06 M367.60,165.92 L367.83,156.23 L367.92,191.90 L368.01,153.00 L368.10,196.78 L368.19,154.03 L368.28,198.40 L368.37,156.88 L368.46,188.66 L368.65,165.92 M384.50,165.69 L384.73,151.67 L384.82,200.50 L384.91,147.00 L385.00,207.02 L385.09,148.50 L385.18,209.20 L385.27,152.61 L385.36,196.15 L385.55,165.69 M393.00,165.57 L393.23,162.89 L393.32,175.51 L393.41,162.00 L393.50,177.38 L393.59,162.29 L393.68,178.00 L393.77,163.07 L393.86,174.27 L394.05,165.57 M404.60,165.41 L404.83,151.60 L404.92,198.20 L405.01,147.00 L405.10,204.35 L405.19,148.47 L405.28,206.40 L405.37,152.52 L405.46,194.10 L405.65,165.41 M406.90,165.38 L407.13,155.34 L407.22,182.68 L407.31,152.00 L407.40,185.92 L407.49,153.07 L407.58,187.00 L407.67,156.01 L407.76,180.51 L407.95,165.38 M413.00,165.29 L413.23,160.57 L413.32,182.66 L413.41,159.00 L413.50,185.91 L413.59,159.50 L413.68,187.00 L413.77,160.89 L413.86,180.49 L414.05,165.29 M419.20,165.20 L419.43,152.15 L419.52,198.16 L419.61,147.80 L419.70,204.34 L419.79,149.19 L419.88,206.40 L419.97,153.02 L420.06,194.04 L420.25,165.20 M420.80,165.17 L421.03,152.82 L421.12,193.03 L421.21,148.70 L421.30,198.26 L421.39,150.02 L421.48,200.00 L421.57,153.64 L421.66,189.55 L421.85,165.17 M423.00,165.11 L423.23,154.08 L423.32,185.02 L423.41,150.40 L423.50,188.76 L423.59,151.58 L423.68,190.00 L423.77,154.81 L423.86,182.53 L424.05,165.11 M429.70,164.93 L429.93,157.86 L430.02,187.71 L430.11,155.50 L430.20,191.98 L430.29,156.25 L430.38,193.40 L430.47,158.33 L430.56,184.86 L430.75,164.93 M432.70,164.85 L432.93,157.24 L433.02,181.29 L433.11,154.70 L433.20,184.37 L433.29,155.51 L433.38,185.40 L433.47,157.74 L433.56,179.23 L433.75,164.85 M435.50,164.77 L435.73,159.69 L435.82,184.95 L435.91,158.00 L436.00,188.74 L436.09,158.54 L436.18,190.00 L436.27,160.03 L436.36,182.43 L436.55,164.77 M441.80,164.61 L442.03,159.65 L442.12,175.32 L442.21,158.00 L442.30,177.33 L442.39,158.53 L442.48,178.00 L442.57,159.98 L442.66,173.98 L442.85,164.61 M454.70,164.38 L454.93,151.34 L455.02,186.80 L455.11,147.00 L455.20,191.00 L455.29,148.39 L455.38,192.40 L455.47,152.21 L455.56,183.99 L455.75,164.38 M456.60,164.37 L456.83,157.34 L456.92,180.87 L457.01,155.00 L457.10,183.97 L457.19,155.75 L457.28,185.00 L457.37,157.81 L457.46,178.81 L457.65,164.37 M459.00,164.36 L459.23,157.71 L459.32,184.87 L459.41,155.50 L459.50,188.72 L459.59,156.21 L459.68,190.00 L459.77,158.16 L459.86,182.31 L460.05,164.36 M466.00,164.32 L466.23,151.03 L466.32,197.26 L466.41,146.60 L466.50,203.44 L466.59,148.02 L466.68,205.50 L466.77,151.92 L466.86,193.15 L467.05,164.32 M477.10,164.27 L477.33,149.74 L477.42,194.29 L477.51,144.90 L477.60,199.92 L477.69,146.45 L477.78,201.80 L477.87,150.71 L477.96,190.54 L478.15,164.27 M484.00,164.24 L484.23,161.06 L484.32,175.01 L484.41,160.00 L484.50,177.03 L484.59,160.34 L484.68,177.70 L484.77,161.27 L484.86,173.66 L485.05,164.24 M483.30,164.24 L483.53,163.31 L483.62,175.01 L483.71,163.00 L483.80,177.03 L483.89,163.10 L483.98,177.70 L484.07,163.37 L484.16,173.66 L484.35,164.24 M490.10,164.21 L490.33,160.90 L490.42,177.64 L490.51,159.80 L490.60,180.16 L490.69,160.15 L490.78,181.00 L490.87,161.12 L490.96,175.96 L491.15,164.21 M492.80,164.20 L493.03,159.55 L493.12,177.64 L493.21,158.00 L493.30,180.16 L493.39,158.50 L493.48,181.00 L493.57,159.86 L493.66,175.96 L493.85,164.20 M495.50,164.19 L495.73,154.45 L495.82,194.28 L495.91,151.20 L496.00,199.92 L496.09,152.24 L496.18,201.80 L496.27,155.10 L496.36,190.52 L496.55,164.19 M500.40,164.17 L500.63,158.34 L500.72,177.63 L500.81,156.40 L500.90,180.16 L500.99,157.02 L501.08,181.00 L501.17,158.73 L501.26,175.95 L501.45,164.17 M506.00,164.14 L506.23,152.79 L506.32,197.23 L506.41,149.00 L506.50,203.43 L506.59,150.21 L506.68,205.50 L506.77,153.54 L506.86,193.09 L507.05,164.14 M510.50,164.12 L510.73,154.43 L510.82,184.82 L510.91,151.20 L511.00,188.71 L511.09,152.23 L511.18,190.00 L511.27,155.08 L511.36,182.24 L511.55,164.12 M514.20,164.10 L514.43,158.03 L514.52,177.62 L514.61,156.00 L514.70,180.16 L514.79,156.65 L514.88,181.00 L514.97,158.43 L515.06,175.93 L515.25,164.10 M521.60,164.07 L521.83,155.02 L521.92,197.93 L522.01,152.00 L522.10,204.28 L522.19,152.97 L522.28,206.40 L522.37,155.62 L522.46,193.70 L522.65,164.07 M524.10,164.06 L524.33,150.59 L524.42,198.65 L524.51,146.10 L524.60,205.14 L524.69,147.54 L524.78,207.30 L524.87,151.49 L524.96,194.33 L525.15,164.06" stroke="#e24a4a" stroke-width="0.55" fill="none"/>
<rect x="141.2" y="144.1" width="8.4" height="51.8" fill="#e8f2dc" fill-opacity="0.75" stroke="#777" stroke-width="0.6" stroke-dasharray="1.5 1"/>
<path d="M145.2,130.9 L154.2,137.4 L149.9,137.4 L149.9,141.8 L141.1,141.8 L141.1,137.4 L136.2,137.4 Z" fill="#3a70c8"/>
<path d="M55.0,247.80 H62.0 M55.0,218.64 H62.0 M55.0,189.47 H62.0 M55.0,160.31 H62.0 M55.0,131.15 H62.0 M55.0,101.99 H62.0 M55.0,72.83 H62.0 M55.0,43.66 H62.0 M55.0,14.50 H62.0 M62.00,247.8 V254.8 M141.17,247.8 V254.8 M220.33,247.8 V254.8 M299.50,247.8 V254.8 M378.67,247.8 V254.8 M457.83,247.8 V254.8 M537.00,247.8 V254.8 M101.58,247.8 V251.3 M180.75,247.8 V251.3 M259.92,247.8 V251.3 M339.08,247.8 V251.3 M418.25,247.8 V251.3 M497.42,247.8 V251.3" stroke="#111" stroke-width="1.6" fill="none"/>
<rect x="62.0" y="14.5" width="475.0" height="233.3" fill="none" stroke="#111" stroke-width="1.7"/>
<text x="49.8" y="252.20" font-family="Liberation Serif, serif" stroke="#111" stroke-width="0.22" font-size="13.4" text-anchor="end" fill="#111">−100</text>
<text x="49.8" y="223.04" font-family="Liberation Serif, serif" stroke="#111" stroke-width="0.22" font-size="13.4" text-anchor="end" fill="#111">−50</text>
<text x="49.8" y="193.88" font-family="Liberation Serif, serif" stroke="#111" stroke-width="0.22" font-size="13.4" text-anchor="end" fill="#111">0</text>
<text x="49.8" y="164.71" font-family="Liberation Serif, serif" stroke="#111" stroke-width="0.22" font-size="13.4" text-anchor="end" fill="#111">50</text>
<text x="49.8" y="135.55" font-family="Liberation Serif, serif" stroke="#111" stroke-width="0.22" font-size="13.4" text-anchor="end" fill="#111">100</text>
<text x="49.8" y="106.39" font-family="Liberation Serif, serif" stroke="#111" stroke-width="0.22" font-size="13.4" text-anchor="end" fill="#111">150</text>
<text x="49.8" y="77.23" font-family="Liberation Serif, serif" stroke="#111" stroke-width="0.22" font-size="13.4" text-anchor="end" fill="#111">200</text>
<text x="49.8" y="48.06" font-family="Liberation Serif, serif" stroke="#111" stroke-width="0.22" font-size="13.4" text-anchor="end" fill="#111">250</text>
<text x="49.8" y="18.90" font-family="Liberation Serif, serif" stroke="#111" stroke-width="0.22" font-size="13.4" text-anchor="end" fill="#111">300</text>
<text x="62.00" y="271.2" font-family="Liberation Serif, serif" stroke="#111" stroke-width="0.22" font-size="13.4" text-anchor="middle" fill="#111">0.0</text>
<text x="141.17" y="271.2" font-family="Liberation Serif, serif" stroke="#111" stroke-width="0.22" font-size="13.4" text-anchor="middle" fill="#111">0.8</text>
<text x="220.33" y="271.2" font-family="Liberation Serif, serif" stroke="#111" stroke-width="0.22" font-size="13.4" text-anchor="middle" fill="#111">1.6</text>
<text x="299.50" y="271.2" font-family="Liberation Serif, serif" stroke="#111" stroke-width="0.22" font-size="13.4" text-anchor="middle" fill="#111">2.4</text>
<text x="378.67" y="271.2" font-family="Liberation Serif, serif" stroke="#111" stroke-width="0.22" font-size="13.4" text-anchor="middle" fill="#111">3.2</text>
<text x="457.83" y="271.2" font-family="Liberation Serif, serif" stroke="#111" stroke-width="0.22" font-size="13.4" text-anchor="middle" fill="#111">4.0</text>
<text x="537.00" y="271.2" font-family="Liberation Serif, serif" stroke="#111" stroke-width="0.22" font-size="13.4" text-anchor="middle" fill="#111">4.8</text>
<text x="299.5" y="295" font-family="Liberation Serif, serif" stroke="#111" stroke-width="0.22" font-size="13.4" text-anchor="middle" fill="#111">Time(h)</text>
<text x="276.3" y="316.5" font-family="Liberation Serif, serif" stroke="#111" stroke-width="0.22" font-size="12.5" font-weight="bold" text-anchor="middle" fill="#111">(c)</text>
<text transform="translate(15.95,130.6) rotate(-90)" font-family="Liberation Serif, serif" stroke="#111" stroke-width="0.22" font-size="13.4" text-anchor="middle" fill="#111">Deflection(mm)</text>
<rect x="337.5" y="27" width="188" height="56" fill="#fff"/>
<path d="M340,36.7 H369.6" stroke="#3a3a3a" stroke-width="1.3"/>
<path d="M340,54 H369.6" stroke="#f26670" stroke-width="1.5"/>
<rect x="340" y="63.2" width="29.6" height="14.3" fill="#f7cfae" stroke="#e8b08a" stroke-width="0.6" stroke-dasharray="1 1"/>
<text x="373.6" y="41.9" font-family="Liberation Serif, serif" stroke="#111" stroke-width="0.22" font-size="13.35" fill="#111">Monitored deflection</text>
<text x="373.6" y="58.5" font-family="Liberation Serif, serif" stroke="#111" stroke-width="0.22" font-size="13.35" fill="#111">CNN-LSTM-GD prediction</text>
<text x="373.6" y="75.3" font-family="Liberation Serif, serif" stroke="#111" stroke-width="0.22" font-size="13.35" fill="#111">95% confidence interval</text>
<rect x="108.3" y="24.8" width="177.0" height="88.8" fill="#e0eecd"/>
<path d="M143.70,24.8 V113.6 M179.10,24.8 V113.6 M214.50,24.8 V113.6 M249.90,24.8 V113.6 M108.3,42.56 H285.3 M108.3,60.32 H285.3 M108.3,78.08 H285.3 M108.3,95.84 H285.3" stroke="#d8eac4" stroke-width="0.8" fill="none"/>
<path d="M108.30,57.02 L108.80,56.66 L109.30,56.84 L109.80,56.68 L110.30,55.83 L110.80,56.61 L111.30,55.64 L111.80,56.43 L112.30,55.51 L112.80,55.29 L113.30,55.81 L113.80,55.90 L114.30,56.00 L114.80,55.82 L115.30,55.15 L115.80,55.54 L116.30,53.98 L116.80,54.02 L117.30,53.40 L117.80,54.18 L118.30,54.48 L118.80,53.59 L119.30,54.45 L119.80,54.00 L120.30,54.43 L120.80,54.85 L121.30,55.13 L121.80,54.97 L122.30,54.39 L122.80,53.84 L123.30,52.60 L123.80,49.67 L124.30,48.50 L124.80,46.04 L125.30,43.95 L125.80,42.74 L126.30,44.02 L126.80,45.42 L127.30,49.10 L127.80,53.31 L128.30,57.10 L128.80,60.61 L129.30,64.22 L129.80,67.28 L130.30,70.86 L130.80,73.77 L131.30,75.34 L131.80,74.88 L132.30,71.96 L132.80,68.72 L133.30,65.63 L133.80,62.36 L134.30,59.38 L134.80,56.52 L135.30,54.15 L135.80,51.55 L136.30,49.68 L136.80,48.67 L137.30,48.08 L137.80,48.18 L138.30,48.25 L138.80,49.48 L139.30,50.65 L139.80,50.89 L140.30,50.75 L140.80,51.17 L141.30,53.40 L141.80,54.31 L142.30,55.29 L142.80,55.84 L143.30,55.04 L143.80,55.41 L144.30,56.35 L144.80,56.38 L145.30,56.54 L145.80,57.17 L146.30,56.42 L146.80,56.91 L147.30,56.57 L147.80,56.60 L148.30,56.18 L148.80,55.98 L149.30,56.35 L149.80,55.99 L150.30,56.43 L150.80,56.52 L151.30,56.89 L151.80,55.70 L152.30,56.17 L152.80,56.39 L153.30,55.79 L153.80,55.59 L154.30,55.87 L154.80,54.81 L155.30,53.37 L155.80,53.85 L156.30,53.39 L156.80,54.49 L157.30,55.53 L157.80,56.80 L158.30,56.56 L158.80,57.90 L159.30,57.72 L159.80,57.85 L160.30,58.90 L160.80,58.27 L161.30,59.33 L161.80,57.78 L162.30,57.95 L162.80,56.21 L163.30,56.29 L163.80,56.97 L164.30,56.44 L164.80,56.60 L165.30,56.82 L165.80,56.62 L166.30,57.41 L166.80,57.12 L167.30,56.65 L167.80,57.62 L168.30,56.70 L168.80,56.34 L169.30,54.34 L169.80,53.01 L170.30,52.76 L170.80,53.89 L171.30,53.50 L171.80,54.82 L172.30,56.40 L172.80,56.57 L173.30,57.84 L173.80,58.58 L174.30,58.03 L174.80,58.51 L175.30,59.31 L175.80,59.55 L176.30,60.16 L176.80,60.86 L177.30,59.66 L177.80,59.60 L178.30,59.96 L178.80,58.76 L179.30,58.30 L179.80,58.31 L180.30,57.06 L180.80,57.30 L181.30,56.78 L181.80,56.60 L182.30,55.90 L182.80,56.63 L183.30,56.69 L183.80,55.91 L184.30,56.13 L184.80,56.60 L185.30,56.28 L185.80,56.10 L186.30,55.86 L186.80,55.56 L187.30,56.13 L187.80,56.01 L188.30,55.35 L188.80,56.21 L189.30,56.35 L189.80,55.71 L190.30,56.22 L190.80,54.98 L191.30,55.61 L191.80,55.78 L192.30,56.04 L192.80,56.67 L193.30,55.20 L193.80,55.98 L194.30,55.49 L194.80,56.92 L195.30,57.18 L195.80,56.28 L196.30,56.24 L196.80,57.14 L197.30,56.68 L197.80,56.36 L198.30,57.95 L198.80,56.89 L199.30,56.55 L199.80,56.18 L200.30,56.25 L200.80,55.48 L201.30,54.52 L201.80,54.36 L202.30,54.80 L202.80,55.43 L203.30,55.62 L203.80,54.68 L204.30,55.61 L204.80,55.85 L205.30,56.19 L205.80,57.24 L206.30,56.66 L206.80,56.55 L207.30,56.75 L207.80,57.40 L208.30,56.69 L208.80,56.92 L209.30,57.63 L209.80,56.79 L210.30,56.36 L210.80,55.75 L211.30,55.81 L211.80,56.10 L212.30,56.37 L212.80,57.25 L213.30,57.15 L213.80,56.65 L214.30,55.89 L214.80,55.58 L215.30,55.31 L215.80,55.44 L216.30,56.23 L216.80,57.17 L217.30,57.18 L217.80,57.28 L218.30,58.14 L218.80,58.87 L219.30,57.56 L219.80,58.47 L220.30,57.88 L220.80,58.14 L221.30,57.81 L221.80,58.14 L222.30,58.29 L222.80,57.27 L223.30,56.27 L223.80,56.66 L224.30,56.66 L224.80,56.73 L225.30,56.04 L225.80,56.09 L226.30,56.55 L226.80,56.23 L227.30,56.10 L227.80,56.04 L228.30,56.18 L228.80,55.81 L229.30,56.15 L229.80,56.54 L230.30,56.42 L230.80,55.06 L231.30,55.53 L231.80,56.04 L232.30,55.70 L232.80,57.01 L233.30,56.70 L233.80,56.19 L234.30,57.28 L234.80,57.90 L235.30,56.16 L235.80,56.78 L236.30,55.56 L236.80,56.45 L237.30,55.53 L237.80,55.97 L238.30,54.46 L238.80,54.78 L239.30,54.61 L239.80,54.35 L240.30,54.28 L240.80,54.50 L241.30,54.54 L241.80,55.72 L242.30,54.12 L242.80,54.66 L243.30,55.51 L243.80,54.88 L244.30,56.04 L244.80,55.35 L245.30,55.80 L245.80,55.38 L246.30,55.66 L246.80,55.02 L247.30,56.09 L247.80,55.29 L248.30,55.40 L248.80,55.70 L249.30,55.00 L249.80,54.57 L250.30,55.21 L250.80,54.97 L251.30,55.12 L251.80,55.88 L252.30,55.73 L252.80,55.78 L253.30,56.20 L253.80,56.87 L254.30,56.55 L254.80,56.49 L255.30,57.10 L255.80,56.63 L256.30,57.12 L256.80,58.14 L257.30,59.15 L257.80,58.38 L258.30,57.59 L258.80,57.66 L259.30,57.14 L259.80,57.50 L260.30,57.13 L260.80,56.95 L261.30,56.14 L261.80,54.97 L262.30,55.28 L262.80,54.28 L263.30,52.04 L263.80,53.01 L264.30,50.67 L264.80,49.87 L265.30,49.70 L265.80,50.12 L266.30,51.12 L266.80,50.34 L267.30,52.68 L267.80,54.04 L268.30,56.68 L268.80,58.12 L269.30,59.11 L269.80,60.70 L270.30,62.38 L270.80,63.98 L271.30,65.00 L271.80,64.89 L272.30,63.68 L272.80,61.40 L273.30,59.55 L273.80,58.67 L274.30,58.07 L274.80,57.01 L275.30,55.84 L275.80,54.62 L276.30,52.65 L276.80,53.74 L277.30,52.67 L277.80,52.27 L278.30,51.80 L278.80,53.79 L279.30,52.99 L279.80,53.50 L280.30,53.93 L280.80,53.75 L281.30,53.55 L281.80,54.20 L282.30,55.23 L282.80,54.87 L283.30,54.99 L283.80,55.67 L284.30,54.38 L284.80,54.27 L285.30,53.20 L285.30,63.55 L284.80,63.00 L284.30,64.05 L283.80,63.86 L283.30,65.06 L282.80,64.88 L282.30,63.38 L281.80,63.94 L281.30,64.70 L280.80,63.62 L280.30,62.46 L279.80,62.96 L279.30,63.49 L278.80,61.84 L278.30,62.81 L277.80,62.21 L277.30,62.56 L276.80,62.28 L276.30,64.12 L275.80,63.81 L275.30,65.19 L274.80,66.63 L274.30,68.19 L273.80,70.22 L273.30,72.28 L272.80,75.42 L272.30,79.11 L271.80,81.60 L271.30,81.98 L270.80,80.34 L270.30,77.53 L269.80,74.66 L269.30,71.30 L268.80,67.24 L268.30,64.48 L267.80,63.45 L267.30,61.30 L266.80,60.76 L266.30,58.75 L265.80,59.97 L265.30,60.29 L264.80,59.91 L264.30,60.80 L263.80,60.85 L263.30,63.45 L262.80,63.24 L262.30,63.95 L261.80,64.96 L261.30,65.28 L260.80,66.75 L260.30,67.49 L259.80,66.20 L259.30,66.45 L258.80,67.17 L258.30,67.96 L257.80,68.34 L257.30,68.66 L256.80,68.64 L256.30,67.54 L255.80,66.91 L255.30,66.11 L254.80,66.07 L254.30,66.05 L253.80,66.20 L253.30,66.11 L252.80,65.22 L252.30,64.54 L251.80,63.96 L251.30,64.23 L250.80,64.55 L250.30,64.65 L249.80,64.69 L249.30,64.31 L248.80,64.68 L248.30,65.19 L247.80,65.43 L247.30,65.53 L246.80,66.49 L246.30,64.94 L245.80,64.56 L245.30,63.58 L244.80,64.42 L244.30,64.17 L243.80,65.46 L243.30,65.01 L242.80,65.00 L242.30,65.14 L241.80,64.14 L241.30,64.87 L240.80,63.56 L240.30,63.09 L239.80,63.25 L239.30,63.38 L238.80,63.14 L238.30,63.87 L237.80,63.80 L237.30,65.33 L236.80,64.98 L236.30,66.19 L235.80,65.37 L235.30,67.40 L234.80,66.40 L234.30,66.68 L233.80,67.22 L233.30,65.95 L232.80,65.40 L232.30,66.25 L231.80,65.65 L231.30,65.64 L230.80,65.14 L230.30,64.49 L229.80,65.32 L229.30,65.28 L228.80,65.23 L228.30,65.15 L227.80,65.58 L227.30,65.56 L226.80,65.00 L226.30,64.73 L225.80,65.73 L225.30,65.46 L224.80,65.21 L224.30,67.01 L223.80,67.45 L223.30,67.88 L222.80,68.36 L222.30,68.52 L221.80,69.03 L221.30,69.28 L220.80,68.98 L220.30,69.44 L219.80,68.18 L219.30,68.69 L218.80,67.55 L218.30,67.85 L217.80,67.60 L217.30,66.12 L216.80,64.78 L216.30,64.78 L215.80,64.76 L215.30,64.38 L214.80,64.67 L214.30,65.82 L213.80,66.33 L213.30,65.65 L212.80,64.50 L212.30,65.09 L211.80,65.22 L211.30,65.48 L210.80,65.74 L210.30,65.40 L209.80,65.36 L209.30,64.77 L208.80,65.94 L208.30,66.73 L207.80,65.86 L207.30,66.62 L206.80,67.35 L206.30,66.82 L205.80,65.65 L205.30,66.23 L204.80,65.69 L204.30,64.76 L203.80,65.46 L203.30,65.01 L202.80,64.69 L202.30,64.43 L201.80,64.03 L201.30,64.19 L200.80,64.65 L200.30,64.60 L199.80,65.34 L199.30,65.77 L198.80,66.83 L198.30,66.79 L197.80,67.83 L197.30,67.93 L196.80,67.99 L196.30,67.69 L195.80,66.82 L195.30,65.84 L194.80,65.29 L194.30,65.52 L193.80,64.93 L193.30,66.28 L192.80,65.19 L192.30,66.31 L191.80,66.54 L191.30,65.90 L190.80,65.70 L190.30,64.04 L189.80,64.66 L189.30,64.46 L188.80,64.82 L188.30,65.44 L187.80,64.62 L187.30,64.52 L186.80,65.22 L186.30,65.32 L185.80,65.10 L185.30,64.94 L184.80,64.77 L184.30,65.12 L183.80,65.66 L183.30,65.18 L182.80,65.38 L182.30,66.77 L181.80,66.68 L181.30,66.18 L180.80,66.13 L180.30,68.14 L179.80,67.67 L179.30,68.48 L178.80,69.52 L178.30,69.61 L177.80,71.29 L177.30,72.93 L176.80,72.93 L176.30,72.90 L175.80,72.03 L175.30,70.65 L174.80,69.45 L174.30,68.76 L173.80,67.92 L173.30,67.64 L172.80,67.09 L172.30,65.39 L171.80,64.58 L171.30,63.37 L170.80,61.54 L170.30,62.38 L169.80,62.81 L169.30,63.88 L168.80,64.84 L168.30,66.66 L167.80,67.36 L167.30,68.56 L166.80,66.96 L166.30,65.46 L165.80,65.57 L165.30,65.23 L164.80,65.88 L164.30,66.19 L163.80,65.03 L163.30,65.34 L162.80,66.15 L162.30,66.07 L161.80,68.19 L161.30,68.48 L160.80,70.74 L160.30,69.61 L159.80,69.30 L159.30,68.41 L158.80,66.68 L158.30,66.67 L157.80,65.37 L157.30,64.51 L156.80,63.48 L156.30,63.54 L155.80,62.76 L155.30,63.64 L154.80,63.71 L154.30,64.07 L153.80,64.57 L153.30,65.32 L152.80,65.56 L152.30,65.78 L151.80,67.08 L151.30,65.96 L150.80,65.21 L150.30,65.30 L149.80,66.40 L149.30,65.47 L148.80,65.44 L148.30,66.12 L147.80,65.80 L147.30,65.55 L146.80,66.02 L146.30,67.26 L145.80,66.25 L145.30,66.00 L144.80,65.44 L144.30,65.06 L143.80,65.54 L143.30,65.60 L142.80,64.51 L142.30,64.10 L141.80,63.47 L141.30,62.25 L140.80,62.40 L140.30,61.36 L139.80,60.72 L139.30,60.14 L138.80,59.21 L138.30,58.28 L137.80,57.59 L137.30,58.78 L136.80,59.42 L136.30,59.93 L135.80,60.73 L135.30,62.28 L134.80,66.47 L134.30,71.29 L133.80,76.50 L133.30,82.97 L132.80,89.48 L132.30,94.59 L131.80,100.08 L131.30,103.41 L130.80,99.70 L130.30,93.17 L129.80,87.05 L129.30,79.84 L128.80,73.46 L128.30,67.54 L127.80,62.02 L127.30,58.03 L126.80,56.05 L126.30,54.30 L125.80,53.67 L125.30,53.43 L124.80,55.65 L124.30,57.59 L123.80,60.75 L123.30,61.80 L122.80,62.87 L122.30,64.00 L121.80,64.22 L121.30,64.03 L120.80,64.10 L120.30,64.09 L119.80,64.62 L119.30,63.81 L118.80,63.63 L118.30,62.54 L117.80,63.01 L117.30,63.86 L116.80,63.57 L116.30,64.89 L115.80,64.85 L115.30,65.34 L114.80,64.54 L114.30,65.03 L113.80,65.22 L113.30,64.26 L112.80,64.56 L112.30,65.59 L111.80,65.06 L111.30,65.57 L110.80,64.79 L110.30,65.94 L109.80,65.69 L109.30,65.77 L108.80,65.70 L108.30,65.19Z" fill="#f2cc9f" opacity="0.95"/>
<path d="M108.30,61.11 L108.80,61.18 L109.30,61.31 L109.80,61.18 L110.30,60.89 L110.80,60.70 L111.30,60.61 L111.80,60.75 L112.30,60.55 L112.80,59.92 L113.30,60.03 L113.80,60.56 L114.30,60.52 L114.80,60.18 L115.30,60.25 L115.80,60.19 L116.30,59.43 L116.80,58.79 L117.30,58.63 L117.80,58.60 L118.30,58.51 L118.80,58.61 L119.30,59.13 L119.80,59.31 L120.30,59.26 L120.80,59.47 L121.30,59.58 L121.80,59.60 L122.30,59.19 L122.80,58.36 L123.30,57.20 L123.80,55.21 L124.30,53.05 L124.80,50.84 L125.30,48.69 L125.80,48.20 L126.30,49.16 L126.80,50.74 L127.30,53.56 L127.80,57.66 L128.30,62.32 L128.80,67.03 L129.30,72.03 L129.80,77.17 L130.30,82.02 L130.80,86.73 L131.30,89.37 L131.80,87.48 L132.30,83.28 L132.80,79.10 L133.30,74.30 L133.80,69.43 L134.30,65.33 L134.80,61.50 L135.30,58.22 L135.80,56.14 L136.30,54.80 L136.80,54.05 L137.30,53.43 L137.80,52.89 L138.30,53.26 L138.80,54.34 L139.30,55.39 L139.80,55.81 L140.30,56.06 L140.80,56.78 L141.30,57.82 L141.80,58.89 L142.30,59.70 L142.80,60.17 L143.30,60.32 L143.80,60.47 L144.30,60.70 L144.80,60.91 L145.30,61.27 L145.80,61.71 L146.30,61.84 L146.80,61.46 L147.30,61.06 L147.80,61.20 L148.30,61.15 L148.80,60.71 L149.30,60.91 L149.80,61.20 L150.30,60.86 L150.80,60.86 L151.30,61.42 L151.80,61.39 L152.30,60.97 L152.80,60.98 L153.30,60.56 L153.80,60.08 L154.30,59.97 L154.80,59.26 L155.30,58.51 L155.80,58.31 L156.30,58.47 L156.80,58.99 L157.30,60.02 L157.80,61.08 L158.30,61.62 L158.80,62.29 L159.30,63.06 L159.80,63.57 L160.30,64.25 L160.80,64.50 L161.30,63.90 L161.80,62.99 L162.30,62.01 L162.80,61.18 L163.30,60.81 L163.80,61.00 L164.30,61.31 L164.80,61.24 L165.30,61.02 L165.80,61.09 L166.30,61.43 L166.80,62.04 L167.30,62.61 L167.80,62.49 L168.30,61.68 L168.80,60.59 L169.30,59.11 L169.80,57.91 L170.30,57.57 L170.80,57.72 L171.30,58.44 L171.80,59.70 L172.30,60.90 L172.80,61.83 L173.30,62.74 L173.80,63.25 L174.30,63.39 L174.80,63.98 L175.30,64.98 L175.80,65.79 L176.30,66.53 L176.80,66.89 L177.30,66.30 L177.80,65.44 L178.30,64.78 L178.80,64.14 L179.30,63.39 L179.80,62.99 L180.30,62.60 L180.80,61.71 L181.30,61.48 L181.80,61.64 L182.30,61.34 L182.80,61.00 L183.30,60.93 L183.80,60.79 L184.30,60.63 L184.80,60.68 L185.30,60.61 L185.80,60.60 L186.30,60.59 L186.80,60.39 L187.30,60.32 L187.80,60.31 L188.30,60.40 L188.80,60.51 L189.30,60.41 L189.80,60.19 L190.30,60.13 L190.80,60.34 L191.30,60.75 L191.80,61.16 L192.30,61.18 L192.80,60.93 L193.30,60.74 L193.80,60.45 L194.30,60.50 L194.80,61.11 L195.30,61.51 L195.80,61.55 L196.30,61.97 L196.80,62.57 L197.30,62.30 L197.80,62.09 L198.30,62.37 L198.80,61.86 L199.30,61.16 L199.80,60.76 L200.30,60.42 L200.80,60.06 L201.30,59.35 L201.80,59.19 L202.30,59.62 L202.80,60.06 L203.30,60.32 L203.80,60.07 L204.30,60.18 L204.80,60.77 L205.30,61.21 L205.80,61.45 L206.30,61.74 L206.80,61.95 L207.30,61.69 L207.80,61.63 L208.30,61.71 L208.80,61.43 L209.30,61.20 L209.80,61.08 L210.30,60.88 L210.80,60.75 L211.30,60.65 L211.80,60.66 L212.30,60.73 L212.80,60.87 L213.30,61.40 L213.80,61.49 L214.30,60.86 L214.80,60.12 L215.30,59.84 L215.80,60.10 L216.30,60.50 L216.80,60.97 L217.30,61.65 L217.80,62.44 L218.30,62.99 L218.80,63.21 L219.30,63.13 L219.80,63.33 L220.30,63.66 L220.80,63.56 L221.30,63.55 L221.80,63.59 L222.30,63.40 L222.80,62.82 L223.30,62.07 L223.80,62.05 L224.30,61.83 L224.80,60.97 L225.30,60.75 L225.80,60.91 L226.30,60.64 L226.80,60.61 L227.30,60.83 L227.80,60.81 L228.30,60.67 L228.80,60.52 L229.30,60.71 L229.80,60.93 L230.30,60.46 L230.80,60.10 L231.30,60.59 L231.80,60.84 L232.30,60.98 L232.80,61.21 L233.30,61.32 L233.80,61.70 L234.30,61.98 L234.80,62.15 L235.30,61.78 L235.80,61.08 L236.30,60.88 L236.80,60.72 L237.30,60.43 L237.80,59.89 L238.30,59.16 L238.80,58.96 L239.30,58.99 L239.80,58.80 L240.30,58.68 L240.80,59.03 L241.30,59.70 L241.80,59.93 L242.30,59.63 L242.80,59.83 L243.30,60.26 L243.80,60.17 L244.30,60.11 L244.80,59.88 L245.30,59.69 L245.80,59.97 L246.30,60.30 L246.80,60.76 L247.30,60.81 L247.80,60.36 L248.30,60.30 L248.80,60.19 L249.30,59.66 L249.80,59.63 L250.30,59.93 L250.80,59.76 L251.30,59.67 L251.80,59.92 L252.30,60.14 L252.80,60.50 L253.30,61.15 L253.80,61.53 L254.30,61.30 L254.80,61.28 L255.30,61.60 L255.80,61.77 L256.30,62.33 L256.80,63.39 L257.30,63.90 L257.80,63.36 L258.30,62.78 L258.80,62.41 L259.30,61.79 L259.80,61.85 L260.30,62.31 L260.80,61.85 L261.30,60.71 L261.80,59.96 L262.30,59.61 L262.80,58.76 L263.30,57.74 L263.80,56.93 L264.30,55.74 L264.80,54.89 L265.30,54.99 L265.80,55.04 L266.30,54.94 L266.80,55.55 L267.30,56.99 L267.80,58.75 L268.30,60.58 L268.80,62.68 L269.30,65.20 L269.80,67.68 L270.30,69.96 L270.80,72.16 L271.30,73.49 L271.80,73.25 L272.30,71.39 L272.80,68.41 L273.30,65.91 L273.80,64.44 L274.30,63.13 L274.80,61.82 L275.30,60.51 L275.80,59.21 L276.30,58.39 L276.80,58.01 L277.30,57.62 L277.80,57.24 L278.30,57.31 L278.80,57.81 L279.30,58.24 L279.80,58.23 L280.30,58.20 L280.80,58.69 L281.30,59.13 L281.80,59.07 L282.30,59.31 L282.80,59.88 L283.30,60.03 L283.80,59.76 L284.30,59.22 L284.80,58.63 L285.30,58.38" stroke="#e07250" stroke-width="1.0" fill="none" stroke-linejoin="round"/>
<path d="M105.1,113.60 H108.3 M105.1,95.84 H108.3 M105.1,78.08 H108.3 M105.1,60.32 H108.3 M105.1,42.56 H108.3 M105.1,24.80 H108.3 M108.30,113.6 V116.8 M143.70,113.6 V116.8 M179.10,113.6 V116.8 M214.50,113.6 V116.8 M249.90,113.6 V116.8 M285.30,113.6 V116.8 M126.00,113.6 V115.6 M161.40,113.6 V115.6 M196.80,113.6 V115.6 M232.20,113.6 V115.6 M267.60,113.6 V115.6" stroke="#555" stroke-width="0.9" fill="none"/>
<rect x="108.3" y="24.8" width="177.0" height="88.8" stroke="#666" stroke-width="1" fill="none"/>
<text x="103.3" y="116.70" font-family="Liberation Serif, serif" stroke="#2a2a2a" stroke-width="0.1" font-size="9.5" text-anchor="end" fill="#2a2a2a">−20</text>
<text x="103.3" y="98.94" font-family="Liberation Serif, serif" stroke="#2a2a2a" stroke-width="0.1" font-size="9.5" text-anchor="end" fill="#2a2a2a">0</text>
<text x="103.3" y="81.18" font-family="Liberation Serif, serif" stroke="#2a2a2a" stroke-width="0.1" font-size="9.5" text-anchor="end" fill="#2a2a2a">20</text>
<text x="103.3" y="63.42" font-family="Liberation Serif, serif" stroke="#2a2a2a" stroke-width="0.1" font-size="9.5" text-anchor="end" fill="#2a2a2a">40</text>
<text x="103.3" y="45.66" font-family="Liberation Serif, serif" stroke="#2a2a2a" stroke-width="0.1" font-size="9.5" text-anchor="end" fill="#2a2a2a">60</text>
<text x="103.3" y="27.90" font-family="Liberation Serif, serif" stroke="#2a2a2a" stroke-width="0.1" font-size="9.5" text-anchor="end" fill="#2a2a2a">80</text>
<text x="108.30" y="126.6" font-family="Liberation Serif, serif" stroke="#2a2a2a" stroke-width="0.1" font-size="9.5" text-anchor="middle" fill="#2a2a2a">0.80</text>
<text x="143.70" y="126.6" font-family="Liberation Serif, serif" stroke="#2a2a2a" stroke-width="0.1" font-size="9.5" text-anchor="middle" fill="#2a2a2a">0.82</text>
<text x="179.10" y="126.6" font-family="Liberation Serif, serif" stroke="#2a2a2a" stroke-width="0.1" font-size="9.5" text-anchor="middle" fill="#2a2a2a">0.84</text>
<text x="214.50" y="126.6" font-family="Liberation Serif, serif" stroke="#2a2a2a" stroke-width="0.1" font-size="9.5" text-anchor="middle" fill="#2a2a2a">0.86</text>
<text x="249.90" y="126.6" font-family="Liberation Serif, serif" stroke="#2a2a2a" stroke-width="0.1" font-size="9.5" text-anchor="middle" fill="#2a2a2a">0.88</text>
<text x="285.30" y="126.6" font-family="Liberation Serif, serif" stroke="#2a2a2a" stroke-width="0.1" font-size="9.5" text-anchor="middle" fill="#2a2a2a">0.90</text>
</svg></body></html>
